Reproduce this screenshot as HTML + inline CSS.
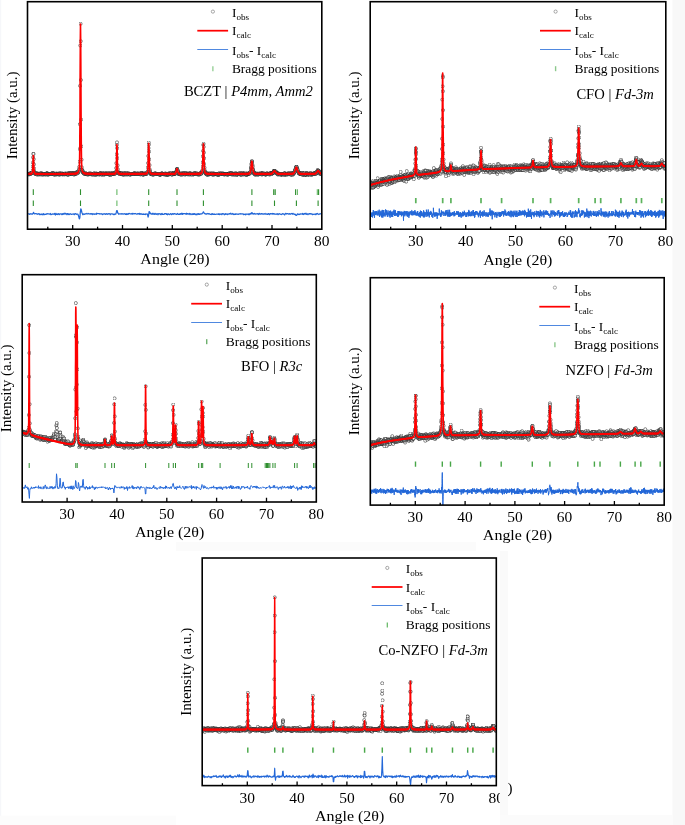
<!DOCTYPE html>
<html><head><meta charset="utf-8"><title>XRD Rietveld refinement</title>
<style>
html,body{margin:0;padding:0;background:#fff}
body{width:685px;height:825px;overflow:hidden}
svg{display:block}
text{font-family:"Liberation Serif","Times New Roman",serif;fill:#000}
.tk text{font-size:14.6px;text-anchor:middle}
.ax{font-size:15px}
.lg text{font-size:13.45px}
.sb{font-size:9.1px}
.lb{font-size:14.6px}
</style></head><body>
<svg width="685" height="825" viewBox="0 0 685 825">
<defs><marker id="mk" markerWidth="4" markerHeight="4" refX="2" refY="2" markerUnits="userSpaceOnUse"><circle cx="2" cy="2" r="1.6" fill="#fff" fill-opacity="0.5" stroke="#1a1a1a" stroke-width="0.5"/></marker></defs>
<rect width="685" height="825" fill="#fff"/>
<rect x="672.5" y="0" width="12.5" height="825" fill="#f8f8f8"/>
<rect x="176" y="542" width="300" height="9" fill="#fbfbfb"/>
<rect x="500" y="551" width="8" height="274" fill="#fafafa"/>
<rect x="500" y="815" width="172.5" height="10" fill="#fbfbfb"/>
<rect x="0" y="0" width="1.2" height="825" fill="#f6f7fa"/>
<rect x="0" y="815.7" width="176" height="9.3" fill="#fcfcfc"/>
<g id="p1">
<clipPath id="clipp1"><rect x="27.5" y="1.7" width="294.3" height="227.5"/></clipPath>
<g clip-path="url(#clipp1)">
<polyline fill="none" stroke="none" marker-start="url(#mk)" marker-mid="url(#mk)" marker-end="url(#mk)" points="27.5,174 27.7,174.1 27.9,173.8 28.1,173.5 28.3,173.7 28.5,173.5 28.7,174 28.9,174.5 29.1,173.7 29.3,173.6 29.5,174.1 29.7,174 29.9,173.9 30.1,173.4 30.3,173.8 30.5,174.1 30.7,173.2 30.9,173.5 31.1,172.8 31.3,173.1 31.5,172.7 31.7,173.3 31.9,172.7 32.1,173 32.3,172.2 32.5,170.5 32.7,166.5 32.9,162.7 33.1,157.4 33.3,153.8 33.5,154 33.7,159.2 33.9,164.4 34.1,168.5 34.3,171.8 34.5,172.1 34.7,173 34.9,173.7 35.1,173.2 35.3,173.5 35.5,173.7 35.7,173.7 35.9,173.2 36.1,173.8 36.3,174.4 36.5,173.1 36.7,174.2 36.9,173.9 37.1,173.6 37.3,174.8 37.5,174.2 37.7,173.4 37.9,174 38.1,174.2 38.3,173.8 38.5,174.2 38.7,173.9 38.9,174.2 39.1,174.6 39.3,173.6 39.5,174 39.7,173.7 39.9,174 40.1,173.4 40.3,173.7 40.5,173.9 40.7,174.4 40.9,174.5 41.1,173.4 41.3,173.6 41.4,174.3 41.6,173.1 41.8,173.8 42,173.9 42.2,174.5 42.4,174.3 42.6,173.8 42.8,173.8 43,173.9 43.2,174.7 43.4,173.8 43.6,173.8 43.8,174.1 44,173.9 44.2,173.9 44.4,173.5 44.6,174 44.8,173.8 45,174.5 45.2,174.3 45.4,174 45.6,174.3 45.8,173.8 46,174.5 46.2,174 46.4,174.2 46.6,173.4 46.8,174.1 47,173.2 47.2,173.1 47.4,173.8 47.6,173.6 47.8,174.1 48,175 48.2,173.6 48.4,173.7 48.6,174.1 48.8,174.2 49,173.9 49.2,173.9 49.4,174.3 49.6,174.2 49.8,173.5 50,173.9 50.2,174 50.4,173.5 50.6,174.1 50.8,173.6 51,174.4 51.2,174.1 51.4,174 51.6,173.7 51.8,173.9 52,173.1 52.2,173.5 52.4,174.1 52.6,173 52.8,174.4 53,173.2 53.2,174.3 53.4,173.6 53.6,174.3 53.8,174 54,173.3 54.2,174.5 54.4,174.6 54.6,174 54.8,173.9 55,173.9 55.2,173.5 55.4,174.5 55.6,173.7 55.8,174 56,173.6 56.2,173.7 56.4,173.4 56.6,174.5 56.8,173.9 57,174.4 57.2,174 57.4,173.7 57.6,173.8 57.8,173.7 58,174 58.2,173.8 58.4,173.8 58.6,173.4 58.8,173.6 59,174.7 59.2,173.7 59.4,173.5 59.6,174.1 59.8,174.6 60,173.3 60.2,173.9 60.4,173.7 60.6,173.2 60.8,174.3 61,174 61.2,174 61.4,173.6 61.6,174.2 61.8,173.7 62,173.9 62.2,173.5 62.4,173.4 62.6,174.6 62.8,173.7 63,174.1 63.2,173.9 63.4,173.8 63.6,173.7 63.8,174.2 64,173.8 64.2,173.9 64.4,174 64.6,174.5 64.8,174.3 65,174.1 65.2,173.7 65.4,173.3 65.6,174.4 65.8,174.4 66,173.9 66.2,174.2 66.4,174.3 66.6,174.3 66.8,174.4 67,173.7 67.2,174.6 67.4,173.4 67.6,174.3 67.8,174.2 68,174.3 68.2,174.8 68.4,174.6 68.6,173.4 68.8,173.2 69,174.3 69.1,173.5 69.3,173.9 69.5,174.3 69.7,173.2 69.9,173 70.1,174 70.3,173.9 70.5,173.8 70.7,173.9 70.9,173.5 71.1,173.2 71.3,173.8 71.5,173.4 71.7,173.1 71.9,174.1 72.1,173.8 72.3,174 72.5,173.4 72.7,173.5 72.9,173.4 73.1,173.4 73.3,173.9 73.5,173.4 73.7,173.9 73.9,173.9 74.1,174.7 74.3,173.1 74.5,174.1 74.7,173.7 74.9,173.7 75.1,173 75.3,173.4 75.5,173.9 75.7,173.5 75.9,173.6 76.1,173.4 76.3,174 76.5,173.4 76.7,172.3 76.9,172.9 77.1,172.3 77.3,171.6 77.5,172.7 77.7,173.3 77.9,172.6 78.1,171.8 78.3,171.6 78.5,172.1 78.7,171.2 78.9,170.4 79.1,169.2 79.3,166.9 79.5,161.8 79.7,149 79.9,124.2 80.1,85.8 80.3,45.5 80.5,23.8 80.7,41.2 80.9,80 81.1,119.6 81.3,146.3 81.5,159.7 81.7,167.2 81.9,169.6 82.1,170 82.3,171.4 82.5,171.7 82.7,170.8 82.9,172.4 83.1,172.5 83.3,172.8 83.5,172.4 83.7,172.9 83.9,173 84.1,173.8 84.3,173.4 84.5,173.4 84.7,174.1 84.9,173.2 85.1,173.3 85.3,172.7 85.5,174.3 85.7,174.1 85.9,174.1 86.1,174 86.3,173.7 86.5,173.8 86.7,173.6 86.9,173.7 87.1,173.8 87.3,174.5 87.5,174 87.7,173.8 87.9,173.5 88.1,173.5 88.3,174.6 88.5,174.1 88.7,173.9 88.9,173.7 89.1,173.4 89.3,173.8 89.5,174.3 89.7,173.7 89.9,173.8 90.1,173.8 90.3,173.9 90.5,173.2 90.7,173.8 90.9,173.5 91.1,174.3 91.3,173.6 91.5,174.2 91.7,174.6 91.9,173.8 92.1,173.6 92.3,174 92.5,173.9 92.7,173.5 92.9,174.1 93.1,174.8 93.3,173.8 93.5,173.8 93.7,173.5 93.9,174.1 94.1,173.4 94.3,173.4 94.5,174.5 94.7,173.5 94.9,174.4 95.1,174.6 95.3,174.1 95.5,174.2 95.7,174.8 95.9,173.9 96.1,173.7 96.3,173.3 96.5,174 96.7,174.6 96.8,174.4 97,173.5 97.2,173.6 97.4,173.7 97.6,174.1 97.8,173.9 98,174.1 98.2,174.1 98.4,173.8 98.6,173.9 98.8,174.1 99,173.9 99.2,174.2 99.4,174.8 99.6,174.2 99.8,174 100,173.2 100.2,174.1 100.4,173.1 100.6,173.3 100.8,174.4 101,174.3 101.2,173.9 101.4,173.2 101.6,173.8 101.8,173.7 102,174.3 102.2,175 102.4,174.1 102.6,173.6 102.8,173.4 103,173.9 103.2,173.9 103.4,173.4 103.6,174 103.8,173.4 104,174.5 104.2,174.4 104.4,174.5 104.6,173.8 104.8,174.2 105,173.9 105.2,173.8 105.4,173.8 105.6,173.4 105.8,173.3 106,174.3 106.2,173.9 106.4,174.1 106.6,174.4 106.8,173.2 107,173.6 107.2,174 107.4,174.1 107.6,173.8 107.8,174.4 108,174.1 108.2,173.4 108.4,173.5 108.6,174.3 108.8,174.2 109,173.1 109.2,174.6 109.4,174.2 109.6,174.6 109.8,173.8 110,173.8 110.2,173.4 110.4,175.1 110.6,173.9 110.8,174.6 111,173.6 111.2,174 111.4,173.2 111.6,173.7 111.8,174.4 112,173.3 112.2,174.4 112.4,174 112.6,173.4 112.8,173.6 113,173.7 113.2,173.8 113.4,173.6 113.6,173.4 113.8,173.7 114,173.3 114.2,173.2 114.4,173.7 114.6,174 114.8,172.9 115,173.5 115.2,173.1 115.4,172.7 115.6,173.2 115.8,172 116,171.8 116.2,168.1 116.4,163.2 116.6,154.2 116.8,144.9 117,142.4 117.2,148.2 117.4,158.1 117.6,165.4 117.8,169.2 118,171.6 118.2,172.6 118.4,173.4 118.6,172.8 118.8,173.4 119,172.7 119.2,173.9 119.4,173.2 119.6,172.9 119.8,173.7 120,174.3 120.2,173.1 120.4,173.3 120.6,173.5 120.8,173.3 121,174 121.2,173.5 121.4,173.6 121.6,174.2 121.8,173.6 122,174.1 122.2,173.5 122.4,173.4 122.6,173.1 122.8,174.8 123,173.8 123.2,174 123.4,173.9 123.6,174 123.8,174 124,174.8 124.2,173.5 124.4,173.3 124.5,173.5 124.7,173.4 124.9,174.3 125.1,174.3 125.3,173.5 125.5,173.3 125.7,173.8 125.9,174.6 126.1,172.7 126.3,174.2 126.5,173.5 126.7,174.4 126.9,173.5 127.1,173.8 127.3,173.3 127.5,173.5 127.7,174.6 127.9,174.3 128.1,173.8 128.3,173.6 128.5,173.1 128.7,173.8 128.9,174 129.1,173.9 129.3,173.9 129.5,173.5 129.7,173.9 129.9,174 130.1,174.6 130.3,174.8 130.5,173.9 130.7,173.6 130.9,173.9 131.1,173.7 131.3,173.6 131.5,173.9 131.7,173.5 131.9,174.2 132.1,173.9 132.3,174.1 132.5,173.9 132.7,173.6 132.9,173.5 133.1,173.9 133.3,173.7 133.5,174.1 133.7,174 133.9,173.4 134.1,174 134.3,173.4 134.5,173.7 134.7,173.8 134.9,173 135.1,174 135.3,174 135.5,173.9 135.7,173.8 135.9,173.8 136.1,173.5 136.3,173.9 136.5,173.7 136.7,174 136.9,173.4 137.1,174.1 137.3,174 137.5,173.9 137.7,173.8 137.9,174.2 138.1,173.2 138.3,174.2 138.5,174.1 138.7,174.1 138.9,174.1 139.1,173.7 139.3,173.8 139.5,174.2 139.7,174.2 139.9,174.1 140.1,173.3 140.3,174.2 140.5,174.5 140.7,174.4 140.9,174.1 141.1,173.2 141.3,174.4 141.5,173.9 141.7,172.8 141.9,174.1 142.1,173.3 142.3,173.3 142.5,173.6 142.7,174.5 142.9,173.8 143.1,174 143.3,174.7 143.5,174.6 143.7,173.8 143.9,173.8 144.1,173.3 144.3,173.6 144.5,174 144.7,174 144.9,173.9 145.1,174.3 145.3,173.4 145.5,173.7 145.7,174.1 145.9,174 146.1,174.1 146.3,173.8 146.5,173.4 146.7,173.6 146.9,172.9 147.1,172.4 147.3,173.1 147.5,172.2 147.7,171.1 147.9,167.4 148.1,163.1 148.3,156 148.5,148.1 148.7,142.5 148.9,144.6 149.1,151.6 149.3,159.2 149.5,165.1 149.7,169.4 149.9,171.9 150.1,171.3 150.3,172.9 150.5,173.5 150.7,173.7 150.9,174.2 151.1,174.1 151.3,173.8 151.5,173.8 151.7,174.1 151.9,173.5 152,173.8 152.2,174.2 152.4,174.7 152.6,173.8 152.8,173.8 153,173.9 153.2,174.5 153.4,173.9 153.6,174.6 153.8,173.5 154,173.8 154.2,173.8 154.4,174.3 154.6,174.4 154.8,173.2 155,173.5 155.2,174.1 155.4,173.6 155.6,173.3 155.8,174.4 156,174.2 156.2,174.2 156.4,173.7 156.6,174.4 156.8,173.8 157,174.4 157.2,173.5 157.4,173.6 157.6,174.1 157.8,173.6 158,174.3 158.2,174.1 158.4,173.5 158.6,174 158.8,173.8 159,174.4 159.2,173.7 159.4,173.8 159.6,174.5 159.8,175 160,174.9 160.2,174 160.4,174.1 160.6,174.7 160.8,173.9 161,173.5 161.2,174 161.4,174.2 161.6,173.6 161.8,173.2 162,173.3 162.2,174.3 162.4,173.6 162.6,173.9 162.8,174.1 163,174.3 163.2,173.8 163.4,174.2 163.6,173.6 163.8,173.8 164,173.5 164.2,174.5 164.4,174 164.6,173.6 164.8,173.8 165,173.9 165.2,174.3 165.4,173.3 165.6,173.5 165.8,173.8 166,175.1 166.2,174.4 166.4,173.9 166.6,174.3 166.8,174.9 167,173.9 167.2,173.8 167.4,174.5 167.6,174.2 167.8,174.3 168,173.7 168.2,174.8 168.4,174.7 168.6,174.2 168.8,174.3 169,173.1 169.2,174.3 169.4,173.9 169.6,174.2 169.8,174.3 170,173.8 170.2,173.2 170.4,174.1 170.6,173.6 170.8,173.8 171,173.7 171.2,173.8 171.4,172.9 171.6,174.5 171.8,174.1 172,174.4 172.2,174.8 172.4,173.9 172.6,173.1 172.8,173.5 173,173.4 173.2,173.7 173.4,173.9 173.6,173 173.8,174 174,173.2 174.2,174 174.4,173.8 174.6,173.7 174.8,173.7 175,173.5 175.2,173.3 175.4,172.7 175.6,173.1 175.8,173.5 176,173 176.2,172 176.4,171 176.6,169.5 176.8,169.8 177,168.8 177.2,168.9 177.4,169.3 177.6,170.2 177.8,170.7 178,171.7 178.2,171.9 178.4,172.7 178.6,174.3 178.8,173.5 179,173.5 179.2,174 179.4,174.1 179.6,173.3 179.7,173.8 179.9,174.3 180.1,174 180.3,173.9 180.5,174.6 180.7,173.6 180.9,174 181.1,173.7 181.3,174.6 181.5,173.1 181.7,173.6 181.9,173.7 182.1,174.2 182.3,174.2 182.5,174.6 182.7,173.2 182.9,174.3 183.1,173.8 183.3,173.7 183.5,174.2 183.7,173.5 183.9,173 184.1,173.8 184.3,173.3 184.5,173.7 184.7,174.1 184.9,174.1 185.1,174.7 185.3,173.9 185.5,173.3 185.7,173.6 185.9,173.6 186.1,173.4 186.3,174.2 186.5,173.7 186.7,173.1 186.9,174.3 187.1,173.9 187.3,174.1 187.5,174 187.7,174.3 187.9,174 188.1,174.5 188.3,174.2 188.5,174.1 188.7,174.2 188.9,173.3 189.1,173.9 189.3,173.9 189.5,174.1 189.7,173.4 189.9,174.7 190.1,174 190.3,173.4 190.5,173.2 190.7,173.8 190.9,173.9 191.1,173.6 191.3,174 191.5,173.7 191.7,174.2 191.9,173.6 192.1,173.9 192.3,174.4 192.5,175.1 192.7,173.5 192.9,173.7 193.1,173.6 193.3,174.3 193.5,173.4 193.7,173.7 193.9,173.9 194.1,173.5 194.3,173.5 194.5,173.7 194.7,173 194.9,173.3 195.1,173.8 195.3,174 195.5,173.8 195.7,173.1 195.9,173.7 196.1,174.3 196.3,174.2 196.5,173.9 196.7,173.5 196.9,174.2 197.1,173.6 197.3,173.4 197.5,173.5 197.7,174.5 197.9,174 198.1,174.4 198.3,173.6 198.5,174.3 198.7,173.6 198.9,173.7 199.1,174.9 199.3,174.1 199.5,173.5 199.7,173.7 199.9,173.8 200.1,174.2 200.3,173.4 200.5,172.8 200.7,173.4 200.9,173.5 201.1,173.4 201.3,173.8 201.5,173.2 201.7,173.1 201.9,171.8 202.1,171.7 202.3,170.5 202.5,166.9 202.7,162.2 202.9,156.3 203.1,150.9 203.3,144.8 203.5,143.8 203.7,146.9 203.9,152.6 204.1,158.3 204.3,164 204.5,167.7 204.7,170.4 204.9,171.7 205.1,172 205.3,172.9 205.5,173.5 205.7,172.8 205.9,173.3 206.1,173.8 206.3,173.1 206.5,173.7 206.7,173.2 206.9,174.2 207.1,174.8 207.3,174.7 207.4,173.7 207.6,174.1 207.8,173.9 208,173.9 208.2,174.5 208.4,173.3 208.6,174.3 208.8,173.8 209,174.5 209.2,174 209.4,173.6 209.6,174 209.8,174.2 210,173.9 210.2,174.1 210.4,173.7 210.6,173 210.8,174.3 211,174.2 211.2,174 211.4,174 211.6,174.4 211.8,173.7 212,173.6 212.2,173.9 212.4,174.5 212.6,173.3 212.8,174.5 213,173.7 213.2,173.5 213.4,174.5 213.6,173.9 213.8,173.4 214,173.8 214.2,174.4 214.4,174.5 214.6,173.8 214.8,174.1 215,174.3 215.2,173.7 215.4,174.1 215.6,174 215.8,173.7 216,173.7 216.2,174 216.4,174 216.6,173.7 216.8,173.8 217,174.5 217.2,174.1 217.4,174.4 217.6,174.5 217.8,174.2 218,175 218.2,173.6 218.4,174.3 218.6,173.8 218.8,174.8 219,174.7 219.2,173.1 219.4,173.5 219.6,174.3 219.8,174.3 220,174.3 220.2,173.9 220.4,174.2 220.6,174.3 220.8,173.9 221,174.4 221.2,173 221.4,174.3 221.6,173.5 221.8,174.4 222,173.9 222.2,173.6 222.4,174.2 222.6,173.6 222.8,173.6 223,173.3 223.2,174 223.4,174.2 223.6,174.4 223.8,173.9 224,174.5 224.2,174 224.4,173.9 224.6,174.2 224.8,174.5 225,173.8 225.2,173.9 225.4,173.9 225.6,174 225.8,173.6 226,174.4 226.2,173.8 226.4,174.2 226.6,173.6 226.8,174.1 227,174.2 227.2,173.8 227.4,174.9 227.6,174.2 227.8,174.8 228,174.4 228.2,173.7 228.4,173.8 228.6,174.2 228.8,174 229,174 229.2,173.9 229.4,173.2 229.6,173.9 229.8,173 230,174.2 230.2,173.7 230.4,173.7 230.6,173.9 230.8,174.1 231,173.3 231.2,173.2 231.4,173.5 231.6,173.1 231.8,173.5 232,174.7 232.2,173.5 232.4,174.3 232.6,173.4 232.8,174.1 233,173.8 233.2,174 233.4,174.2 233.6,174.8 233.8,174.1 234,174 234.2,173.5 234.4,174.2 234.6,173.9 234.8,174.4 235,174 235.1,174.8 235.3,173.1 235.5,173.8 235.7,174.4 235.9,173.8 236.1,173.6 236.3,173.9 236.5,173.4 236.7,174 236.9,175.1 237.1,174.5 237.3,173.5 237.5,173.6 237.7,173.8 237.9,174.4 238.1,173.6 238.3,173.7 238.5,174.4 238.7,174.4 238.9,173.8 239.1,173.5 239.3,173.3 239.5,173.7 239.7,173 239.9,174.3 240.1,173.7 240.3,174.2 240.5,174.8 240.7,174.5 240.9,173.4 241.1,174.4 241.3,174.5 241.5,173.6 241.7,173.5 241.9,173.9 242.1,173.2 242.3,174.6 242.5,172.9 242.7,173.5 242.9,173.8 243.1,173.9 243.3,174 243.5,174.1 243.7,173.9 243.9,174.5 244.1,173 244.3,173.9 244.5,173.6 244.7,174 244.9,174 245.1,173.5 245.3,173.6 245.5,174.3 245.7,174.1 245.9,173.6 246.1,174.8 246.3,174.9 246.5,173.2 246.7,174 246.9,175 247.1,174.2 247.3,173.9 247.5,173.7 247.7,173.6 247.9,173.7 248.1,173.5 248.3,174.1 248.5,173.6 248.7,173.5 248.9,173.1 249.1,173.6 249.3,173.1 249.5,173.4 249.7,173.7 249.9,173.2 250.1,172.8 250.3,172.1 250.5,171.1 250.7,169.7 250.9,168.1 251.1,166.7 251.3,164 251.5,163.4 251.7,161.6 251.9,161 252.1,161.7 252.3,163.1 252.5,165.2 252.7,166.7 252.9,169.3 253.1,169.9 253.3,170.4 253.5,171.9 253.7,171.9 253.9,173.1 254.1,173.8 254.3,173.8 254.5,173 254.7,173.3 254.9,174.5 255.1,173.9 255.3,173.7 255.5,174.2 255.7,174.9 255.9,174.4 256.1,173.9 256.3,174 256.5,174.1 256.7,173.6 256.9,173.4 257.1,173.9 257.3,173.5 257.5,173.9 257.7,173.9 257.9,175 258.1,173.5 258.3,173.9 258.5,173.8 258.7,174.1 258.9,174.4 259.1,173.7 259.3,173.6 259.5,173.2 259.7,173.5 259.9,174.2 260.1,174 260.3,173.5 260.5,173.8 260.7,174 260.9,174.2 261.1,173.7 261.3,173.8 261.5,173.1 261.7,173.4 261.9,174.7 262.1,173 262.3,173.8 262.5,174.1 262.7,173.8 262.8,173.6 263,173.9 263.2,174 263.4,173.9 263.6,173.1 263.8,173.9 264,173.6 264.2,173.7 264.4,174.1 264.6,174.2 264.8,174.4 265,173.7 265.2,174.4 265.4,174.5 265.6,174.5 265.8,174.6 266,173.9 266.2,173.9 266.4,174.3 266.6,173.3 266.8,174 267,173.7 267.2,173.8 267.4,173.2 267.6,173.5 267.8,173.9 268,174.3 268.2,174.4 268.4,173.9 268.6,173.8 268.8,173.5 269,174.1 269.2,173.8 269.4,174.2 269.6,174.7 269.8,173.9 270,173.2 270.2,173.5 270.4,173.2 270.6,173.3 270.8,174.4 271,173.9 271.2,173.1 271.4,174 271.6,174.2 271.8,173.4 272,173.1 272.2,173.1 272.4,173.2 272.6,173.2 272.8,173.2 273,173 273.2,172.7 273.4,172.5 273.6,171.9 273.8,170.7 274,171.2 274.2,171.2 274.4,170.8 274.6,171.4 274.8,171 275,170.9 275.2,172.1 275.4,172 275.6,172.1 275.8,172.7 276,173 276.2,172.9 276.4,171.9 276.6,172.9 276.8,173.1 277,173 277.2,173.7 277.4,174.2 277.6,173.5 277.8,173.3 278,174.7 278.2,173.6 278.4,173.3 278.6,174 278.8,174.1 279,173.6 279.2,174.3 279.4,173.7 279.6,173.5 279.8,174 280,174.3 280.2,173.6 280.4,174.1 280.6,173.9 280.8,175.2 281,173.6 281.2,174.6 281.4,173.9 281.6,173.9 281.8,174.3 282,174.3 282.2,174.5 282.4,174.1 282.6,173.7 282.8,173.7 283,174.2 283.2,174.2 283.4,174.6 283.6,174.1 283.8,174.4 284,174.6 284.2,174 284.4,173.3 284.6,173.4 284.8,173.3 285,174.7 285.2,173.6 285.4,174.5 285.6,174.2 285.8,174.7 286,174.4 286.2,173.9 286.4,173.9 286.6,174 286.8,174 287,173.7 287.2,173.9 287.4,174.7 287.6,173.2 287.8,174.1 288,173.5 288.2,174 288.4,174.3 288.6,173.9 288.8,174.3 289,173.2 289.2,174.4 289.4,173.6 289.6,174.2 289.8,174 290,172.7 290.2,173.6 290.4,174 290.5,174.6 290.7,174 290.9,174 291.1,173.2 291.3,174.5 291.5,174.7 291.7,173.8 291.9,173.7 292.1,173.1 292.3,174.2 292.5,175 292.7,174 292.9,174.2 293.1,173.8 293.3,173.1 293.5,174 293.7,172.7 293.9,172.9 294.1,172.9 294.3,172.8 294.5,172.2 294.7,171.7 294.9,170.6 295.1,169.8 295.3,169.7 295.5,168.7 295.7,167.9 295.9,167.4 296.1,167.4 296.3,166.6 296.5,166.8 296.7,167 296.9,168.2 297.1,168.9 297.3,170.2 297.5,169.3 297.7,170.3 297.9,171.6 298.1,171.6 298.3,172 298.5,173.3 298.7,172.7 298.9,172.6 299.1,172.7 299.3,173.6 299.5,173.7 299.7,173 299.9,173.2 300.1,174 300.3,174 300.5,173.5 300.7,174.1 300.9,174.1 301.1,173 301.3,173.7 301.5,174 301.7,173.6 301.9,172.9 302.1,173.8 302.3,174.2 302.5,174.6 302.7,172.9 302.9,175.1 303.1,173.4 303.3,174.3 303.5,174.5 303.7,174.4 303.9,174 304.1,173.4 304.3,174.2 304.5,173.6 304.7,172.8 304.9,175.2 305.1,174.3 305.3,174.8 305.5,173.5 305.7,174.6 305.9,174.7 306.1,174.6 306.3,173.9 306.5,173.4 306.7,173.9 306.9,173 307.1,173.2 307.3,174 307.5,173.5 307.7,173.9 307.9,173.9 308.1,174.8 308.3,174.5 308.5,173.9 308.7,174.5 308.9,173.6 309.1,173.8 309.3,174.4 309.5,173.4 309.7,173.8 309.9,173.4 310.1,174 310.3,174.7 310.5,173.6 310.7,174 310.9,173.5 311.1,173.4 311.3,173.4 311.5,174.6 311.7,175 311.9,174.1 312.1,173.6 312.3,174.2 312.5,173.8 312.7,174.3 312.9,174 313.1,174 313.3,174.2 313.5,173.6 313.7,173.7 313.9,173.1 314.1,173.7 314.3,173.2 314.5,173.7 314.7,173.3 314.9,173.8 315.1,173.9 315.3,173 315.5,173.1 315.7,173 315.9,173.6 316.1,173.8 316.3,173.2 316.5,172.4 316.7,173 316.9,171.4 317.1,172.5 317.3,171.2 317.5,170 317.7,172.2 317.9,171.6 318.1,170.3 318.2,170.9 318.4,170.8 318.6,171.1 318.8,170.7 319,171.3 319.2,172.1 319.4,172.3 319.6,173 319.8,172.7 320,174 320.2,172.8 320.4,173.4 320.6,172.6 320.8,173 321,174.2 321.2,173.3 321.4,174 321.6,173.8"/>
<polygon fill="#ff0000" points="28,172.8 31.1,172.6 31.8,172.4 32,172.2 32.2,171.8 32.4,171 32.5,170.3 32.6,169.1 32.8,165.8 33.2,156.5 33.3,154.4 33.5,155.5 33.5,156.5 33.9,165.8 34,167.1 34.1,169.1 34.3,171 34.5,171.8 34.7,172.2 35,172.5 36.5,172.7 47.4,172.9 71.8,172.7 75.3,172.5 76.9,172.1 77.8,171.5 78.3,170.9 78.6,170.2 78.8,169.6 79,168.8 79.2,167.3 79.3,165.8 79.4,164.3 79.6,157.3 79.8,142.4 79.8,137.3 80,115.7 80.1,78.1 80.3,44.4 80.3,40.1 80.5,22.9 80.7,40.1 80.8,58 80.9,78.1 81.1,115.7 81.3,142.4 81.3,145 81.5,157.3 81.7,164.3 81.8,166.8 81.8,167.3 82,168.8 82.3,169.9 82.6,170.7 83,171.3 83.6,171.8 84.3,172.2 86.3,172.6 92.3,172.8 112.2,172.8 114.6,172.6 115.4,172.2 115.8,171.8 115.9,171.2 116.1,169.8 116.2,168.6 116.3,166.9 116.4,161.6 116.6,154.2 116.7,150.7 116.8,146.8 116.9,143.4 117.1,146.8 117.2,149.4 117.3,154.2 117.4,161.6 117.6,166.9 117.7,168.1 117.8,169.8 118,171.2 118.2,171.9 118.5,172.2 119.3,172.6 121.7,172.8 142.6,172.8 145.8,172.6 146.8,172.2 147.1,172 147.3,171.7 147.5,171.1 147.6,170.6 147.7,169.7 147.9,166.6 148.1,162.2 148.1,161.1 148.5,145.6 148.6,144.3 148.7,142.1 148.9,145.6 149.1,150 149.1,153.4 149.4,161.1 149.6,166.6 149.8,169.7 150,171.1 150.2,171.7 150.6,172.2 151.4,172.5 154,172.8 172.6,172.8 174.7,172.7 175,172.6 175.5,172.2 175.7,171.8 176,170.9 176.7,168.3 177,167.7 177,167.7 177.4,168.3 178,170.9 178.5,172 178.7,172.3 179.1,172.6 180.4,172.8 195.4,172.8 199.5,172.6 200.9,172.3 201.4,172 201.6,171.8 201.9,171.1 202.1,169.7 202.4,167.1 202.4,166.7 202.7,161.4 202.9,155.2 202.9,153.8 203.2,146.1 203.4,142.9 203.4,142.7 203.7,146.1 203.9,151.1 203.9,153.8 204.2,161.4 204.4,164.9 204.5,166.7 204.7,169.7 204.9,170.6 205,171.1 205.2,171.8 205.5,172 206.4,172.4 208.6,172.7 223.3,172.9 246.5,172.8 249,172.5 249.3,172.4 249.7,172.1 250.1,171.6 250.2,171.2 250.4,170.3 250.7,168.7 250.8,168 251.5,161.6 251.7,160.5 251.9,160.2 252.2,161.5 252.7,165.9 252.9,168 253.2,169.7 253.3,170.3 253.7,171.6 254,172.1 254.4,172.4 255.8,172.7 262.6,172.8 270.6,172.7 271.6,172.5 272.1,172.2 272.7,171.7 273.9,170.2 274.1,170 274.6,169.9 275.1,170.3 276.3,171.7 277.1,172.4 278.1,172.7 283.6,172.8 291.5,172.7 293.1,172.5 293.7,172.2 294.2,171.5 294.5,170.9 295,169.5 295.8,167 296,166.6 296.4,166.3 296.5,166.3 296.9,167 298,170.4 298.6,171.5 299.1,172.2 299.7,172.5 301.3,172.7 311.5,172.8 314.5,172.7 315.5,172.4 316,172 316.5,171.5 317.5,170 317.9,169.7 318.1,169.7 318.4,169.8 318.9,170.3 319.9,171.7 320.5,172.2 321.4,172.6 321.7,172.7 321.7,174.9 321.4,174.9 320.5,174.5 319.9,173.9 318.9,172.6 318.4,172 318.1,171.9 317.9,172 317.5,172.3 316.5,173.7 316,174.3 315.5,174.6 314.5,174.9 311.5,175.1 301.3,175 299.7,174.7 299.1,174.4 298.6,173.8 298,172.6 296.9,169.3 296.5,168.6 296.4,168.5 296,168.9 295.8,169.3 295,171.8 294.5,173.1 294.2,173.8 293.7,174.4 293.1,174.7 291.5,175 283.6,175.1 278.1,174.9 277.1,174.6 276.3,174 275.1,172.5 274.6,172.1 274.1,172.3 273.9,172.5 272.7,174 272.1,174.5 271.6,174.7 270.6,175 262.6,175.1 255.8,174.9 254.4,174.6 254,174.4 253.7,173.9 253.3,172.5 253.2,172 252.9,170.3 252.7,168.2 252.2,163.7 251.9,162.4 251.7,162.8 251.5,163.9 250.8,170.3 250.7,170.9 250.4,172.5 250.2,173.4 250.1,173.8 249.7,174.4 249.3,174.6 249,174.8 246.5,175 223.3,175.1 208.6,175 206.4,174.7 205.5,174.3 205.2,174 205,173.4 204.9,172.9 204.7,172 204.5,169 204.4,167.1 204.2,163.6 203.9,156 203.9,153.4 203.7,148.4 203.4,144.9 203.4,145.2 203.2,148.4 202.9,156 202.9,157.4 202.7,163.6 202.4,169 202.4,169.4 202.1,172 201.9,173.4 201.6,174 201.4,174.3 200.9,174.6 199.5,174.9 195.4,175.1 180.4,175 179.1,174.8 178.7,174.6 178.5,174.2 178,173.1 177.4,170.5 177,169.9 177,169.9 176.7,170.5 176,173.1 175.7,174.1 175.5,174.4 175,174.8 174.7,174.9 172.6,175.1 154,175 151.4,174.8 150.6,174.4 150.2,174 150,173.4 149.8,171.9 149.6,168.9 149.4,163.4 149.1,155.7 149.1,152.3 148.9,147.9 148.7,144.3 148.6,146.6 148.5,147.9 148.1,163.4 148.1,164.5 147.9,168.9 147.7,171.9 147.6,172.8 147.5,173.4 147.3,174 147.1,174.3 146.8,174.5 145.8,174.8 142.6,175.1 121.7,175 119.3,174.8 118.5,174.5 118.2,174.1 118,173.4 117.8,172.1 117.7,170.3 117.6,169.1 117.4,163.9 117.3,156.5 117.2,151.6 117.1,149 116.9,145.6 116.8,149 116.7,153 116.6,156.5 116.4,163.9 116.3,169.1 116.2,170.8 116.1,172.1 115.9,173.4 115.8,174 115.4,174.5 114.6,174.8 112.2,175 92.3,175 86.3,174.8 84.3,174.4 83.6,174 83,173.5 82.6,172.9 82.3,172.1 82,171 81.8,169.6 81.8,169.1 81.7,166.5 81.5,159.6 81.3,147.2 81.3,144.7 81.1,118 80.9,80.3 80.8,60.2 80.7,42.4 80.5,25.1 80.3,42.4 80.3,46.7 80.1,80.3 80,118 79.8,139.5 79.8,144.7 79.6,159.6 79.4,166.5 79.3,168 79.2,169.6 79,171 78.8,171.9 78.6,172.5 78.3,173.1 77.8,173.8 76.9,174.4 75.3,174.8 71.8,175 47.4,175.1 36.5,175 35,174.7 34.7,174.4 34.5,174.1 34.3,173.2 34.1,171.4 34,169.4 33.9,168.1 33.5,158.7 33.5,157.7 33.3,156.6 33.2,158.7 32.8,168.1 32.6,171.4 32.5,172.5 32.4,173.2 32.2,174.1 32,174.4 31.8,174.6 31.1,174.9 28,175.1"/>
<polyline fill="none" stroke="#ff0000" stroke-width="1.6" stroke-linejoin="round" points="28,174 31.1,173.8 31.8,173.5 32,173.3 32.2,172.9 32.4,172.1 32.5,171.4 32.6,170.2 32.8,166.9 33.2,157.6 33.3,155.5 33.5,156.6 33.5,157.6 33.9,166.9 34,168.3 34.1,170.2 34.3,172.1 34.5,172.9 34.7,173.3 35,173.6 36.5,173.9 47.4,174 71.8,173.9 75.3,173.6 76.9,173.2 77.8,172.7 78.3,172 78.6,171.3 78.8,170.8 79,169.9 79.2,168.4 79.3,166.9 79.4,165.4 79.6,158.4 79.8,143.6 79.8,138.4 80,116.9 80.1,79.2 80.3,45.6 80.3,41.2 80.5,24 80.7,41.2 80.8,59.1 80.9,79.2 81.1,116.9 81.3,143.6 81.3,146.1 81.5,158.4 81.7,165.4 81.8,167.9 81.8,168.4 82,169.9 82.3,171 82.6,171.8 83,172.4 83.6,172.9 84.3,173.3 86.3,173.7 92.3,173.9 112.2,173.9 114.6,173.7 115.4,173.4 115.8,172.9 115.9,172.3 116.1,170.9 116.2,169.7 116.3,168 116.4,162.8 116.6,155.3 116.7,151.9 116.8,147.9 116.9,144.5 117.1,147.9 117.2,150.5 117.3,155.3 117.4,162.8 117.6,168 117.7,169.2 117.8,170.9 118,172.3 118.2,173 118.5,173.4 119.3,173.7 121.7,173.9 142.6,173.9 145.8,173.7 146.8,173.3 147.1,173.1 147.3,172.9 147.5,172.2 147.6,171.7 147.7,170.8 147.9,167.7 148.1,163.4 148.1,162.3 148.5,146.7 148.6,145.5 148.7,143.2 148.9,146.7 149.1,151.2 149.1,154.5 149.4,162.3 149.6,167.7 149.8,170.8 150,172.2 150.2,172.9 150.6,173.3 151.4,173.7 154,173.9 172.6,173.9 174.7,173.8 175,173.7 175.5,173.3 175.7,172.9 176,172 176.7,169.4 177,168.8 177,168.8 177.4,169.4 178,172 178.5,173.1 178.7,173.4 179.1,173.7 180.4,173.9 195.4,173.9 199.5,173.7 200.9,173.4 201.4,173.2 201.6,172.9 201.9,172.3 202.1,170.9 202.4,168.2 202.4,167.9 202.7,162.5 202.9,156.3 202.9,154.9 203.2,147.3 203.4,144 203.4,143.8 203.7,147.3 203.9,152.2 203.9,154.9 204.2,162.5 204.4,166 204.5,167.9 204.7,170.9 204.9,171.7 205,172.3 205.2,172.9 205.5,173.2 206.4,173.6 208.6,173.9 223.3,174 246.5,173.9 249,173.6 249.3,173.5 249.7,173.3 250.1,172.7 250.2,172.3 250.4,171.4 250.7,169.8 250.8,169.2 251.5,162.8 251.7,161.6 251.9,161.3 252.2,162.6 252.7,167.1 252.9,169.2 253.2,170.9 253.3,171.4 253.7,172.8 254,173.3 254.4,173.5 255.8,173.8 262.6,174 270.6,173.8 271.6,173.6 272.1,173.4 272.7,172.8 273.9,171.3 274.1,171.1 274.6,171 275.1,171.4 276.3,172.8 277.1,173.5 278.1,173.8 283.6,173.9 291.5,173.8 293.1,173.6 293.7,173.3 294.2,172.7 294.5,172 295,170.7 295.8,168.2 296,167.7 296.4,167.4 296.5,167.4 296.9,168.2 298,171.5 298.6,172.7 299.1,173.3 299.7,173.6 301.3,173.8 311.5,173.9 314.5,173.8 315.5,173.5 316,173.2 316.5,172.6 317.5,171.2 317.9,170.8 318.1,170.8 318.4,170.9 318.9,171.5 319.9,172.8 320.5,173.3 321.4,173.8 321.7,173.8"/>
<polyline fill="none" stroke="#2468d8" stroke-width="1.25" stroke-linejoin="round" points="27.5,213.6 28,213.9 28.5,213.8 29,213.8 29.5,214.3 30,214.2 30.5,213.8 31,213.7 31.5,214.1 32,214 32.5,214.1 33,213.5 33.5,212.4 34,213.3 34.5,213.9 35,213.7 35.5,213.7 36,213.6 36.5,213.9 37,213.9 37.5,214.3 38,213.9 38.5,213.9 39,213.6 39.5,214.6 40,214.2 40.5,214.6 41,214.3 41.4,214.5 41.9,213.9 42.4,214.3 42.9,214.9 43.4,213.6 43.9,214.4 44.4,214.6 44.9,214.1 45.4,214.3 45.9,214.4 46.4,213.8 46.9,214.1 47.4,213.7 47.9,213.8 48.4,213.8 48.9,213.9 49.4,214.1 49.9,214.2 50.4,213.5 50.9,214.7 51.4,214.4 51.9,214.3 52.4,213.9 52.9,214 53.4,214.2 53.9,214.1 54.4,213.4 54.9,214.3 55.4,215 55.9,213.3 56.4,214.4 56.9,214.1 57.4,214 57.9,214.5 58.4,213.6 58.9,214.1 59.4,214.5 59.9,213.9 60.4,213.8 60.9,214 61.4,213.8 61.9,214.6 62.4,213.7 62.9,214.3 63.4,213.5 63.9,214.2 64.4,214 64.9,213.1 65.4,214 65.9,213.6 66.4,213.8 66.9,214.6 67.4,213.6 67.9,213.6 68.4,214.5 68.9,214 69.3,214.6 69.8,214.1 70.3,213.7 70.8,214 71.3,214.4 71.8,214.3 72.3,214 72.8,214 73.3,214 73.8,213.8 74.3,214.7 74.8,214 75.3,213.6 75.8,213.8 76.3,214.3 76.8,214.2 77.3,214 77.8,214 78.3,215.2 78.8,216.8 79.3,218.9 79.8,218 80.3,212.3 80.8,208.9 81.3,209.9 81.8,212.2 82.3,213.4 82.8,214.7 83.3,214.2 83.8,213.9 84.3,214.3 84.8,214.1 85.3,213.7 85.8,214 86.3,213.9 86.8,213.3 87.3,213.9 87.8,213.9 88.3,213.8 88.8,213.4 89.3,213.9 89.8,214 90.3,214 90.8,213.6 91.3,214.2 91.8,213.6 92.3,213.9 92.8,214.5 93.3,213.8 93.8,213.8 94.3,214.4 94.8,213.9 95.3,213.9 95.8,214.1 96.3,214.4 96.7,213.2 97.2,213.7 97.7,213.6 98.2,213.6 98.7,213.7 99.2,213.7 99.7,214.1 100.2,213.7 100.7,214 101.2,214.1 101.7,213.7 102.2,214 102.7,214.6 103.2,214.1 103.7,213.8 104.2,214 104.7,213.7 105.2,214.1 105.7,214.3 106.2,213.7 106.7,213.9 107.2,214.4 107.7,213.8 108.2,214.1 108.7,213.6 109.2,213.7 109.7,213.8 110.2,214.8 110.7,213.9 111.2,213.8 111.7,213.8 112.2,213.9 112.7,214.2 113.2,214.1 113.7,214.7 114.2,214.1 114.7,214.5 115.2,214.1 115.7,214.2 116.2,212.7 116.7,210.7 117.2,210.6 117.7,213 118.2,213.2 118.7,214.3 119.2,213.9 119.7,213.8 120.2,213.9 120.7,213.9 121.2,214.1 121.7,213.6 122.2,213.7 122.7,214.1 123.2,214.1 123.7,213.9 124.2,213.8 124.6,213.7 125.1,214 125.6,214.4 126.1,213.6 126.6,214.5 127.1,214.3 127.6,213.8 128.1,214.3 128.6,213.5 129.1,213.4 129.6,213.5 130.1,213.9 130.6,213.9 131.1,213.8 131.6,214 132.1,213.3 132.6,214.2 133.1,213.5 133.6,213.8 134.1,213.9 134.6,213.6 135.1,213.5 135.6,213.6 136.1,214 136.6,214.2 137.1,214.2 137.6,213.7 138.1,213.7 138.6,213.7 139.1,214.2 139.6,213.3 140.1,214.4 140.6,213.8 141.1,213.7 141.6,214.1 142.1,214.4 142.6,214.1 143.1,214.4 143.6,214 144.1,214.4 144.6,214.4 145.1,214 145.6,214.5 146.1,214.1 146.6,214 147.1,213.8 147.6,214.9 148.1,217.1 148.6,215 149.1,211.7 149.6,211.9 150.1,213.6 150.6,213.2 151.1,214 151.6,214.2 152.1,213.7 152.5,214 153,213.2 153.5,214.2 154,213.8 154.5,214.3 155,213.4 155.5,214.2 156,213.9 156.5,214.3 157,213.7 157.5,213.8 158,214.8 158.5,213.7 159,213.8 159.5,213.9 160,213.6 160.5,214.4 161,214.6 161.5,213.8 162,213.4 162.5,214.4 163,214.4 163.5,214.3 164,214.4 164.5,213.7 165,213.9 165.5,213.5 166,213.5 166.5,214.3 167,213.8 167.5,214.8 168,214 168.5,213.8 169,214.3 169.5,214.6 170,214.2 170.5,213.6 171,214.1 171.5,214.5 172,213.8 172.5,213.7 173,214.4 173.5,214 174,213.6 174.5,213.9 175,213.7 175.5,214.1 176,214 176.5,214.4 177,214.2 177.5,213.5 178,214.1 178.5,214.3 179,214.2 179.5,214.4 179.9,213.8 180.4,213.7 180.9,214.3 181.4,213.6 181.9,213.2 182.4,214.4 182.9,213.7 183.4,213.9 183.9,213.5 184.4,213.5 184.9,213.6 185.4,213.9 185.9,214.1 186.4,213.2 186.9,214.3 187.4,213.6 187.9,213.6 188.4,214.2 188.9,214 189.4,213.5 189.9,214.6 190.4,213.7 190.9,214.1 191.4,214.1 191.9,214.5 192.4,213.8 192.9,214.4 193.4,213.7 193.9,214.4 194.4,213.7 194.9,213.9 195.4,214.7 195.9,214.1 196.4,214 196.9,214.8 197.4,214.1 197.9,213.7 198.4,214.3 198.9,213.6 199.4,214.4 199.9,214.4 200.4,213.8 200.9,213.8 201.4,214 201.9,213.9 202.4,213.2 202.9,213.1 203.4,211.8 203.9,212.6 204.4,213.2 204.9,213.7 205.4,214.1 205.9,213.6 206.4,214.2 206.9,213.9 207.4,213.8 207.8,213.5 208.3,213.6 208.8,214.1 209.3,213.7 209.8,214 210.3,214.4 210.8,214.4 211.3,214.5 211.8,213.9 212.3,213.6 212.8,214.4 213.3,214.1 213.8,214.4 214.3,214 214.8,214.4 215.3,214.3 215.8,214.3 216.3,214.2 216.8,214.1 217.3,214.1 217.8,214.1 218.3,214.3 218.8,213.8 219.3,214.6 219.8,214 220.3,214.3 220.8,214 221.3,213.9 221.8,214.7 222.3,213.9 222.8,213.6 223.3,213.8 223.8,213.9 224.3,214.8 224.8,214.1 225.3,214.3 225.8,213.6 226.3,214.1 226.8,214.2 227.3,214.6 227.8,213.8 228.3,214.2 228.8,214.1 229.3,213.6 229.8,214 230.3,213.9 230.8,213.2 231.3,214.2 231.8,214.2 232.3,213.8 232.8,213.5 233.3,214.5 233.8,214.1 234.3,214.4 234.8,214.5 235.2,213.8 235.7,214.3 236.2,213.9 236.7,214 237.2,214 237.7,214 238.2,214.4 238.7,214 239.2,213.9 239.7,213.9 240.2,214.1 240.7,213.7 241.2,213.8 241.7,214 242.2,213.8 242.7,214 243.2,213.8 243.7,214.7 244.2,214.5 244.7,214.2 245.2,214 245.7,214.8 246.2,214.1 246.7,214 247.2,214.1 247.7,214.1 248.2,214.5 248.7,214 249.2,214.7 249.7,213.7 250.2,214.2 250.7,213.3 251.2,213.9 251.7,212.7 252.2,212.9 252.7,213.7 253.2,214.2 253.7,213.6 254.2,213.9 254.7,213.5 255.2,214 255.7,214 256.2,213.9 256.7,213.8 257.2,213.9 257.7,213.7 258.2,214.2 258.7,214.5 259.2,213.3 259.7,214 260.2,213.9 260.7,214.2 261.2,213.7 261.7,213.9 262.2,213.6 262.7,214.2 263.1,214 263.6,213.9 264.1,214.1 264.6,213.9 265.1,213.5 265.6,214.2 266.1,214.1 266.6,213.9 267.1,214.3 267.6,214.4 268.1,213.6 268.6,213.7 269.1,214.5 269.6,214.5 270.1,213.7 270.6,213.6 271.1,213.8 271.6,213.8 272.1,213.4 272.6,214 273.1,213.6 273.6,213.6 274.1,214.3 274.6,213.8 275.1,214 275.6,214.2 276.1,214.3 276.6,213.9 277.1,214 277.6,213.7 278.1,214.6 278.6,214.2 279.1,213.6 279.6,214 280.1,214.2 280.6,214.2 281.1,214.6 281.6,214.5 282.1,213.8 282.6,214 283.1,213.6 283.6,214.1 284.1,214.1 284.6,214.9 285.1,214 285.6,213.3 286.1,213.8 286.6,214 287.1,213.6 287.6,213.7 288.1,213.9 288.6,214.1 289.1,213.9 289.6,213.7 290.1,214.3 290.5,213.8 291,213.8 291.5,213.5 292,213.7 292.5,214.2 293,213.4 293.5,214 294,214.3 294.5,214.1 295,214.5 295.5,214.3 296,215.4 296.5,215.4 297,214.9 297.5,213.9 298,213.9 298.5,214.5 299,214.6 299.5,214.1 300,214.4 300.5,213.8 301,213.9 301.5,214 302,214.1 302.5,213.5 303,214.3 303.5,214.5 304,213.6 304.5,213.5 305,214.1 305.5,213.8 306,213.2 306.5,214.3 307,214.1 307.5,213.8 308,214.7 308.5,214 309,213.7 309.5,214 310,213.6 310.5,213.7 311,214.1 311.5,213.8 312,213.8 312.5,214.6 313,214.3 313.5,214.3 314,214.2 314.5,214.2 315,214.5 315.5,214 316,214.6 316.5,213.7 317,213.9 317.5,213.5 318,213.9 318.4,214.2 318.9,214.5 319.4,213.8 319.9,214 320.4,213.9 320.9,213.7 321.4,213.6"/>
</g>
<path d="M33.3 189.2V195M80.5 189.2V195M148.7 189.2V195M177 189.2V195M203.4 189.2V195M251.9 189.2V195M273.7 189.2V195M275.2 189.2V195M295.6 189.2V195M318.6 189.2V195" stroke="#2f8f2f" stroke-width="1.1" fill="none"/>
<path d="M116.9 189.2V195M297.4 189.2V195M317.3 189.2V195" stroke="#66b866" stroke-width="1.1" fill="none"/>
<path d="M33.3 200.4V205.9M80.5 200.4V205.9M148.7 200.4V205.9M177 200.4V205.9M203.4 200.4V205.9M251.9 200.4V205.9M274.5 200.4V205.9M296.4 200.4V205.9M318.1 200.4V205.9" stroke="#2f8f2f" stroke-width="1.1" fill="none"/>
<path d="M116.9 200.4V205.9" stroke="#66b866" stroke-width="1.1" fill="none"/>
<path d="M47.8 229.2V226.8M72.7 229.2V225M97.6 229.2V226.8M122.5 229.2V225M147.4 229.2V226.8M172.3 229.2V225M197.2 229.2V226.8M222.2 229.2V225M247.1 229.2V226.8M272 229.2V225M296.9 229.2V226.8" stroke="#000" stroke-width="1.3" fill="none"/>
<rect x="27.5" y="1.7" width="294.3" height="227.5" fill="none" stroke="#000" stroke-width="1.6"/>
<g class="tk"><text transform="translate(72.7 245.7) scale(1.06 1)">30</text><text transform="translate(122.5 245.7) scale(1.06 1)">40</text><text transform="translate(172.3 245.7) scale(1.06 1)">50</text><text transform="translate(222.2 245.7) scale(1.06 1)">60</text><text transform="translate(272 245.7) scale(1.06 1)">70</text><text transform="translate(321.8 245.7) scale(1.06 1)">80</text></g>
<text class="ax" transform="translate(175 264.2) scale(1.065 1)" text-anchor="middle">Angle (2θ)</text>
<text class="ax" transform="translate(16.5 115.4) rotate(-90)" text-anchor="middle">Intensity (a.u.)</text>
<circle cx="212.9" cy="11.6" r="1.6" fill="#fff" stroke="#555" stroke-width="0.5"/>
<path d="M197.3 30.7H228.1" stroke="#ff0000" stroke-width="1.75"/>
<path d="M197.3 49.5H228.1" stroke="#4f88e0" stroke-width="1"/>
<path d="M212.9 66.2V71.2" stroke="#7cc47c" stroke-width="1.1"/>
<g class="lg">
<text x="231.9" y="16.9">I<tspan class="sb" dy="3.1">obs</tspan></text>
<text x="231.9" y="35.2">I<tspan class="sb" dy="3.1">calc</tspan></text>
<text x="231.9" y="54.5">I<tspan class="sb" dy="3.1">obs</tspan><tspan dy="-3.1">- I</tspan><tspan class="sb" dy="3.1">calc</tspan></text>
<text x="231.9" y="73.1">Bragg positions</text>
</g>
<text class="lb" x="183.9" y="95.6">BCZT | <tspan font-style="italic">P4mm, Amm2</tspan></text>
</g>
<g id="p2">
<clipPath id="clipp2"><rect x="370.2" y="1.7" width="295.59999999999997" height="227.5"/></clipPath>
<g clip-path="url(#clipp2)">
<polyline fill="none" stroke="none" marker-start="url(#mk)" marker-mid="url(#mk)" marker-end="url(#mk)" points="370.2,185.1 370.3,182.1 370.4,185.1 370.6,184.9 370.7,183.8 370.8,183.2 370.9,182.5 371.1,187.8 371.2,182.5 371.3,187.3 371.4,185.6 371.6,184 371.7,182.7 371.8,186.3 371.9,187.4 372.1,182.9 372.2,183.9 372.3,186.1 372.4,184.9 372.6,187.6 372.7,183.3 372.8,185.1 372.9,182.2 373.1,187.6 373.2,182.9 373.3,180.5 373.4,183.9 373.6,183.8 373.7,187.2 373.8,183.4 373.9,183.9 374.1,184.9 374.2,186.5 374.3,183.7 374.4,185.5 374.6,184.6 374.7,183.2 374.8,183.8 374.9,183.7 375.1,182.1 375.2,185.6 375.3,181.3 375.4,185.5 375.6,185.1 375.7,183.3 375.8,182.2 375.9,183 376.1,184.1 376.2,184.6 376.3,183.8 376.4,184.9 376.6,182.3 376.7,183.6 376.8,180.6 376.9,184.4 377.1,183.4 377.2,182.4 377.3,184.9 377.4,184.1 377.6,178.3 377.7,183 377.8,180.5 377.9,184.6 378.1,186.9 378.2,181.9 378.3,182.9 378.4,182.3 378.6,183.3 378.7,183.7 378.8,184.8 378.9,181 379.1,185.2 379.2,181 379.3,183 379.4,184.4 379.6,183.6 379.7,180.9 379.8,181.2 379.9,181.6 380.1,182.2 380.2,184.2 380.3,180.1 380.4,183 380.6,183.2 380.7,183.1 380.8,182.9 380.9,184.6 381.1,182.9 381.2,183.5 381.3,182.9 381.4,184.9 381.6,178.8 381.7,184 381.8,181.5 381.9,181.4 382.1,180.2 382.2,178.7 382.3,181.1 382.4,180.6 382.6,182.5 382.7,179.2 382.8,184 382.9,182.1 383.1,181.2 383.2,180.4 383.3,180.2 383.4,179.6 383.6,180.6 383.7,181.4 383.8,181.1 383.9,179 384.1,180.9 384.2,179.8 384.3,181.6 384.4,184.3 384.6,182.3 384.7,180.7 384.8,178.5 384.9,178.8 385.1,178.3 385.2,182.3 385.3,179.8 385.4,181.1 385.6,180 385.7,181.1 385.8,183.3 385.9,179.8 386.1,180.3 386.2,179.5 386.3,182.3 386.4,179.1 386.6,178.9 386.7,178.5 386.8,178.4 386.9,181.5 387.1,184.9 387.2,179 387.3,182.2 387.4,181 387.6,178.7 387.7,180.1 387.8,180.1 387.9,179.3 388.1,183.6 388.2,177.3 388.3,181 388.4,180.9 388.6,179.4 388.7,180.5 388.8,181.7 388.9,180.5 389.1,180.9 389.2,181.3 389.3,176.8 389.4,182.6 389.6,183.9 389.7,181.7 389.8,181.7 389.9,177.7 390.1,179.8 390.2,178.6 390.3,179 390.4,181.5 390.6,178.6 390.7,179.6 390.8,176.7 390.9,179.5 391.1,179.9 391.2,178.6 391.3,178.5 391.4,182.8 391.6,177.7 391.7,177.9 391.8,178.3 391.9,181.6 392.1,183 392.2,180.1 392.3,178.3 392.4,178.8 392.6,181.2 392.7,177.9 392.8,181.8 392.9,181.7 393.1,179.5 393.2,180.4 393.3,180.5 393.4,181.8 393.6,177.5 393.7,181.2 393.8,178.6 393.9,177.9 394.1,179.3 394.2,178.8 394.3,177.5 394.4,176.4 394.6,177.5 394.7,181.4 394.8,182.2 394.9,180.1 395.1,180.9 395.2,178.1 395.3,178.8 395.4,179.3 395.6,177.1 395.7,177.2 395.8,179 395.9,178.3 396.1,177 396.2,179.4 396.3,178.3 396.4,180.4 396.6,178.6 396.7,178.1 396.8,178.8 396.9,178.3 397.1,177.5 397.2,177.9 397.3,179.7 397.4,179.6 397.6,180.6 397.7,175.6 397.8,177.8 397.9,177.7 398.1,178.7 398.2,177.6 398.3,177.5 398.4,179.6 398.6,178.6 398.7,176.3 398.8,180.4 398.9,179.8 399.1,177.2 399.2,179.5 399.3,176.9 399.4,180 399.6,177.7 399.7,176.7 399.8,177.4 399.9,176.7 400.1,178.3 400.2,178.3 400.3,178 400.4,177 400.6,171.9 400.7,178 400.8,174.7 400.9,178.2 401.1,179.7 401.2,178.2 401.3,177.1 401.4,177.4 401.5,177.5 401.7,176.8 401.8,176.7 401.9,176.1 402,179.6 402.2,177.6 402.3,179.2 402.4,177.1 402.5,177.7 402.7,177.2 402.8,178.2 402.9,178.8 403,177.8 403.2,176.3 403.3,176.1 403.4,180.1 403.5,176.9 403.7,176.8 403.8,179.7 403.9,179.1 404,178.1 404.2,176.6 404.3,181.1 404.4,177.8 404.5,178.1 404.7,176.9 404.8,174.8 404.9,174.9 405,177.8 405.2,177.7 405.3,176.6 405.4,175.1 405.5,174.6 405.7,176.4 405.8,174.6 405.9,178.4 406,178.8 406.2,181.6 406.3,178.3 406.4,175.9 406.5,175.4 406.7,171.1 406.8,175.8 406.9,176.5 407,178.3 407.2,177.7 407.3,177.7 407.4,177 407.5,177.7 407.7,179 407.8,174.9 407.9,175.8 408,174.3 408.2,179.2 408.3,178.7 408.4,177.7 408.5,174.5 408.7,176.7 408.8,176 408.9,176.5 409,176.1 409.2,177.2 409.3,175.7 409.4,177.7 409.5,176.7 409.7,175.8 409.8,176.1 409.9,175.5 410,177.5 410.2,175.7 410.3,176.6 410.4,175.5 410.5,173.7 410.7,177.6 410.8,174.3 410.9,177.2 411,176.7 411.2,173.3 411.3,174.4 411.4,175.1 411.5,174.6 411.7,173.9 411.8,177.1 411.9,175.4 412,176.4 412.2,175 412.3,176.2 412.4,174.5 412.5,175.6 412.7,176.6 412.8,175.7 412.9,174.8 413,173.7 413.2,175.7 413.3,176 413.4,174.9 413.5,174 413.7,176.1 413.8,179.2 413.9,174.5 414,175.4 414.2,175.4 414.3,170.4 414.4,174.6 414.5,172.9 414.7,176 414.8,172.7 414.9,170.9 415,170.2 415.2,168.4 415.3,163.5 415.4,159.6 415.5,152 415.7,149 415.8,148.3 415.9,151.9 416,154.3 416.2,159 416.3,165.5 416.4,169 416.5,172.8 416.7,173.5 416.8,172.5 416.9,173.7 417,174 417.2,174.4 417.3,174.4 417.4,173 417.5,170.9 417.7,173.3 417.8,171.2 417.9,174.7 418,174.6 418.2,171.9 418.3,175.8 418.4,176.1 418.5,174.8 418.7,177.4 418.8,177.8 418.9,172.7 419,176.4 419.2,175.4 419.3,175.4 419.4,176.2 419.5,173.5 419.7,173.7 419.8,173.3 419.9,173.4 420,174.5 420.2,172.3 420.3,172.9 420.4,175.6 420.5,174.5 420.7,175.2 420.8,171.5 420.9,173.3 421,173.7 421.2,174.6 421.3,173.6 421.4,176.1 421.5,174.4 421.7,174.5 421.8,174.5 421.9,175.7 422,173.7 422.2,176.3 422.3,175.2 422.4,174.7 422.5,174.5 422.7,175.3 422.8,176.1 422.9,175.9 423,175 423.2,175.8 423.3,174.5 423.4,176.4 423.5,174.2 423.7,170.9 423.8,176.5 423.9,174.4 424,172.3 424.2,173.9 424.3,172.7 424.4,177.7 424.5,175 424.7,171.6 424.8,175 424.9,173.5 425,177.3 425.2,172.4 425.3,170.4 425.4,174.2 425.5,173.5 425.7,173.3 425.8,170.5 425.9,174.7 426,176.7 426.2,170.8 426.3,175.9 426.4,173 426.5,177.8 426.7,174.6 426.8,173.6 426.9,175.7 427,174.7 427.2,172.9 427.3,175 427.4,173 427.5,170.9 427.7,177.1 427.8,173.2 427.9,172.8 428,174.3 428.2,171.2 428.3,171.5 428.4,172.9 428.5,172.8 428.7,173.8 428.8,175.5 428.9,172.9 429,174.4 429.2,174.6 429.3,171.8 429.4,173.9 429.5,172 429.7,175.3 429.8,174.3 429.9,173.5 430,171.3 430.2,173.7 430.3,172.2 430.4,174.6 430.5,173.2 430.7,172.1 430.8,174.9 430.9,174.6 431,172.4 431.2,175.3 431.3,172.8 431.4,172.8 431.5,173.5 431.7,172.1 431.8,172.5 431.9,173 432,175.8 432.2,175.7 432.3,172.8 432.4,175.9 432.5,173.1 432.6,173.8 432.8,174.6 432.9,173.6 433,177.1 433.1,173.5 433.3,171.1 433.4,175.2 433.5,172.4 433.6,172.5 433.8,168.1 433.9,174.7 434,174.3 434.1,174.3 434.3,174.6 434.4,175.7 434.5,172.8 434.6,174.4 434.8,171.7 434.9,172.3 435,174.6 435.1,173.5 435.3,170.6 435.4,173.4 435.5,172.5 435.6,171.4 435.8,173.4 435.9,172 436,170.1 436.1,170.8 436.3,175.6 436.4,170.1 436.5,173 436.6,173.6 436.8,173.6 436.9,170.5 437,172 437.1,172.7 437.3,173.8 437.4,171.4 437.5,170.5 437.6,174 437.8,174.2 437.9,172.9 438,171.3 438.1,172.9 438.3,172.4 438.4,173.5 438.5,170.1 438.6,172.3 438.8,171.8 438.9,170.1 439,172.3 439.1,171.9 439.3,171.1 439.4,172.4 439.5,169.3 439.6,171.5 439.8,172.2 439.9,171.8 440,173 440.1,169.1 440.3,168.5 440.4,171.2 440.5,171.3 440.6,173.8 440.8,171.1 440.9,168.3 441,170.7 441.1,167.4 441.3,165.8 441.4,171.7 441.5,166.7 441.6,165.5 441.8,162.3 441.9,159.4 442,149 442.1,138.7 442.3,119 442.4,99.6 442.5,86.3 442.6,76.1 442.8,77.4 442.9,91.3 443,110.2 443.1,126.6 443.3,144.6 443.4,153.2 443.5,159.5 443.6,163.3 443.8,166.7 443.9,167.3 444,168.7 444.1,166.3 444.3,169.6 444.4,172.8 444.5,168.7 444.6,169.6 444.8,171.5 444.9,171.8 445,171.4 445.1,167.9 445.3,171.5 445.4,168.8 445.5,169.5 445.6,171.8 445.8,170.5 445.9,172.4 446,176.3 446.1,172.4 446.3,172.4 446.4,169.7 446.5,170.2 446.6,169.5 446.8,170.4 446.9,169.5 447,170.2 447.1,171 447.3,169.7 447.4,169 447.5,169.1 447.6,172.1 447.8,171.4 447.9,173 448,173.1 448.1,170.8 448.3,172.4 448.4,168.9 448.5,175.1 448.6,173.3 448.8,170.9 448.9,169.3 449,171.8 449.1,168.1 449.3,169.9 449.4,172.3 449.5,171.2 449.6,170.1 449.8,172.4 449.9,168.9 450,170.8 450.1,169.1 450.3,167.9 450.4,169.2 450.5,165.9 450.6,169.6 450.8,164.6 450.9,168.3 451,163.4 451.1,166.9 451.3,164.9 451.4,165.7 451.5,169 451.6,170.6 451.8,167.9 451.9,172.3 452,169.3 452.1,171 452.3,171.5 452.4,171.9 452.5,168 452.6,173.7 452.8,171.9 452.9,170.3 453,169.4 453.1,168.3 453.3,168.8 453.4,172 453.5,170.5 453.6,169.2 453.8,170.2 453.9,173.7 454,170.5 454.1,170.1 454.3,173.3 454.4,171.8 454.5,171.1 454.6,170.1 454.8,168.5 454.9,169.1 455,170.2 455.1,170.7 455.3,171.6 455.4,171.9 455.5,171.4 455.6,171.4 455.8,169.3 455.9,167.4 456,170.1 456.1,169.4 456.3,169.9 456.4,170.5 456.5,168.9 456.6,169.1 456.8,170.8 456.9,171.1 457,169.8 457.1,171.7 457.3,170.5 457.4,169.2 457.5,171 457.6,174 457.8,169.8 457.9,172.8 458,173.1 458.1,173.3 458.3,169.5 458.4,174.2 458.5,171 458.6,170.4 458.8,170.4 458.9,171.8 459,170.9 459.1,170.5 459.3,172.9 459.4,169.6 459.5,169 459.6,172.1 459.8,171.9 459.9,172.5 460,169 460.1,172.5 460.3,171.5 460.4,173.6 460.5,168.6 460.6,171 460.8,170.2 460.9,168 461,169.5 461.1,172.5 461.3,169.9 461.4,169.4 461.5,172.1 461.6,172.2 461.8,172.2 461.9,169.3 462,170.5 462.1,172.3 462.3,169.5 462.4,169.3 462.5,171.9 462.6,173.1 462.8,168.6 462.9,166.2 463,168.1 463.1,168.8 463.3,170.3 463.4,171.5 463.5,170.2 463.6,169.3 463.8,170.7 463.9,168.9 464,170.4 464.1,169.4 464.2,174.9 464.4,171.8 464.5,169 464.6,168.8 464.7,169.7 464.9,167.7 465,169.2 465.1,169.2 465.2,171.8 465.4,169.7 465.5,169 465.6,168.1 465.7,168.4 465.9,170.2 466,170 466.1,172.2 466.2,169.3 466.4,172 466.5,170.7 466.6,170.3 466.7,167 466.9,168.1 467,171.5 467.1,172.5 467.2,170.6 467.4,171.5 467.5,169.5 467.6,169.6 467.7,169.1 467.9,171.8 468,170.7 468.1,169.8 468.2,169.6 468.4,171.1 468.5,170.7 468.6,168.8 468.7,173 468.9,170.6 469,170.1 469.1,172.5 469.2,171.8 469.4,169.9 469.5,171 469.6,168.3 469.7,169 469.9,166.3 470,172.1 470.1,166.9 470.2,171.2 470.4,168.7 470.5,168.4 470.6,169.7 470.7,170.4 470.9,171 471,172.9 471.1,170.6 471.2,171.4 471.4,169 471.5,171.1 471.6,170.2 471.7,169.2 471.9,169.8 472,169.8 472.1,170.2 472.2,170.6 472.4,169.1 472.5,168.7 472.6,171.1 472.7,167.1 472.9,168.8 473,172.4 473.1,165.4 473.2,168.7 473.4,171 473.5,167.1 473.6,174.1 473.7,165.5 473.9,172.2 474,172.4 474.1,171.3 474.2,169.4 474.4,170.3 474.5,168.3 474.6,171.1 474.7,167.9 474.9,169.3 475,171.4 475.1,167.9 475.2,169.1 475.4,169.9 475.5,167.5 475.6,171.6 475.7,170.2 475.9,167.1 476,169.5 476.1,168.3 476.2,168.5 476.4,169.7 476.5,168.4 476.6,171.2 476.7,168.4 476.9,171.2 477,169.4 477.1,170.9 477.2,168.6 477.4,168.6 477.5,167.5 477.6,170.4 477.7,170.9 477.9,172.9 478,171.5 478.1,169.7 478.2,168.9 478.4,169.9 478.5,169.2 478.6,171.6 478.7,170.7 478.9,167.7 479,167.9 479.1,171.2 479.2,169.3 479.4,168.3 479.5,170.5 479.6,167.7 479.7,167.6 479.9,166.9 480,163.8 480.1,167.6 480.2,162.7 480.4,161.8 480.5,159 480.6,158.5 480.7,154.1 480.9,151.7 481,147.7 481.1,151.1 481.2,151.2 481.4,157.2 481.5,160.3 481.6,162.3 481.7,167.7 481.9,166.7 482,167.8 482.1,167.7 482.2,167.6 482.4,169.8 482.5,170.2 482.6,166.4 482.7,170.4 482.9,169.6 483,170.4 483.1,169.6 483.2,166.8 483.4,167 483.5,172 483.6,169.4 483.7,166.7 483.9,169.6 484,168.4 484.1,166 484.2,165.3 484.4,166.4 484.5,169.5 484.6,169 484.7,168.7 484.9,169.6 485,170.1 485.1,165.6 485.2,168.6 485.4,167.7 485.5,167.1 485.6,168.2 485.7,168.9 485.9,168.7 486,166.7 486.1,168.3 486.2,172.4 486.4,167.3 486.5,166.3 486.6,169.5 486.7,170.1 486.9,169.8 487,167.2 487.1,170.7 487.2,167.8 487.4,167.2 487.5,168.1 487.6,168.9 487.7,170.2 487.9,170.1 488,169 488.1,170.6 488.2,169.2 488.4,170.5 488.5,166.7 488.6,166.4 488.7,170.3 488.9,166.7 489,168.5 489.1,168.8 489.2,168.2 489.4,168.2 489.5,171.3 489.6,164.8 489.7,170.4 489.9,172.8 490,169 490.1,168.9 490.2,170.2 490.4,172 490.5,167 490.6,169.1 490.7,168.6 490.9,169.9 491,169.2 491.1,170 491.2,168.2 491.4,169 491.5,167.8 491.6,167.8 491.7,168.7 491.9,168.7 492,167 492.1,171.5 492.2,168.7 492.4,166.6 492.5,170.7 492.6,167.6 492.7,169.7 492.9,168.8 493,169.3 493.1,169.1 493.2,167.9 493.4,168.9 493.5,172.2 493.6,165.1 493.7,168.9 493.9,169.5 494,167.1 494.1,166.5 494.2,172.4 494.4,168.2 494.5,172.2 494.6,169.7 494.7,168.9 494.9,169.6 495,169.8 495.1,170.7 495.2,169.5 495.3,169 495.5,169 495.6,171 495.7,170.1 495.8,167.1 496,167.7 496.1,169.3 496.2,167.7 496.3,168.1 496.5,167.1 496.6,168.3 496.7,169.4 496.8,170.3 497,168.7 497.1,172.1 497.2,168.5 497.3,173.9 497.5,170.3 497.6,169.5 497.7,167.8 497.8,164 498,168.4 498.1,168.9 498.2,171.8 498.3,166.4 498.5,171.8 498.6,168.2 498.7,169.8 498.8,164.4 499,168.8 499.1,168 499.2,169.7 499.3,168.7 499.5,166.7 499.6,170.1 499.7,169.7 499.8,169.6 500,170.2 500.1,170.4 500.2,168.5 500.3,166.3 500.5,166.3 500.6,170.8 500.7,169.7 500.8,168.7 501,167.8 501.1,168.6 501.2,168.6 501.3,168 501.5,167.4 501.6,172.1 501.7,168.9 501.8,167.5 502,166.3 502.1,167.3 502.2,169.7 502.3,169.7 502.5,168.1 502.6,168.5 502.7,168 502.8,166.6 503,170.6 503.1,169.1 503.2,172.5 503.3,167.2 503.5,168.2 503.6,169.9 503.7,168 503.8,166.1 504,166.8 504.1,168.6 504.2,169 504.3,168.2 504.5,170 504.6,170 504.7,168.9 504.8,168.4 505,168 505.1,169.3 505.2,169.9 505.3,168.5 505.5,169.1 505.6,167.8 505.7,166 505.8,166.7 506,169.6 506.1,169.1 506.2,171 506.3,168.4 506.5,169.7 506.6,170.5 506.7,170 506.8,167.3 507,168 507.1,168.5 507.2,166.7 507.3,169.1 507.5,170 507.6,167.5 507.7,171.5 507.8,167.8 508,167.9 508.1,167.9 508.2,167.1 508.3,168.9 508.5,168.3 508.6,171 508.7,169.2 508.8,169.1 509,167.9 509.1,165.9 509.2,168.1 509.3,166.8 509.5,169.8 509.6,168.2 509.7,171 509.8,169.4 510,169.6 510.1,168.6 510.2,168.5 510.3,169.3 510.5,169.7 510.6,167 510.7,169 510.8,172.5 511,168 511.1,167.7 511.2,167 511.3,165.8 511.5,170.1 511.6,168.2 511.7,168.6 511.8,171.2 512,172.3 512.1,166.7 512.2,169.9 512.3,169.1 512.5,168.8 512.6,168.9 512.7,168.1 512.8,170.7 513,169.1 513.1,168.7 513.2,170.2 513.3,169.6 513.5,168.8 513.6,168.6 513.7,171 513.8,168.9 514,167.9 514.1,166.7 514.2,167.5 514.3,166.3 514.5,168.2 514.6,168.5 514.7,164.7 514.8,168.1 515,169.1 515.1,168.3 515.2,166.5 515.3,170.1 515.5,166.9 515.6,166 515.7,166.2 515.8,168 516,169.6 516.1,169.9 516.2,168.3 516.3,166 516.5,166.9 516.6,166.5 516.7,167.7 516.8,165 517,168.2 517.1,169 517.2,167.7 517.3,168.7 517.5,166.4 517.6,165.6 517.7,166.9 517.8,169.9 518,169.6 518.1,167.2 518.2,169.9 518.3,167.4 518.5,170.4 518.6,168.7 518.7,167.2 518.8,169.2 519,166.6 519.1,166.4 519.2,165.5 519.3,168.3 519.5,167.8 519.6,167.8 519.7,167.2 519.8,170.3 520,167.2 520.1,166.7 520.2,169.9 520.3,170.2 520.5,168.4 520.6,165 520.7,166.9 520.8,168.9 521,167.9 521.1,170.4 521.2,165.6 521.3,169 521.5,166.8 521.6,170 521.7,167.7 521.8,169.5 522,166.7 522.1,165.5 522.2,166 522.3,166.8 522.5,166.1 522.6,169.8 522.7,170 522.8,168.2 523,166.1 523.1,167.6 523.2,166.6 523.3,170.2 523.5,168.3 523.6,168.6 523.7,167.1 523.8,164.4 524,166.5 524.1,165.9 524.2,168.4 524.3,167.9 524.5,166.4 524.6,167.1 524.7,170.3 524.8,166.1 525,166.2 525.1,167.3 525.2,166.6 525.3,167 525.5,168.6 525.6,170.6 525.7,164.8 525.8,167.7 526,167.8 526.1,167.5 526.2,167.4 526.3,167.1 526.4,169.3 526.6,166.9 526.7,167.5 526.8,167.7 526.9,167.8 527.1,167.4 527.2,169.3 527.3,167.6 527.4,167.9 527.6,167.5 527.7,166 527.8,166.2 527.9,165.9 528.1,167.9 528.2,166.4 528.3,165.8 528.4,168 528.6,168.4 528.7,164.7 528.8,170.4 528.9,167.6 529.1,167.4 529.2,169.3 529.3,167.6 529.4,166.5 529.6,171.1 529.7,165.7 529.8,167.3 529.9,168.9 530.1,165.7 530.2,167.3 530.3,168.1 530.4,171.4 530.6,165.9 530.7,167.3 530.8,168.4 530.9,167.4 531.1,165.3 531.2,167.9 531.3,167.3 531.4,167.8 531.6,168.8 531.7,168.5 531.8,167.3 531.9,166.8 532.1,164.1 532.2,165.1 532.3,165 532.4,163.1 532.6,163 532.7,160.5 532.8,163.6 532.9,164.1 533.1,159.9 533.2,161.7 533.3,161.5 533.4,164.9 533.6,164.5 533.7,164.7 533.8,164.9 533.9,166 534.1,164.6 534.2,167.7 534.3,165.6 534.4,167.8 534.6,167.2 534.7,168.9 534.8,167.1 534.9,168.9 535.1,165.7 535.2,168.2 535.3,166.9 535.4,167.6 535.6,167.4 535.7,168.8 535.8,164 535.9,167.8 536.1,164.9 536.2,169.3 536.3,164.1 536.4,165.7 536.6,164.6 536.7,170 536.8,165.2 536.9,167.5 537.1,166.5 537.2,164.4 537.3,166.8 537.4,168.4 537.6,167 537.7,168.9 537.8,166.8 537.9,167.4 538.1,166.7 538.2,167.9 538.3,170.5 538.4,167.9 538.6,167.7 538.7,166.3 538.8,166.1 538.9,169.8 539.1,165.5 539.2,165.8 539.3,167.2 539.4,166.6 539.6,170.6 539.7,163.4 539.8,167.9 539.9,168.5 540.1,165.5 540.2,166.2 540.3,168 540.4,170 540.6,165.8 540.7,164.7 540.8,168.9 540.9,169.8 541.1,166.7 541.2,163.6 541.3,169.7 541.4,166.9 541.6,169.1 541.7,167.2 541.8,166.6 541.9,166.5 542.1,169.7 542.2,169.6 542.3,163.7 542.4,165.7 542.6,170.2 542.7,166.6 542.8,165 542.9,167.2 543.1,167 543.2,167.1 543.3,166.4 543.4,166.7 543.6,166.4 543.7,167.7 543.8,165.8 543.9,166.7 544.1,166.9 544.2,169.3 544.3,167.8 544.4,167 544.6,168 544.7,167.8 544.8,168.9 544.9,168 545.1,170.1 545.2,169.3 545.3,167 545.4,166.4 545.6,168.5 545.7,167.9 545.8,166.9 545.9,164.6 546.1,164 546.2,167.6 546.3,168.3 546.4,168.3 546.6,164.8 546.7,168.6 546.8,166 546.9,167.5 547.1,167.5 547.2,165.5 547.3,165.8 547.4,163.3 547.6,165.2 547.7,163.7 547.8,167.3 547.9,166.6 548.1,168 548.2,167 548.3,165.3 548.4,166.8 548.6,165.4 548.7,167 548.8,166.3 548.9,163.9 549.1,165.2 549.2,164.9 549.3,163.6 549.4,164.7 549.6,164.8 549.7,159.6 549.8,157.3 549.9,151.3 550.1,151.3 550.2,147.1 550.3,140.5 550.4,141.6 550.6,140.6 550.7,138.8 550.8,141.6 550.9,144 551.1,150.6 551.2,150.5 551.3,155.7 551.4,162.1 551.6,161.1 551.7,163.3 551.8,163.4 551.9,162.4 552.1,164.9 552.2,166 552.3,163.9 552.4,166.3 552.6,168 552.7,167.8 552.8,163.6 552.9,164.7 553.1,163.7 553.2,168.2 553.3,167.5 553.4,167.7 553.6,165.1 553.7,164.7 553.8,166.8 553.9,166.8 554.1,165.3 554.2,167 554.3,167.8 554.4,167.1 554.6,165.1 554.7,163.3 554.8,166.4 554.9,167.1 555.1,166.4 555.2,166.1 555.3,165.7 555.4,168 555.6,166.8 555.7,167.1 555.8,165.3 555.9,165.9 556.1,167.2 556.2,165.2 556.3,164.8 556.4,166.4 556.6,168.9 556.7,167.2 556.8,169.3 556.9,166.7 557.1,166.4 557.2,164.6 557.3,166 557.4,169.3 557.5,167.5 557.7,168.1 557.8,168.1 557.9,166.9 558,166.6 558.2,167.1 558.3,168.1 558.4,167.7 558.5,167.8 558.7,167.2 558.8,165.7 558.9,166.5 559,165.4 559.2,168.6 559.3,163.5 559.4,166.6 559.5,170.9 559.7,166.4 559.8,165.1 559.9,166.9 560,169.1 560.2,166.7 560.3,167.9 560.4,167.1 560.5,166.3 560.7,172.1 560.8,167.1 560.9,166 561,166.1 561.2,167.6 561.3,167.6 561.4,168.2 561.5,167.2 561.7,164.6 561.8,167.8 561.9,166.4 562,166.4 562.2,164.5 562.3,166 562.4,165.7 562.5,166.9 562.7,164.5 562.8,167 562.9,167.1 563,165.1 563.2,165.9 563.3,165.5 563.4,168.4 563.5,162.7 563.7,166.3 563.8,164.2 563.9,166.2 564,168.3 564.2,165.8 564.3,167.1 564.4,165.5 564.5,170.1 564.7,168.4 564.8,168.7 564.9,164.7 565,165.1 565.2,168.7 565.3,166.6 565.4,166.4 565.5,167.4 565.7,164.8 565.8,168.1 565.9,166.9 566,167.6 566.2,165.7 566.3,167.7 566.4,165.7 566.5,168.4 566.7,168.7 566.8,168.3 566.9,167.7 567,167.9 567.2,162.4 567.3,168.2 567.4,166.4 567.5,167 567.7,166.4 567.8,164.5 567.9,165.9 568,167.9 568.2,169.1 568.3,165.8 568.4,165.3 568.5,169.2 568.7,165.3 568.8,170.2 568.9,166.9 569,165.3 569.2,168.4 569.3,169.6 569.4,164.4 569.5,169.3 569.7,166.3 569.8,169.2 569.9,166.1 570,164.1 570.2,167.6 570.3,168.3 570.4,170.2 570.5,169.6 570.7,167.9 570.8,166.3 570.9,165.9 571,166.2 571.2,165.3 571.3,166.2 571.4,162.5 571.5,167 571.7,166.6 571.8,170.9 571.9,167.9 572,165.9 572.2,167.6 572.3,164.6 572.4,165.6 572.5,163.5 572.7,169 572.8,167.6 572.9,164.6 573,166.5 573.2,168.1 573.3,167.4 573.4,167.2 573.5,165.1 573.7,165.5 573.8,166.6 573.9,168 574,165.1 574.2,164.6 574.3,168.3 574.4,164.8 574.5,168.1 574.7,166.7 574.8,167.7 574.9,169.1 575,167.4 575.2,167.5 575.3,164.6 575.4,164.9 575.5,167.1 575.7,168.5 575.8,168.2 575.9,169.6 576,166.2 576.2,165.9 576.3,167.2 576.4,165.4 576.5,165.1 576.7,163.3 576.8,166.4 576.9,162.7 577,164.9 577.2,161.2 577.3,164.6 577.4,160.1 577.5,161.8 577.7,155.8 577.8,155.1 577.9,154.6 578,147.3 578.2,144.2 578.3,138.4 578.4,130.7 578.5,131.1 578.7,129 578.8,126.5 578.9,131.5 579,133.2 579.2,137.6 579.3,144.2 579.4,147.6 579.5,156.4 579.7,153.3 579.8,159.7 579.9,162 580,158.5 580.2,159.9 580.3,164.5 580.4,163.3 580.5,165.1 580.7,166.6 580.8,164.4 580.9,163.4 581,160.8 581.2,165.8 581.3,164 581.4,166.2 581.5,166.1 581.7,163.5 581.8,168.7 581.9,167.7 582,167.4 582.2,164.1 582.3,165.4 582.4,165.2 582.5,165.5 582.7,164.3 582.8,166.9 582.9,166.6 583,166.9 583.2,165.5 583.3,168.5 583.4,166.6 583.5,161.8 583.7,165.3 583.8,166.3 583.9,168 584,165.9 584.2,166 584.3,165.3 584.4,167.5 584.5,165.7 584.7,165.5 584.8,165.2 584.9,167.4 585,165.6 585.2,163.7 585.3,167.5 585.4,165.3 585.5,167.1 585.7,167.1 585.8,168.5 585.9,168.2 586,165.6 586.2,166.3 586.3,164.4 586.4,169.3 586.5,167.3 586.7,168.8 586.8,166 586.9,163.2 587,169.1 587.2,166.7 587.3,166.8 587.4,166.6 587.5,167.6 587.7,167.4 587.8,163.9 587.9,168.4 588,165.7 588.2,165.8 588.3,169.4 588.4,168.1 588.5,166 588.7,163.5 588.8,166.8 588.9,167.5 589,166.4 589.1,164.5 589.3,165.3 589.4,164.5 589.5,166.9 589.6,167.9 589.8,168.3 589.9,165.4 590,167 590.1,167.5 590.3,165.7 590.4,166.3 590.5,170.1 590.6,166.9 590.8,168 590.9,165.9 591,166.6 591.1,163.7 591.3,166.5 591.4,168.5 591.5,170 591.6,168.5 591.8,167.7 591.9,166.7 592,165.6 592.1,166.3 592.3,167.6 592.4,165.3 592.5,168.1 592.6,164.9 592.8,163.6 592.9,164.9 593,163.8 593.1,164.3 593.3,168.4 593.4,166.2 593.5,166.9 593.6,168.5 593.8,168.6 593.9,165.7 594,168.8 594.1,167.2 594.3,166.6 594.4,167.3 594.5,164.2 594.6,165.3 594.8,166.4 594.9,167.6 595,165.9 595.1,166.3 595.3,168.2 595.4,168.9 595.5,167.8 595.6,168.6 595.8,165.9 595.9,166 596,167.1 596.1,166.1 596.3,165.7 596.4,169.3 596.5,166.2 596.6,165 596.8,167.4 596.9,169.6 597,166.7 597.1,168.6 597.3,165.8 597.4,165.7 597.5,165.4 597.6,166.3 597.8,169.6 597.9,164.6 598,169.2 598.1,164.9 598.3,166.2 598.4,167.9 598.5,167.6 598.6,167 598.8,163.8 598.9,167.1 599,164.8 599.1,170.8 599.3,166.2 599.4,166.8 599.5,164.6 599.6,165.7 599.8,164.4 599.9,168.1 600,166.1 600.1,167.5 600.3,165.4 600.4,165.7 600.5,168.6 600.6,164.9 600.8,163.5 600.9,167.2 601,164.6 601.1,165.8 601.3,168 601.4,165.2 601.5,168 601.6,165.4 601.8,169 601.9,168.7 602,165.7 602.1,166.2 602.3,165.1 602.4,166.8 602.5,168.4 602.6,164.1 602.8,168 602.9,164.3 603,165.1 603.1,163.6 603.3,170 603.4,166.6 603.5,166.9 603.6,165.4 603.8,168.3 603.9,163 604,166.5 604.1,170.1 604.3,165.9 604.4,166.5 604.5,167.6 604.6,165.2 604.8,166.5 604.9,168.1 605,166.8 605.1,167.1 605.3,165.9 605.4,167 605.5,166.6 605.6,168.9 605.8,167.7 605.9,166.1 606,162.4 606.1,167.7 606.3,167.7 606.4,165 606.5,163.2 606.6,164.6 606.8,168 606.9,164.7 607,165.7 607.1,166.8 607.3,168.5 607.4,166.4 607.5,166.3 607.6,165.6 607.8,169.2 607.9,168.2 608,166.3 608.1,164.2 608.3,165.2 608.4,167.4 608.5,165.3 608.6,167.9 608.8,167.1 608.9,166.9 609,167.5 609.1,167.3 609.3,165 609.4,165.9 609.5,170.3 609.6,164.5 609.8,165.7 609.9,168.2 610,166.2 610.1,165.1 610.3,164.3 610.4,167.3 610.5,168.1 610.6,168.7 610.8,166.5 610.9,168.2 611,164.7 611.1,166.7 611.3,165.3 611.4,166.7 611.5,167.7 611.6,168.2 611.8,164.8 611.9,168.5 612,165.6 612.1,164.7 612.3,166.1 612.4,164 612.5,166.4 612.6,166.9 612.8,166.1 612.9,167.3 613,165.9 613.1,166.4 613.3,164 613.4,166.5 613.5,165 613.6,165.7 613.8,166.2 613.9,166.7 614,163.7 614.1,163.8 614.3,165.9 614.4,167.2 614.5,167 614.6,167.9 614.8,168.5 614.9,167.2 615,166.3 615.1,164.7 615.3,164.8 615.4,165.6 615.5,166.8 615.6,166.7 615.8,166.4 615.9,166.1 616,167.4 616.1,166.7 616.3,166.8 616.4,166.8 616.5,165.4 616.6,164.6 616.8,167.1 616.9,167 617,165.9 617.1,165.6 617.3,170 617.4,165 617.5,165.9 617.6,166.7 617.8,164.3 617.9,166.4 618,169.2 618.1,167.7 618.3,167.2 618.4,167.1 618.5,166.3 618.6,167.7 618.8,165.8 618.9,165.3 619,166 619.1,167.3 619.3,166.2 619.4,166.6 619.5,162 619.6,167.1 619.8,168.8 619.9,166.9 620,163.9 620.1,162.8 620.2,164.4 620.4,162 620.5,164.6 620.6,162.3 620.7,164.6 620.9,165.2 621,159.7 621.1,163.6 621.2,162.2 621.4,161.3 621.5,162.8 621.6,163.8 621.7,166.1 621.9,162.1 622,166.6 622.1,168.5 622.2,166.3 622.4,166.4 622.5,165.6 622.6,163.8 622.7,166.7 622.9,166.5 623,167.2 623.1,170.3 623.2,167.3 623.4,166.8 623.5,168.7 623.6,163.9 623.7,164.3 623.9,165.6 624,165.1 624.1,167.4 624.2,165.7 624.4,169.1 624.5,168.7 624.6,167.5 624.7,165.6 624.9,167.3 625,167.6 625.1,164.5 625.2,166.8 625.4,167.4 625.5,166.6 625.6,168.9 625.7,168.3 625.9,164.9 626,166.5 626.1,164.9 626.2,167.2 626.4,164.8 626.5,167.8 626.6,166.9 626.7,167.9 626.9,166 627,163.9 627.1,169.2 627.2,166 627.4,168.6 627.5,167 627.6,167.4 627.7,169.3 627.9,166.8 628,168.6 628.1,163.8 628.2,167.7 628.4,165.9 628.5,166.1 628.6,166.3 628.7,166.8 628.9,169 629,163.2 629.1,166.3 629.2,165.1 629.4,168.2 629.5,165.6 629.6,167 629.7,165.6 629.9,167.4 630,167.9 630.1,165.6 630.2,166.3 630.4,163.9 630.5,166.8 630.6,167.7 630.7,165.3 630.9,168.1 631,162.8 631.1,163.2 631.2,163.9 631.4,165.4 631.5,166.2 631.6,166.1 631.7,166.1 631.9,167.4 632,165.4 632.1,164.1 632.2,164.1 632.4,169.7 632.5,162.3 632.6,165.9 632.7,168.5 632.9,166.9 633,164.7 633.1,166.1 633.2,167.5 633.4,168.1 633.5,164.6 633.6,167.3 633.7,166.4 633.9,167.8 634,168.2 634.1,165.3 634.2,163.4 634.4,166.4 634.5,168.5 634.6,166.6 634.7,165.7 634.9,169 635,163.1 635.1,165.9 635.2,163 635.4,163.5 635.5,163 635.6,164.7 635.7,159.9 635.9,159.9 636,157.5 636.1,160.5 636.2,158.8 636.4,160.3 636.5,158.1 636.6,159.8 636.7,162.8 636.9,161.4 637,163.4 637.1,163.9 637.2,163 637.4,161.5 637.5,166.1 637.6,165.1 637.7,166.7 637.9,162 638,162.7 638.1,162 638.2,164.2 638.4,167.4 638.5,166.7 638.6,165.7 638.7,166 638.9,167.1 639,165.3 639.1,166.5 639.2,166 639.4,162.2 639.5,165.1 639.6,167.9 639.7,165 639.9,165.3 640,164.5 640.1,164.6 640.2,167.1 640.4,164.6 640.5,163.2 640.6,159.5 640.7,163.5 640.9,161 641,161 641.1,165.1 641.2,164.8 641.4,160.4 641.5,164.9 641.6,164.3 641.7,162.3 641.9,165 642,161.3 642.1,162.2 642.2,162 642.4,162.8 642.5,166.3 642.6,162.8 642.7,163.3 642.9,163.8 643,165.8 643.1,165 643.2,167.1 643.4,164.6 643.5,163.7 643.6,165.1 643.7,166 643.9,164.5 644,166.5 644.1,169 644.2,165.1 644.4,166.1 644.5,168.3 644.6,165 644.7,164.7 644.9,164.3 645,166.8 645.1,167 645.2,165.9 645.4,166.2 645.5,168.2 645.6,167.6 645.7,163.8 645.9,166.1 646,166.3 646.1,167.3 646.2,165.8 646.4,165.1 646.5,165.4 646.6,163.2 646.7,166.1 646.9,165.2 647,166.9 647.1,164.5 647.2,165.4 647.4,164.5 647.5,164.4 647.6,167.3 647.7,165.4 647.9,166.9 648,164.3 648.1,166.3 648.2,163.4 648.4,165.4 648.5,165.3 648.6,167.1 648.7,166.4 648.9,165.9 649,167.5 649.1,166.5 649.2,167 649.4,167.4 649.5,166 649.6,165.7 649.7,166.7 649.9,165.5 650,166.8 650.1,168 650.2,167.5 650.4,165.5 650.5,164 650.6,166 650.7,165.9 650.9,168 651,165.5 651.1,165.8 651.2,167.3 651.3,165.3 651.5,165.9 651.6,169 651.7,168.6 651.8,167.2 652,166.6 652.1,164.5 652.2,167.1 652.3,166.2 652.5,166.5 652.6,165.3 652.7,166.1 652.8,165.8 653,166.6 653.1,168.5 653.2,166.7 653.3,163.4 653.5,164.5 653.6,163.5 653.7,164.8 653.8,167 654,166.8 654.1,165.1 654.2,166.6 654.3,164.9 654.5,163.8 654.6,163.8 654.7,164.7 654.8,168.5 655,163.9 655.1,168.2 655.2,168.3 655.3,165.8 655.5,166 655.6,165.1 655.7,166.1 655.8,167.2 656,166.1 656.1,167.7 656.2,168 656.3,166.7 656.5,166.6 656.6,166 656.7,166.7 656.8,164.2 657,166.7 657.1,166.4 657.2,164.6 657.3,169.6 657.5,164.5 657.6,164.6 657.7,166.5 657.8,162.9 658,164.7 658.1,163.5 658.2,164.4 658.3,165.8 658.5,166.5 658.6,167.8 658.7,167.3 658.8,167.9 659,166.9 659.1,165.2 659.2,167.8 659.3,165.1 659.5,164.9 659.6,168.3 659.7,167.1 659.8,166.1 660,166.9 660.1,167 660.2,163.2 660.3,165.2 660.5,163.2 660.6,165.2 660.7,163.7 660.8,166.9 661,165.3 661.1,162.8 661.2,163.9 661.3,161.8 661.5,163.7 661.6,164.4 661.7,163.8 661.8,160.2 662,163 662.1,164.5 662.2,164.3 662.3,166 662.5,162.1 662.6,165.3 662.7,163.6 662.8,165.2 663,165.7 663.1,166.4 663.2,164.4 663.3,165.8 663.5,163.7 663.6,163.3 663.7,166.6 663.8,165.7 664,163.2 664.1,164.5 664.2,165.9 664.3,168.5 664.5,167.7 664.6,167.3 664.7,163 664.8,165.8 665,166.8 665.1,166.6 665.2,166.7 665.3,165.6 665.5,168.9 665.6,168.4 665.7,165.9"/>
<polygon fill="#ff0000" points="370.2,184 380.7,181.2 392.2,178.6 405.7,176 412.2,174.8 413.6,174.3 414.2,173.8 414.4,173.4 414.7,172.8 414.8,172.2 415,170.8 415.1,168.1 415.2,167.1 415.3,163.5 415.5,156.7 415.6,149.5 415.7,148.3 415.8,146 416,149.5 416.2,157.7 416.3,163.3 416.5,167.9 416.6,170.6 416.8,171.9 417,172.6 417.2,173 417.5,173.4 418.2,173.7 419.7,173.7 432.2,172.3 437.1,171.5 438.6,171.1 439.6,170.6 440.3,169.9 440.6,169.4 441,168.5 441.1,167.8 441.3,166.9 441.5,165.5 441.6,163.4 441.7,163.1 441.8,158.3 442,149 442.1,135.6 442.2,132.7 442.3,109.2 442.5,84.1 442.6,72.6 442.7,72 442.8,84.1 443,109.1 443.1,127 443.2,132.6 443.4,148.8 443.5,158.1 443.6,161.7 443.7,162.9 443.9,165.3 444,166.6 444.2,167.5 444.4,168.1 444.7,169 445.2,169.6 445.9,170.1 447.3,170.3 448.9,170.3 449.6,170 449.9,169.6 450.1,168.9 450.3,167.9 450.7,164.8 450.9,164 451.1,164.9 451.5,167.9 451.6,168.5 451.7,168.9 451.9,169.5 452.1,169.8 452.7,170 455.1,170.1 476.6,168.6 478.6,168.2 479.2,167.9 479.6,167.4 479.8,167 480,166 480.1,165.1 480.2,164.2 480.4,161.1 480.6,156.3 480.8,151.8 481,149.5 481.1,150.3 481.2,151.8 481.4,156.6 481.6,161.3 481.8,164.2 482,165.9 482.1,166.5 482.2,166.8 482.4,167.3 482.8,167.7 483.8,168 486.6,168.1 529.6,166.5 531.1,166.3 531.6,166 531.8,165.7 532.1,164.9 532.3,163.8 532.8,160.4 533,159.5 533.1,159.6 533.2,160.4 533.6,162.8 533.7,163.8 534,164.9 534.2,165.6 534.6,166 535.6,166.3 540.1,166.3 546.1,166 547.7,165.7 548.4,165.2 548.7,165 548.9,164.6 549.2,163.9 549.4,162.6 549.6,161 549.6,160 549.9,155.4 550.1,150.5 550.4,141.9 550.6,138.6 550.6,138.5 550.8,141.9 551.1,148.9 551.3,155.4 551.6,160 551.8,162.5 552.1,164 552.3,164.5 552.6,165 553.2,165.5 554.7,165.8 559.1,166 571.5,165.7 574.6,165.4 575.6,165 576.4,164.4 576.6,164.1 576.9,163.5 577,163.1 577.2,162.6 577.4,160.7 577.5,159.4 577.7,157.1 577.9,150.7 578,147.6 578.2,141.5 578.5,131.7 578.5,129.5 578.7,127 579,131.7 579,133.6 579.2,141.5 579.5,150.7 579.5,151.7 579.8,157 580,160.7 580.3,162.5 580.5,163.5 580.8,164 581.3,164.6 582.1,165.1 583.7,165.4 588,165.6 616.1,165.4 618.5,165.1 619,164.9 619.5,164.4 620.1,163.3 620.5,162.4 620.9,162 621,162.1 621.3,162.4 622.1,164.1 622.5,164.6 623,165 624.1,165.2 630.2,165.3 633.5,165.1 634.4,164.7 634.7,164.3 635,163.8 635.1,163.4 635.3,162.7 635.6,161.1 636,159.2 636.3,158.5 636.3,158.5 636.5,158.9 636.7,160 637.1,162.1 637.2,162.6 637.6,163.7 637.9,164.4 638.3,164.7 639.2,164.8 639.8,164.6 640.3,164.1 641.1,162.8 641.5,162.5 641.7,162.6 642,163 642.7,164.2 643.1,164.6 643.5,164.9 644.7,165.1 654,165.2 659,165.1 659.8,164.9 660.2,164.6 660.6,164.2 661.5,162.7 661.8,162.5 662,162.6 662.5,163.4 663,164.2 663.5,164.7 664.2,165 665.7,165.1 665.7,167.1 664.2,166.9 663.5,166.7 663,166.1 662.5,165.3 662,164.6 661.8,164.5 661.5,164.7 660.6,166.1 660.2,166.6 659.8,166.8 659,167 654,167.2 644.7,167.1 643.5,166.9 643.1,166.6 642.7,166.1 642,165 641.7,164.6 641.5,164.5 641.1,164.8 640.3,166.1 639.8,166.6 639.2,166.8 638.3,166.7 637.9,166.4 637.6,165.7 637.2,164.6 637.1,164.1 636.7,161.9 636.5,160.9 636.3,160.5 636.3,160.5 636,161.1 635.6,163 635.3,164.6 635.1,165.3 635,165.7 634.7,166.3 634.4,166.7 633.5,167 630.2,167.2 624.1,167.2 623,167 622.5,166.6 622.1,166 621.3,164.4 621,164 620.9,164 620.5,164.4 620.1,165.2 619.5,166.3 619,166.9 618.5,167.1 616.1,167.3 588,167.5 583.7,167.3 582.1,167 581.3,166.6 580.8,166 580.5,165.4 580.3,164.5 580,162.6 579.8,159 579.5,153.7 579.5,152.6 579.2,143.5 579,135.6 579,133.7 578.7,129 578.5,131.5 578.5,133.7 578.2,143.5 578,149.6 577.9,152.7 577.7,159 577.5,161.3 577.4,162.7 577.2,164.5 577,165.1 576.9,165.5 576.6,166 576.4,166.4 575.6,167 574.6,167.3 571.5,167.7 559.1,167.9 554.7,167.8 553.2,167.4 552.6,166.9 552.3,166.5 552.1,165.9 551.8,164.5 551.6,162 551.3,157.4 551.1,150.8 550.8,143.8 550.6,140.5 550.6,140.6 550.4,143.8 550.1,152.5 549.9,157.4 549.6,161.9 549.6,162.9 549.4,164.5 549.2,165.9 548.9,166.5 548.7,166.9 548.4,167.2 547.7,167.6 546.1,168 540.1,168.3 535.6,168.3 534.6,168 534.2,167.5 534,166.9 533.7,165.7 533.6,164.7 533.2,162.3 533.1,161.5 533,161.5 532.8,162.3 532.3,165.8 532.1,166.8 531.8,167.6 531.6,167.9 531.1,168.2 529.6,168.5 486.6,170.1 483.8,170 482.8,169.6 482.4,169.2 482.2,168.8 482.1,168.5 482,167.9 481.8,166.1 481.6,163.3 481.4,158.5 481.2,153.8 481.1,152.3 481,151.5 480.8,153.8 480.6,158.2 480.4,163.1 480.2,166.2 480.1,167.1 480,168 479.8,168.9 479.6,169.4 479.2,169.8 478.6,170.1 476.6,170.5 455.1,172 452.7,172 452.1,171.7 451.9,171.4 451.7,170.8 451.6,170.5 451.5,169.8 451.1,166.8 450.9,166 450.7,166.8 450.3,169.9 450.1,170.9 449.9,171.5 449.6,171.9 448.9,172.2 447.3,172.3 445.9,172 445.2,171.6 444.7,170.9 444.4,170.1 444.2,169.5 444,168.6 443.9,167.2 443.7,164.8 443.6,163.6 443.5,160.1 443.4,150.8 443.2,134.5 443.1,128.9 443,111.1 442.8,86 442.7,74 442.6,74.5 442.5,86 442.3,111.1 442.2,134.6 442.1,137.5 442,150.9 441.8,160.2 441.7,165 441.6,165.3 441.5,167.5 441.3,168.9 441.1,169.8 441,170.4 440.6,171.3 440.3,171.9 439.6,172.5 438.6,173 437.1,173.5 432.2,174.2 419.7,175.7 418.2,175.6 417.5,175.3 417.2,174.9 417,174.5 416.8,173.9 416.6,172.5 416.5,169.9 416.3,165.3 416.2,159.6 416,151.4 415.8,148 415.7,150.3 415.6,151.4 415.5,158.7 415.3,165.4 415.2,169.1 415.1,170.1 415,172.8 414.8,174.2 414.7,174.7 414.4,175.3 414.2,175.7 413.6,176.2 412.2,176.7 405.7,178 392.2,180.5 380.7,183.1 370.2,186"/>
<polyline fill="none" stroke="#ff0000" stroke-width="1.6" stroke-linejoin="round" points="370.2,185 380.7,182.2 392.2,179.5 405.7,177 412.2,175.8 413.6,175.2 414.2,174.7 414.4,174.3 414.7,173.7 414.8,173.2 415,171.8 415.1,169.1 415.2,168.1 415.3,164.4 415.5,157.7 415.6,150.5 415.7,149.3 415.8,147 416,150.4 416.2,158.7 416.3,164.3 416.5,168.9 416.6,171.6 416.8,172.9 417,173.6 417.2,173.9 417.5,174.3 418.2,174.6 419.7,174.7 432.2,173.2 437.1,172.5 438.6,172.1 439.6,171.6 440.3,170.9 440.6,170.3 441,169.5 441.1,168.8 441.3,167.9 441.5,166.5 441.6,164.3 441.7,164.1 441.8,159.3 442,149.9 442.1,136.5 442.2,133.6 442.3,110.2 442.5,85.1 442.6,73.6 442.7,73 442.8,85 443,110.1 443.1,128 443.2,133.5 443.4,149.8 443.5,159.1 443.6,162.7 443.7,163.9 443.9,166.3 444,167.6 444.2,168.5 444.4,169.1 444.7,169.9 445.2,170.6 445.9,171 447.3,171.3 448.9,171.2 449.6,171 449.9,170.6 450.1,169.9 450.3,168.9 450.7,165.8 450.9,165 451.1,165.9 451.5,168.8 451.6,169.5 451.7,169.9 451.9,170.5 452.1,170.8 452.7,171 455.1,171 476.6,169.6 478.6,169.2 479.2,168.9 479.6,168.4 479.8,167.9 480,167 480.1,166.1 480.2,165.2 480.4,162.1 480.6,157.2 480.8,152.8 481,150.5 481.1,151.3 481.2,152.8 481.4,157.6 481.6,162.3 481.8,165.1 482,166.9 482.1,167.5 482.2,167.8 482.4,168.3 482.8,168.7 483.8,169 486.6,169.1 529.6,167.5 531.1,167.3 531.6,167 531.8,166.6 532.1,165.9 532.3,164.8 532.8,161.4 533,160.5 533.1,160.6 533.2,161.3 533.6,163.8 533.7,164.8 534,165.9 534.2,166.6 534.6,167 535.6,167.3 540.1,167.3 546.1,167 547.7,166.6 548.4,166.2 548.7,166 548.9,165.6 549.2,164.9 549.4,163.6 549.6,161.9 549.6,161 549.9,156.4 550.1,151.5 550.4,142.9 550.6,139.6 550.6,139.5 550.8,142.9 551.1,149.8 551.3,156.4 551.6,161 551.8,163.5 552.1,164.9 552.3,165.5 552.6,165.9 553.2,166.4 554.7,166.8 559.1,166.9 571.5,166.7 574.6,166.3 575.6,166 576.4,165.4 576.6,165 576.9,164.5 577,164.1 577.2,163.6 577.4,161.7 577.5,160.4 577.7,158 577.9,151.7 578,148.6 578.2,142.5 578.5,132.7 578.5,130.5 578.7,128 579,132.7 579,134.6 579.2,142.5 579.5,151.7 579.5,152.7 579.8,158 580,161.7 580.3,163.5 580.5,164.5 580.8,165 581.3,165.6 582.1,166 583.7,166.4 588,166.6 616.1,166.3 618.5,166.1 619,165.9 619.5,165.4 620.1,164.3 620.5,163.4 620.9,163 621,163 621.3,163.4 622.1,165.1 622.5,165.6 623,166 624.1,166.2 630.2,166.3 633.5,166 634.4,165.7 634.7,165.3 635,164.8 635.1,164.4 635.3,163.6 635.6,162 636,160.2 636.3,159.5 636.3,159.5 636.5,159.9 636.7,161 637.1,163.1 637.2,163.6 637.6,164.7 637.9,165.4 638.3,165.7 639.2,165.8 639.8,165.6 640.3,165.1 641.1,163.8 641.5,163.5 641.7,163.6 642,164 642.7,165.2 643.1,165.6 643.5,165.9 644.7,166.1 654,166.2 659,166.1 659.8,165.9 660.2,165.6 660.6,165.2 661.5,163.7 661.8,163.5 662,163.6 662.5,164.4 663,165.2 663.5,165.7 664.2,166 665.7,166.1"/>
<polyline fill="none" stroke="#2468d8" stroke-width="1" stroke-linejoin="round" points="370.2,212 370.3,217.2 370.5,212.8 370.6,215.7 370.8,216.9 370.9,212.1 371.1,214.2 371.2,213.1 371.4,214.6 371.5,214.2 371.7,217 371.8,214.7 372,213.7 372.1,215.6 372.3,213.2 372.4,213.1 372.6,217.5 372.7,212.3 372.9,212.9 373,213.8 373.2,211.9 373.3,210.1 373.5,215.5 373.6,212.4 373.8,212.8 373.9,213.1 374.1,212 374.2,211.9 374.4,214 374.5,217.8 374.7,215 374.8,215 375,211.1 375.1,213.7 375.3,211.7 375.4,215 375.6,213.3 375.7,213.8 375.9,213.5 376,212.7 376.2,211.1 376.3,214.7 376.5,211.3 376.6,211.7 376.8,213.2 376.9,212.5 377.1,214.1 377.2,215.4 377.4,214.1 377.5,214 377.7,213.7 377.8,215.2 378,210.6 378.1,214.3 378.3,212.1 378.4,211.6 378.6,213.7 378.7,213 378.9,214.7 379,215.6 379.2,209.7 379.3,213.6 379.5,217 379.6,215.2 379.8,216.2 379.9,213.9 380.1,211.3 380.2,211.8 380.4,214.9 380.5,215.3 380.7,212.5 380.8,213.2 381,214.1 381.1,210.7 381.3,213.1 381.4,216.5 381.6,217.4 381.7,213.5 381.9,216.8 382,212.8 382.2,212.3 382.3,209.9 382.5,215.3 382.6,213.1 382.8,217.7 382.9,214.3 383.1,214 383.2,210.6 383.4,216.3 383.5,213.1 383.7,213.4 383.8,210 384,215.3 384.1,215.4 384.3,212.7 384.4,213.9 384.6,214.4 384.7,215.3 384.9,213.9 385,216.6 385.2,213.3 385.3,212.7 385.5,212.9 385.6,209.4 385.8,212.3 385.9,215.4 386.1,214.2 386.2,212.3 386.4,214.3 386.5,210.3 386.7,213.2 386.8,214.6 387,214.9 387.1,212.4 387.3,215.3 387.4,216.9 387.6,213 387.7,215 387.9,211.1 388,210.4 388.2,214.7 388.3,213.8 388.5,214 388.6,212.7 388.8,213.2 388.9,215.1 389.1,216.6 389.2,213.3 389.4,210.9 389.5,215.9 389.7,214.7 389.8,214.9 390,214 390.1,217.7 390.3,213.8 390.4,214.6 390.6,210.6 390.7,212.7 390.9,212.5 391,213.7 391.2,214.3 391.3,212.4 391.5,216.7 391.6,211.9 391.8,212.9 391.9,214.1 392.1,211.6 392.2,214.7 392.4,214.8 392.5,213.2 392.7,217 392.8,213.9 393,214.2 393.1,212.1 393.3,210.9 393.4,212.6 393.6,213.2 393.7,212.9 393.9,215 394,209.7 394.2,211.8 394.3,210.6 394.5,216 394.6,212.8 394.8,212.8 394.9,211.8 395.1,215.2 395.2,213 395.4,214.1 395.5,210.3 395.7,215.7 395.8,214.4 396,214.7 396.1,215.8 396.3,213.4 396.4,213.4 396.6,214.9 396.7,214.4 396.9,213.3 397,213.8 397.2,212.9 397.3,214.9 397.5,215.3 397.6,213.7 397.8,216.9 397.9,211.1 398.1,213.3 398.2,216.6 398.4,213 398.5,211 398.7,216.1 398.8,214.6 399,211.7 399.1,215 399.3,212 399.4,211.4 399.6,213.5 399.7,212.9 399.9,211.8 400,213.1 400.2,212 400.3,213.8 400.5,213.7 400.6,215 400.8,212.9 400.9,211.4 401.1,211.5 401.2,213.3 401.4,216.3 401.5,215.2 401.7,212.6 401.8,215.3 402,211.7 402.1,215.4 402.3,213.1 402.4,215 402.6,214.8 402.7,213.2 402.9,214.3 403,211.9 403.2,213.6 403.3,215.6 403.5,220.7 403.6,214.9 403.8,213.9 403.9,212 404.1,215.5 404.2,210.9 404.4,212.4 404.5,214.3 404.7,211.7 404.8,216.3 405,215.6 405.1,212.8 405.3,212.8 405.4,211.5 405.6,211.3 405.7,214.5 405.9,214.8 406,214.3 406.2,214.2 406.3,212.8 406.5,214.3 406.6,211.2 406.8,213.7 406.9,216.2 407.1,216 407.2,212.9 407.4,213.2 407.5,216.1 407.7,216.8 407.8,211.2 408,213 408.1,214.1 408.3,215.8 408.4,212.3 408.6,214.8 408.7,213.2 408.9,217.8 409,214.5 409.2,213.5 409.3,213.2 409.5,215.5 409.6,214.9 409.8,211.9 409.9,214.1 410.1,211.4 410.2,212.4 410.4,211.5 410.5,211.5 410.7,212.6 410.8,212.1 411,214.6 411.1,215.1 411.3,213.3 411.4,211.8 411.6,215.1 411.7,210.3 411.9,210.4 412,215 412.2,214.8 412.3,215.4 412.5,213.4 412.6,211.6 412.8,212.9 412.9,214.7 413.1,212.4 413.2,212.5 413.4,211.3 413.5,211.7 413.7,215.2 413.8,214.5 414,211.7 414.1,211.9 414.3,212.8 414.4,214.7 414.6,211.7 414.7,213.4 414.9,210.1 415,211.6 415.2,214.4 415.3,215.3 415.5,211.7 415.6,212.4 415.8,215.1 415.9,213.1 416.1,212.8 416.2,214.6 416.4,214.1 416.5,215.6 416.7,215.1 416.8,212.7 417,213.5 417.1,213.6 417.3,211.4 417.4,212.1 417.6,215.4 417.7,211 417.9,215.4 418,214.2 418.2,213.5 418.3,214.6 418.5,214.5 418.6,215.8 418.8,213 418.9,213.3 419.1,213.3 419.2,216.9 419.4,215.3 419.5,212.2 419.7,213.2 419.8,212.5 420,213.8 420.1,214.1 420.3,217.6 420.4,210.6 420.6,215.5 420.7,214.5 420.9,212.5 421,213.5 421.2,212.9 421.3,213.8 421.5,215.4 421.6,211.1 421.8,216 421.9,213.1 422.1,216.3 422.2,214.4 422.4,215.8 422.5,214.7 422.7,215.6 422.8,213.8 423,212.3 423.1,214.9 423.3,215 423.4,217.3 423.6,210.3 423.7,213.4 423.9,215.5 424,211.6 424.2,213.4 424.3,217.4 424.5,216.2 424.6,212.2 424.8,216.2 424.9,215.8 425.1,215.1 425.2,214.4 425.4,214.2 425.5,212.3 425.7,212.9 425.8,215 426,214 426.1,216.9 426.3,213.2 426.4,209.7 426.6,213.2 426.7,214.2 426.9,214.4 427,213.9 427.2,212.3 427.3,216.3 427.5,212.6 427.6,215 427.8,213.3 427.9,211.7 428.1,216.2 428.2,209.5 428.4,212.3 428.5,214.5 428.7,213.1 428.8,215 429,213.6 429.1,213 429.3,217.4 429.4,213.4 429.6,213.5 429.7,211.9 429.9,212.5 430,214.9 430.2,214.7 430.3,213.8 430.5,212.6 430.6,214.9 430.8,210.9 430.9,213.2 431.1,213.3 431.2,212.3 431.4,214 431.5,212.6 431.7,212.4 431.8,216.8 432,215 432.1,215.8 432.3,213.9 432.4,215.4 432.6,215.1 432.7,215.8 432.8,217.8 433,213.4 433.1,214.2 433.3,213.7 433.4,207.8 433.6,211.4 433.7,213.8 433.9,214.9 434,212.8 434.2,215.7 434.3,216 434.5,213.1 434.6,216.2 434.8,216.8 434.9,214.6 435.1,212.1 435.2,216.3 435.4,213.5 435.5,213.2 435.7,214 435.8,212.9 436,215.6 436.1,215.1 436.3,215.9 436.4,214.8 436.6,212.4 436.7,213.5 436.9,215.3 437,213.1 437.2,218.8 437.3,213.4 437.5,212.8 437.6,215.8 437.8,215.1 437.9,213.8 438.1,213.4 438.2,214.5 438.4,215.2 438.5,215.1 438.7,213.3 438.8,214.5 439,215.2 439.1,215.1 439.3,208.6 439.4,212.3 439.6,212.5 439.7,213.4 439.9,214.1 440,215.4 440.2,214.9 440.3,213.6 440.5,213.8 440.6,216.8 440.8,212.8 440.9,214.3 441.1,216.5 441.2,214.4 441.4,210.3 441.5,214.4 441.7,213.1 441.8,213.5 442,215.2 442.1,213.8 442.3,212 442.4,213.3 442.6,212.1 442.7,211.5 442.9,212.2 443,212.8 443.2,212.4 443.3,212.6 443.5,213.7 443.6,212.1 443.8,211.6 443.9,216 444.1,213.4 444.2,213.8 444.4,213.6 444.5,213.8 444.7,213.8 444.8,213.9 445,212.4 445.1,215.4 445.3,212.6 445.4,215.6 445.6,210.5 445.7,212 445.9,215.5 446,213.5 446.2,212.7 446.3,214.4 446.5,212 446.6,213.9 446.8,210 446.9,213 447.1,212.7 447.2,214.7 447.4,215.3 447.5,212.3 447.7,216.5 447.8,212.8 448,210.3 448.1,209.8 448.3,216.4 448.4,213.7 448.6,212.7 448.7,212.5 448.9,211.9 449,216.1 449.2,213.7 449.3,216.8 449.5,213.5 449.6,209.8 449.8,215.2 449.9,213.2 450.1,213.4 450.2,216.5 450.4,213.4 450.5,215.8 450.7,213.8 450.8,212.5 451,214.7 451.1,212.8 451.3,215.9 451.4,215.4 451.6,213.9 451.7,214.8 451.9,214.8 452,213.3 452.2,215.3 452.3,213.4 452.5,214.8 452.6,212.2 452.8,214 452.9,214.5 453.1,212.5 453.2,213.1 453.4,212.9 453.5,215 453.7,212.6 453.8,214.6 454,216.4 454.1,214.4 454.3,211.1 454.4,214 454.6,215.6 454.7,213.3 454.9,215.7 455,214.9 455.2,214.5 455.3,213.4 455.5,212.9 455.6,213.4 455.8,213.9 455.9,214.7 456.1,214.5 456.2,213.3 456.4,213.9 456.5,214.5 456.7,211.1 456.8,212.5 457,212.5 457.1,213.5 457.3,213.4 457.4,213.4 457.6,212.3 457.7,215 457.9,214.3 458,211 458.2,213.8 458.3,211.9 458.5,216.7 458.6,213.1 458.8,213.2 458.9,214 459.1,213.5 459.2,213.7 459.4,216.5 459.5,214.2 459.7,215.2 459.8,215.7 460,212.2 460.1,216.7 460.3,215 460.4,215.5 460.6,212.4 460.7,215.2 460.9,214.5 461,212.9 461.2,217.7 461.3,214.8 461.5,213.4 461.6,214.2 461.8,215.4 461.9,215.8 462.1,214.8 462.2,215.9 462.4,216.3 462.5,211.7 462.7,213 462.8,212.2 463,214 463.1,216.3 463.3,214.9 463.4,212.1 463.6,213.3 463.7,215.6 463.9,212.9 464,213.7 464.2,214.4 464.3,210.7 464.5,215.2 464.6,214.4 464.8,214.8 464.9,212.2 465.1,212.5 465.2,212.8 465.4,214.3 465.5,214 465.7,214.1 465.8,216.9 466,216.1 466.1,212.6 466.3,212.7 466.4,216.8 466.6,213.3 466.7,216.2 466.9,216.6 467,212.9 467.2,213.4 467.3,214 467.5,212.4 467.6,212.2 467.8,213.2 467.9,215.3 468.1,213.1 468.2,213.5 468.4,213 468.5,211.5 468.7,216.4 468.8,209.9 469,212.7 469.1,214.8 469.3,211.5 469.4,214.9 469.6,216 469.7,212.4 469.9,214.2 470,211.9 470.2,214.7 470.3,214 470.5,214.2 470.6,216.2 470.8,214.6 470.9,216.1 471.1,214.9 471.2,211.8 471.4,214.3 471.5,214.7 471.7,211.4 471.8,216.1 472,213.9 472.1,214.5 472.3,212.3 472.4,214 472.6,214.3 472.7,213.3 472.9,214 473,210.2 473.2,216.1 473.3,211.9 473.5,210.1 473.6,212.2 473.8,212.4 473.9,214.8 474.1,212.3 474.2,214.3 474.4,212.2 474.5,217.6 474.7,214.8 474.8,217.2 475,212.1 475.1,215 475.3,212.2 475.4,214.8 475.6,215 475.7,211.1 475.9,211.9 476,211.8 476.2,211.3 476.3,212.6 476.5,212.2 476.6,211.4 476.8,214 476.9,214.8 477.1,211.6 477.2,212.9 477.4,213.8 477.5,213.4 477.7,212.6 477.8,215.2 478,215.3 478.1,215 478.3,213.5 478.4,217.2 478.6,216.8 478.7,213.1 478.9,213.6 479,215.8 479.2,212.5 479.3,214.5 479.5,213.9 479.6,212.6 479.8,213.4 479.9,211.1 480.1,212.9 480.2,210.4 480.4,217.7 480.5,216.4 480.7,215.9 480.8,214.3 481,215.5 481.1,216 481.3,215.5 481.4,215.4 481.6,212.3 481.7,214.5 481.9,212.9 482,211.8 482.2,211.9 482.3,214.5 482.5,215.6 482.6,211.5 482.8,216.8 482.9,216.3 483.1,213.2 483.2,213 483.4,213.7 483.5,215.5 483.7,213.2 483.8,211.9 484,214.4 484.1,210.3 484.3,214 484.4,215.8 484.6,214.3 484.7,215.1 484.9,214.6 485,215 485.2,214 485.3,212.4 485.5,213.4 485.6,213.7 485.8,215.9 485.9,216.6 486.1,214.5 486.2,212.5 486.4,212.6 486.5,213.5 486.7,216.2 486.8,214.4 487,213.7 487.1,212.5 487.3,215.3 487.4,214.3 487.6,213.7 487.7,214 487.9,216.7 488,213.5 488.2,216.7 488.3,215.9 488.5,213.9 488.6,215.3 488.8,213.6 488.9,212.4 489.1,213.3 489.2,212.3 489.4,214.7 489.5,213.8 489.7,214.8 489.8,215.2 490,208.5 490.1,214.3 490.3,210.7 490.4,214.1 490.6,212.3 490.7,214 490.9,216.1 491,210.9 491.2,214.1 491.3,213.7 491.5,210.6 491.6,214.9 491.8,213.9 491.9,212.9 492.1,212.6 492.2,219.3 492.4,213.1 492.5,210.7 492.7,212.2 492.8,213.2 493,213.1 493.1,213.7 493.3,212 493.4,214.7 493.6,213 493.7,211.5 493.9,212.4 494,213.1 494.2,215.2 494.3,214.6 494.5,213.2 494.6,213.8 494.8,214.2 494.9,217.3 495.1,212.8 495.2,214.6 495.3,215 495.5,212.2 495.6,214.1 495.8,214.1 495.9,213 496.1,214.8 496.2,215.5 496.4,215.7 496.5,213.5 496.7,214.1 496.8,217.8 497,211.9 497.1,214.2 497.3,215.3 497.4,214.1 497.6,214.9 497.7,214.1 497.9,215.1 498,216 498.2,213.4 498.3,214.1 498.5,213.7 498.6,213.1 498.8,213.8 498.9,211.9 499.1,215.1 499.2,216.7 499.4,216.7 499.5,216 499.7,212.2 499.8,216.4 500,212.6 500.1,213.7 500.3,216.9 500.4,212 500.6,215.2 500.7,214.3 500.9,213.5 501,212.3 501.2,214.5 501.3,213 501.5,215.6 501.6,215.9 501.8,211.5 501.9,212.9 502.1,213.3 502.2,211.8 502.4,211.9 502.5,214 502.7,213.4 502.8,211 503,212.9 503.1,214.7 503.3,211.7 503.4,212.2 503.6,216.5 503.7,216 503.9,211 504,211.5 504.2,214.4 504.3,211.8 504.5,213.4 504.6,213 504.8,214.8 504.9,209.5 505.1,210.1 505.2,211.7 505.4,215.5 505.5,213.5 505.7,210.9 505.8,214.6 506,215 506.1,213.4 506.3,213.2 506.4,214.5 506.6,215.9 506.7,214.1 506.9,214.7 507,213.7 507.2,213.2 507.3,212.2 507.5,214.2 507.6,213.3 507.8,213.4 507.9,215.4 508.1,214.6 508.2,215.3 508.4,211.1 508.5,214.7 508.7,212.8 508.8,212.4 509,212.4 509.1,215.9 509.3,215.2 509.4,212.6 509.6,211.9 509.7,213.8 509.9,213 510,216.6 510.2,211.3 510.3,210.7 510.5,213.4 510.6,213.8 510.8,214 510.9,215.1 511.1,217.3 511.2,213.2 511.4,212.9 511.5,210.8 511.7,214.2 511.8,215.3 512,213.4 512.1,215.8 512.3,213.9 512.4,216.4 512.6,214.4 512.7,212 512.9,212.7 513,211.2 513.2,210.8 513.3,214.3 513.5,215.3 513.6,217.1 513.8,213.7 513.9,213.4 514.1,211.9 514.2,215.5 514.4,214.5 514.5,212.8 514.7,215 514.8,214.8 515,210.6 515.1,215.1 515.3,214 515.4,213.1 515.6,213.1 515.7,216.8 515.9,216.4 516,216.9 516.2,211.8 516.3,212.7 516.5,215.3 516.6,211.7 516.8,212.6 516.9,210.7 517.1,217 517.2,215.6 517.4,214.6 517.5,214.2 517.7,213.1 517.8,213.1 518,214.8 518.1,212.6 518.3,215.9 518.4,213 518.6,212.3 518.7,216 518.9,213.6 519,214.7 519.2,213.1 519.3,210 519.5,214.7 519.6,211.5 519.8,215.6 519.9,211.2 520.1,210.6 520.2,214.3 520.4,214.5 520.5,214 520.7,211.7 520.8,215.3 521,211.3 521.1,213 521.3,212.5 521.4,213.2 521.6,215.2 521.7,212.7 521.9,214.8 522,215 522.2,210.9 522.3,211.8 522.5,213.1 522.6,212.8 522.8,214.3 522.9,210.5 523.1,215 523.2,215.1 523.4,213.5 523.5,211.4 523.7,213.8 523.8,212.9 524,214.8 524.1,213.7 524.3,215 524.4,213.1 524.6,216.3 524.7,209.9 524.9,212.1 525,214.6 525.2,211.2 525.3,215.1 525.5,211.7 525.6,214 525.8,212.2 525.9,213 526.1,214.1 526.2,213.6 526.4,213.2 526.5,217.5 526.7,213.8 526.8,212.2 527,215.4 527.1,215.2 527.3,215.9 527.4,216.8 527.6,212.2 527.7,215.6 527.9,215.7 528,213.8 528.2,214.2 528.3,208.7 528.5,212.8 528.6,216.8 528.8,210.8 528.9,212.9 529.1,214.3 529.2,214.8 529.4,216.6 529.5,210.8 529.7,213.9 529.8,215.3 530,211.6 530.1,213.7 530.3,217 530.4,216 530.6,214.7 530.7,209.4 530.9,213.6 531,214.5 531.2,213.3 531.3,213.7 531.5,219 531.6,213.4 531.8,212.2 531.9,214.2 532.1,213.3 532.2,213.3 532.4,213.7 532.5,215.1 532.7,214.2 532.8,211.8 533,213.6 533.1,214.6 533.3,213 533.4,215.8 533.6,215.1 533.7,212.1 533.9,214.3 534,217.2 534.2,216.5 534.3,213.7 534.5,215.3 534.6,212.7 534.8,211.3 534.9,214.7 535.1,214.2 535.2,214.7 535.4,213.8 535.5,214.4 535.7,212.9 535.8,214.6 536,215.2 536.1,213.7 536.3,215.2 536.4,210.8 536.6,212.5 536.7,216.3 536.9,216.8 537,214.2 537.2,213.6 537.3,211.6 537.5,214.4 537.6,215.1 537.8,211.3 537.9,214.8 538.1,214.6 538.2,214.5 538.4,211.9 538.5,214.7 538.7,211.3 538.8,216.3 539,214 539.1,211.8 539.3,216.1 539.4,215.8 539.6,212.7 539.7,217.5 539.9,212.1 540,214.3 540.2,215.8 540.3,209.9 540.5,215.5 540.6,213.7 540.8,213.8 540.9,212 541.1,214.4 541.2,211.9 541.4,212.2 541.5,213 541.7,211.7 541.8,216.5 542,211.5 542.1,212.5 542.3,213.3 542.4,213.8 542.6,215.1 542.7,215.2 542.9,213.3 543,213.1 543.2,213.9 543.3,215.2 543.5,215 543.6,212.9 543.8,210.3 543.9,217.4 544.1,215.4 544.2,214.2 544.4,214.4 544.5,212.9 544.7,212.1 544.8,213.2 545,213.4 545.1,212.7 545.3,211.3 545.4,213.3 545.6,214.8 545.7,213 545.9,213.8 546,210.3 546.2,213.4 546.3,213.6 546.5,211.7 546.6,210.9 546.8,214.5 546.9,212.4 547.1,214.6 547.2,213.1 547.4,214.9 547.5,213.2 547.7,211.2 547.8,213.7 548,213.2 548.1,214.9 548.3,213 548.4,213.1 548.6,215.3 548.7,215.8 548.9,215.1 549,215.6 549.2,214.6 549.3,215.1 549.5,215.3 549.6,214.5 549.8,213.9 549.9,214 550.1,217.9 550.2,213.8 550.4,213.4 550.5,213.2 550.7,213.7 550.8,214.2 551,211.9 551.1,210.4 551.3,214.3 551.4,211.1 551.6,214.2 551.7,214 551.9,215.8 552,216.6 552.2,214.4 552.3,212.9 552.5,211.8 552.6,212.5 552.8,213.9 552.9,210.3 553.1,213.9 553.2,213.8 553.4,214.9 553.5,213.2 553.7,214 553.8,212.5 554,213 554.1,210.8 554.3,214 554.4,216.4 554.6,214.1 554.7,214.4 554.9,212.1 555,216.2 555.2,212.5 555.3,215.2 555.5,214 555.6,212.2 555.8,215.5 555.9,213.8 556.1,214.1 556.2,214.6 556.4,213.8 556.5,213.2 556.7,214.6 556.8,213.1 557,213.9 557.1,212.7 557.3,211.3 557.4,212.7 557.6,213 557.7,213.8 557.8,215.8 558,210.9 558.1,214 558.3,210 558.4,212 558.6,212.9 558.7,210 558.9,210.6 559,214.1 559.2,213.9 559.3,213.6 559.5,212.4 559.6,217.5 559.8,213.5 559.9,212.3 560.1,216.7 560.2,214.8 560.4,213.2 560.5,215.8 560.7,214.1 560.8,214.9 561,214.2 561.1,212.1 561.3,215.5 561.4,214.1 561.6,212.1 561.7,212.5 561.9,215.4 562,213.2 562.2,213.9 562.3,214.9 562.5,214 562.6,211.2 562.8,214.9 562.9,215.4 563.1,215.3 563.2,216.5 563.4,214.4 563.5,215.1 563.7,216.5 563.8,213.3 564,216.8 564.1,216.7 564.3,215.1 564.4,216.9 564.6,215.2 564.7,212.3 564.9,215.7 565,214.4 565.2,214.5 565.3,214.1 565.5,216.1 565.6,214.7 565.8,212.6 565.9,214.6 566.1,215 566.2,212.6 566.4,213.1 566.5,213.1 566.7,212.8 566.8,214.4 567,215.5 567.1,217 567.3,215.8 567.4,215.5 567.6,215.7 567.7,216.1 567.9,213.2 568,215 568.2,214.3 568.3,213.6 568.5,213 568.6,212.9 568.8,213.3 568.9,211.7 569.1,214.7 569.2,213.8 569.4,214 569.5,214.4 569.7,215 569.8,212.8 570,213.6 570.1,211.1 570.3,210 570.4,210.5 570.6,216.4 570.7,210.7 570.9,214.6 571,216.3 571.2,213 571.3,216.6 571.5,216.9 571.6,215.4 571.8,217.8 571.9,214.9 572.1,212.6 572.2,214.7 572.4,213.1 572.5,211.6 572.7,211.6 572.8,217.7 573,212.9 573.1,213.8 573.3,212.7 573.4,214 573.6,213.4 573.7,213.1 573.9,211.8 574,211.4 574.2,212.6 574.3,214.3 574.5,217.4 574.6,215.6 574.8,216.9 574.9,214.6 575.1,213.7 575.2,211.6 575.4,213.8 575.5,210.2 575.7,213.3 575.8,216.6 576,214.4 576.1,215.7 576.3,213.2 576.4,211.5 576.6,213 576.7,213.2 576.9,215.9 577,217.2 577.2,212.6 577.3,213.2 577.5,213.6 577.6,213.2 577.8,211.7 577.9,213.8 578.1,214 578.2,213.5 578.4,210.2 578.5,211.5 578.7,208.4 578.8,213 579,210.2 579.1,212.1 579.3,212.4 579.4,212.5 579.6,211.9 579.7,210.8 579.9,216.8 580,214.3 580.2,214.3 580.3,217.4 580.5,213.7 580.6,214.8 580.8,213.9 580.9,215.9 581.1,214.7 581.2,214.4 581.4,213.4 581.5,214.3 581.7,215.8 581.8,210.3 582,213.6 582.1,213.1 582.3,213.3 582.4,210.5 582.6,215.1 582.7,212.4 582.9,213.5 583,213 583.2,211 583.3,213.1 583.5,210.7 583.6,212.3 583.8,213.3 583.9,213.8 584.1,213.9 584.2,213.6 584.4,217.5 584.5,214.6 584.7,211.8 584.8,212.8 585,212.7 585.1,213.6 585.3,212.8 585.4,212.4 585.6,216.7 585.7,213.9 585.9,213.3 586,213.4 586.2,213.5 586.3,216.2 586.5,214.7 586.6,215.8 586.8,208.6 586.9,214.4 587.1,215.7 587.2,217.2 587.4,213.9 587.5,210.9 587.7,214.9 587.8,212.8 588,210.8 588.1,212.8 588.3,215.7 588.4,215.9 588.6,215.1 588.7,212.1 588.9,218.1 589,211.9 589.2,213.7 589.3,211.4 589.5,216.1 589.6,214.6 589.8,215.4 589.9,214 590.1,213.7 590.2,214.2 590.4,210.7 590.5,215.6 590.7,215.4 590.8,213.2 591,213.8 591.1,214.4 591.3,216.5 591.4,214.6 591.6,213.9 591.7,213 591.9,211.3 592,212.9 592.2,214 592.3,213.4 592.5,214 592.6,215.1 592.8,214.6 592.9,214.3 593.1,215 593.2,214.2 593.4,213.8 593.5,214.7 593.7,210.9 593.8,216 594,211.7 594.1,215.3 594.3,213.9 594.4,215.8 594.6,213.9 594.7,212.3 594.9,215.7 595,214.2 595.2,214.1 595.3,214 595.5,215.6 595.6,215.3 595.8,214.3 595.9,211.2 596.1,213.2 596.2,214.1 596.4,216.9 596.5,214.5 596.7,213.7 596.8,215.9 597,213.7 597.1,213.8 597.3,214.2 597.4,211.3 597.6,215.5 597.7,214.6 597.9,213.4 598,212 598.2,214.3 598.3,216.3 598.5,212.8 598.6,212.1 598.8,214.6 598.9,211.2 599.1,210.1 599.2,213.1 599.4,212.7 599.5,213.4 599.7,213 599.8,214.5 600,213.5 600.1,212.9 600.3,213.1 600.4,215 600.6,215.5 600.7,215.4 600.9,215.1 601,208.3 601.2,212.2 601.3,213.4 601.5,214.2 601.6,211.1 601.8,216.3 601.9,214.4 602.1,212.8 602.2,214.2 602.4,213.3 602.5,212.6 602.7,214.8 602.8,213.1 603,211.5 603.1,212.8 603.3,213.7 603.4,212.1 603.6,216 603.7,212.1 603.9,216.9 604,215.4 604.2,212.3 604.3,214.1 604.5,215.9 604.6,213.6 604.8,211.9 604.9,214.1 605.1,217.3 605.2,211.4 605.4,214.9 605.5,213.9 605.7,213.7 605.8,213.2 606,213.4 606.1,215.7 606.3,214.9 606.4,212.2 606.6,216.6 606.7,211.7 606.9,215 607,214.2 607.2,216 607.3,214.5 607.5,215.7 607.6,213.9 607.8,215.6 607.9,214.5 608.1,217.6 608.2,212.7 608.4,216 608.5,214.7 608.7,214.2 608.8,213 609,214.7 609.1,211.4 609.3,211.6 609.4,215.1 609.6,211.3 609.7,216.4 609.9,213.5 610,214.3 610.2,214.1 610.3,214.6 610.5,213.5 610.6,213.3 610.8,213.7 610.9,215.7 611.1,215.9 611.2,216.1 611.4,214.5 611.5,213.6 611.7,211.1 611.8,215 612,215.4 612.1,213.2 612.3,215.3 612.4,216.1 612.6,214.1 612.7,215.7 612.9,214.5 613,211 613.2,213.1 613.3,213.2 613.5,214.8 613.6,212.5 613.8,213.2 613.9,212.3 614.1,213.9 614.2,214 614.4,215.6 614.5,215.3 614.7,214.2 614.8,214.3 615,214.1 615.1,214.1 615.3,216.6 615.4,209.7 615.6,213.6 615.7,214.5 615.9,215.9 616,212.1 616.2,214.5 616.3,215.4 616.5,213.2 616.6,210.7 616.8,213.3 616.9,211.9 617.1,215 617.2,212.5 617.4,217 617.5,214.2 617.7,212.6 617.8,213.1 618,212.1 618.1,214.6 618.3,216.5 618.4,213.6 618.6,215.5 618.7,212.3 618.9,214.5 619,217.8 619.2,211.5 619.3,216 619.5,215.9 619.6,210.7 619.8,211.5 619.9,212.3 620,215.6 620.2,213.2 620.3,213.6 620.5,215.1 620.6,214.1 620.8,214.3 620.9,213.4 621.1,215.8 621.2,212.6 621.4,216.8 621.5,213.4 621.7,212.6 621.8,215 622,214.7 622.1,210.6 622.3,214.3 622.4,211.6 622.6,212.5 622.7,215.3 622.9,212.5 623,214.5 623.2,213.3 623.3,217.2 623.5,213.8 623.6,211.9 623.8,212 623.9,212.4 624.1,214.1 624.2,213.9 624.4,215.6 624.5,214.2 624.7,214.1 624.8,214.5 625,213.7 625.1,214.4 625.3,215.2 625.4,215.2 625.6,213 625.7,210.9 625.9,212.5 626,214.4 626.2,209.7 626.3,213.1 626.5,214.7 626.6,212.9 626.8,212 626.9,216.9 627.1,216.3 627.2,213.5 627.4,216.2 627.5,216.1 627.7,212 627.8,218.5 628,212.3 628.1,213.5 628.3,212 628.4,214 628.6,211.7 628.7,213.9 628.9,215.7 629,214.3 629.2,213.4 629.3,216.5 629.5,212.4 629.6,215.5 629.8,213.4 629.9,214.3 630.1,213.9 630.2,214.1 630.4,213.8 630.5,212.6 630.7,212.9 630.8,214.6 631,213.7 631.1,211.9 631.3,212.7 631.4,212.7 631.6,213.8 631.7,214.2 631.9,214 632,212.8 632.2,213.9 632.3,211.5 632.5,209 632.6,213.8 632.8,211.1 632.9,212.3 633.1,211.8 633.2,214.9 633.4,211.8 633.5,214.3 633.7,213 633.8,211.8 634,211.2 634.1,214.6 634.3,214.5 634.4,215.2 634.6,217 634.7,214.3 634.9,214.3 635,213.6 635.2,214 635.3,213.2 635.5,212.3 635.6,217.2 635.8,210.7 635.9,214.3 636.1,214.6 636.2,214.1 636.4,212.2 636.5,213.5 636.7,213 636.8,212 637,213.7 637.1,213.1 637.3,212.9 637.4,215 637.6,212 637.7,214.6 637.9,212.8 638,214.5 638.2,213.9 638.3,214.2 638.5,212.1 638.6,212.5 638.8,212.3 638.9,214.1 639.1,215.1 639.2,215.6 639.4,212.9 639.5,213.9 639.7,211 639.8,210 640,212.3 640.1,212.7 640.3,211.2 640.4,210.8 640.6,214.7 640.7,212.4 640.9,210.9 641,217.7 641.2,214.1 641.3,213.2 641.5,214.9 641.6,212.5 641.8,216.5 641.9,211.2 642.1,211.6 642.2,213.5 642.4,212.5 642.5,216.2 642.7,211 642.8,212.5 643,214.2 643.1,214.7 643.3,215.5 643.4,214.3 643.6,217.5 643.7,212.9 643.9,214 644,215.2 644.2,213.2 644.3,213.2 644.5,213 644.6,212.7 644.8,211.8 644.9,212.8 645.1,211.1 645.2,214.4 645.4,211 645.5,217.2 645.7,216.6 645.8,215.6 646,213.4 646.1,212.7 646.3,215.8 646.4,214 646.6,214.7 646.7,212.5 646.9,215.5 647,212.4 647.2,213.9 647.3,210.8 647.5,212.6 647.6,214.6 647.8,213 647.9,213 648.1,215.1 648.2,213.6 648.4,215.8 648.5,209.6 648.7,214.7 648.8,214.6 649,211.1 649.1,211.5 649.3,215.2 649.4,211.9 649.6,212.6 649.7,214.7 649.9,213.1 650,214.5 650.2,212.2 650.3,214.2 650.5,215.5 650.6,214.3 650.8,210 650.9,214.8 651.1,213.8 651.2,212.2 651.4,216.1 651.5,210.8 651.7,216.9 651.8,212.6 652,216.4 652.1,213.6 652.3,211.5 652.4,213.9 652.6,214.3 652.7,214.6 652.9,215.5 653,212.2 653.2,214.5 653.3,215 653.5,213.2 653.6,212.1 653.8,212.1 653.9,215 654.1,215.1 654.2,212.3 654.4,211.4 654.5,215.8 654.7,211.1 654.8,214 655,212.3 655.1,210.7 655.3,213.9 655.4,213.4 655.6,216.1 655.7,217.6 655.9,213.4 656,215.4 656.2,215.5 656.3,212.8 656.5,212.2 656.6,216.4 656.8,213.1 656.9,213.7 657.1,213.2 657.2,213.5 657.4,212.7 657.5,215 657.7,215.8 657.8,213.1 658,211.4 658.1,213.8 658.3,211.2 658.4,212.6 658.6,215.8 658.7,217.6 658.9,214.3 659,211.9 659.2,215 659.3,209.9 659.5,212.5 659.6,216.3 659.8,215 659.9,211.4 660.1,210.9 660.2,215.2 660.4,213.6 660.5,212.7 660.7,214.4 660.8,212.7 661,210.5 661.1,215.1 661.3,212.6 661.4,212 661.6,211.4 661.7,214.1 661.9,212.3 662,214.8 662.2,213.3 662.3,215.5 662.5,213.1 662.6,212.6 662.8,210.4 662.9,211.8 663.1,214.9 663.2,218.9 663.4,211.6 663.5,212 663.7,214.3 663.8,214.5 664,212.6 664.1,213.8 664.3,211 664.4,213.2 664.6,215.2 664.7,216.5 664.9,213.4 665,213.3 665.2,214.5 665.3,215.6 665.5,214.5 665.6,212.4 665.8,214.3"/>
</g>
<path d="M415.8 198V203.3M442.7 198V203.3M450.9 198V203.3M481 198V203.3M501.6 198V203.3M533 198V203.3M550.6 198V203.3M578.7 198V203.3M595.1 198V203.3M600.7 198V203.3M620.9 198V203.3M636.3 198V203.3M641.5 198V203.3M661.8 198V203.3" stroke="#5db35d" stroke-width="1.7" fill="none"/>
<path d="M390.7 229.2V226.8M415.7 229.2V225M440.7 229.2V226.8M465.7 229.2V225M490.6 229.2V226.8M515.6 229.2V225M540.6 229.2V226.8M565.6 229.2V225M590.6 229.2V226.8M615.5 229.2V225M640.5 229.2V226.8" stroke="#000" stroke-width="1.3" fill="none"/>
<rect x="370.2" y="1.7" width="295.6" height="227.5" fill="none" stroke="#000" stroke-width="1.6"/>
<g class="tk"><text transform="translate(415.7 246.2) scale(1.06 1)">30</text><text transform="translate(465.7 246.2) scale(1.06 1)">40</text><text transform="translate(515.6 246.2) scale(1.06 1)">50</text><text transform="translate(565.6 246.2) scale(1.06 1)">60</text><text transform="translate(615.5 246.2) scale(1.06 1)">70</text><text transform="translate(665.5 246.2) scale(1.06 1)">80</text></g>
<text class="ax" transform="translate(517.8 264.8) scale(1.065 1)" text-anchor="middle">Angle (2θ)</text>
<text class="ax" transform="translate(359.2 115.4) rotate(-90)" text-anchor="middle">Intensity (a.u.)</text>
<circle cx="555.6" cy="11.6" r="1.6" fill="#fff" stroke="#555" stroke-width="0.5"/>
<path d="M540 30.7H570.8" stroke="#ff0000" stroke-width="1.75"/>
<path d="M540 49.5H570.8" stroke="#4f88e0" stroke-width="1"/>
<path d="M555.6 66.2V71.2" stroke="#8cc88c" stroke-width="1.4"/>
<g class="lg">
<text x="574.6" y="16.9">I<tspan class="sb" dy="3.1">obs</tspan></text>
<text x="574.6" y="35.2">I<tspan class="sb" dy="3.1">calc</tspan></text>
<text x="574.6" y="54.5">I<tspan class="sb" dy="3.1">obs</tspan><tspan dy="-3.1">- I</tspan><tspan class="sb" dy="3.1">calc</tspan></text>
<text x="574.6" y="73.1">Bragg positions</text>
</g>
<text class="lb" x="576.4" y="98.6">CFO | <tspan font-style="italic">Fd-3m</tspan></text>
</g>
<g id="p3">
<clipPath id="clipp3"><rect x="22.2" y="274.7" width="294.1" height="227.3"/></clipPath>
<g clip-path="url(#clipp3)">
<polyline fill="none" stroke="none" marker-start="url(#mk)" marker-mid="url(#mk)" marker-end="url(#mk)" points="22.2,433.8 22.4,432.1 22.6,431.4 22.8,433.5 23,433.4 23.2,434.1 23.4,433.2 23.6,432.4 23.8,432.7 24,432.1 24.2,432.2 24.4,432.7 24.6,432.8 24.8,434.6 25,432.1 25.2,433.4 25.4,432.8 25.6,435.1 25.8,433.8 26,433.1 26.2,434.4 26.4,433.6 26.6,433 26.8,435.2 27,434.2 27.2,435.3 27.4,434.5 27.6,433.9 27.8,432.9 28,431.1 28.2,432.2 28.4,430.1 28.6,427.5 28.8,415 29,376.7 29.2,325.2 29.4,353 29.6,404.2 29.8,423.4 30,429.9 30.2,432.9 30.4,431.7 30.6,432.9 30.8,432.5 31,435.4 31.2,434.7 31.4,434.1 31.6,432.9 31.8,434.7 32,436.1 32.2,434.8 32.4,434.8 32.6,436 32.8,434.1 33,435.5 33.2,436.2 33.4,434.8 33.6,434.8 33.8,436 34,435.7 34.2,435.6 34.4,436.2 34.6,436.3 34.8,435.1 35,435.4 35.2,436.7 35.4,437.5 35.6,437.8 35.8,435.5 36,437.6 36.2,437.3 36.4,436.5 36.6,437.1 36.8,437.6 37,438.7 37.2,435.6 37.4,437.5 37.6,436.7 37.8,436.7 37.9,438.2 38.1,437.9 38.3,436 38.5,436.8 38.7,437.4 38.9,435.7 39.1,438.2 39.3,437.3 39.5,437.6 39.7,437.8 39.9,439.5 40.1,437.6 40.3,437.2 40.5,439.6 40.7,437.2 40.9,437.2 41.1,436.3 41.3,439 41.5,438.2 41.7,438.5 41.9,438.2 42.1,437.9 42.3,437.3 42.5,437.3 42.7,438.7 42.9,438.4 43.1,440.1 43.3,437.5 43.5,437.9 43.7,437.3 43.9,440 44.1,437.2 44.3,439.4 44.5,440.2 44.7,438.6 44.9,439.5 45.1,436.5 45.3,438.4 45.5,437.1 45.7,439.1 45.9,439 46.1,438.2 46.3,440.1 46.5,439.5 46.7,438.6 46.9,438.7 47.1,437.7 47.3,439.1 47.5,441.7 47.7,438.6 47.9,439.9 48.1,438.9 48.3,440.4 48.5,440.1 48.7,439.4 48.9,437.7 49.1,439.1 49.3,441 49.5,439.5 49.7,440.5 49.9,439.3 50.1,437.8 50.3,440.4 50.5,440.3 50.7,439.3 50.9,439.6 51.1,440.3 51.3,439.3 51.5,440.4 51.7,439.7 51.9,437.3 52.1,439.6 52.3,438.9 52.5,438.3 52.7,439.1 52.9,437.4 53.1,437.7 53.3,437.5 53.5,435.8 53.7,433.9 53.9,435.2 54.1,437.7 54.3,437.3 54.5,437.4 54.7,438.7 54.9,439.7 55.1,439.4 55.3,439.6 55.5,437.2 55.7,436.4 55.9,434.1 56.1,431.3 56.3,425.5 56.5,424.7 56.7,423 56.9,428 57.1,431.7 57.3,435.2 57.5,437.1 57.7,437.5 57.9,440.3 58.1,439.7 58.3,440.9 58.5,439.4 58.7,439.8 58.9,440.7 59.1,441.6 59.3,438.7 59.5,439.8 59.7,438.7 59.9,432.5 60.1,433 60.3,432.4 60.5,434.9 60.7,436.4 60.9,438.6 61.1,440.9 61.3,441.7 61.5,441.3 61.7,441.2 61.9,441.2 62.1,440.9 62.3,440.9 62.5,439.6 62.7,439.3 62.9,436.7 63.1,438.6 63.3,439.9 63.5,438.9 63.7,438.1 63.9,442 64.1,440.9 64.3,438.6 64.5,442.1 64.7,443.3 64.9,443.2 65.1,444.3 65.3,443.7 65.5,443.3 65.7,441.1 65.9,442.1 66.1,443.6 66.3,444.2 66.5,442.4 66.7,442.9 66.9,444.1 67.1,441.6 67.3,441.6 67.5,443.5 67.7,444 67.9,443.3 68.1,441.3 68.3,443.9 68.5,442.5 68.7,444.6 68.9,443.9 69,444.3 69.2,444.7 69.4,443.5 69.6,445 69.8,445.5 70,444.5 70.2,445.6 70.4,443.5 70.6,445.2 70.8,444.5 71,443.1 71.2,444.1 71.4,443.6 71.6,443.5 71.8,444.2 72,445.2 72.2,443.7 72.4,444.1 72.6,442.3 72.8,443.9 73,445 73.2,444.4 73.4,443.9 73.6,442.5 73.8,441.7 74,442.2 74.2,440.2 74.4,439.4 74.6,440.3 74.8,436 75,434.2 75.2,418.3 75.4,389.5 75.6,335.4 75.8,303.1 76,336.9 76.2,387.2 76.4,411.5 76.6,409.8 76.8,384.5 77,342.4 77.2,327.2 77.4,369.4 77.6,408.5 77.8,428.4 78,438.3 78.2,436.5 78.4,439.7 78.6,439.5 78.8,441.9 79,442.5 79.2,447.3 79.4,443.8 79.6,445.6 79.8,445.3 80,443.5 80.2,444.6 80.4,446 80.6,444.5 80.8,444.6 81,444.9 81.2,442.7 81.4,443.5 81.6,444.6 81.8,444.7 82,442.8 82.2,442.9 82.4,442.3 82.6,441.3 82.8,441.3 83,440.1 83.2,440.4 83.4,439.5 83.6,441 83.8,443.4 84,442 84.2,444.5 84.4,443.8 84.6,443.8 84.8,445.5 85,444.1 85.2,444 85.4,444.2 85.6,445 85.8,448 86,442.7 86.2,445 86.4,444.8 86.6,446.1 86.8,444.7 87,442.4 87.2,446.5 87.4,443.9 87.6,445 87.8,443.6 88,443.9 88.2,444.6 88.4,446.1 88.6,446.1 88.8,444.5 89,445.7 89.2,444.7 89.4,445.3 89.6,445.3 89.8,445.8 90,444.5 90.2,445 90.4,445.4 90.6,445.3 90.8,444.3 91,447.1 91.2,444.7 91.4,446 91.6,445.4 91.8,446.5 92,442.8 92.2,447.4 92.4,445 92.6,443.8 92.8,445.3 93,447.7 93.2,445.7 93.4,443.8 93.6,444.7 93.8,446.7 94,443.7 94.2,445 94.4,444.9 94.6,447.6 94.8,444.9 95,446.6 95.2,444.5 95.4,444.3 95.6,446.3 95.8,445.9 96,443.3 96.2,445.9 96.4,445.9 96.6,444.5 96.8,445.4 97,445.5 97.2,444.7 97.4,444.6 97.6,444.5 97.8,444.9 98,443.7 98.2,445.2 98.4,443.6 98.6,445.3 98.8,445.1 99,444.1 99.2,446.1 99.4,447.3 99.6,446.6 99.8,443.7 100,446.6 100.1,445.4 100.3,445.1 100.5,444.5 100.7,445.2 100.9,446.7 101.1,445.8 101.3,444.7 101.5,444.4 101.7,444.7 101.9,445.8 102.1,447.2 102.3,444 102.5,445.1 102.7,444.7 102.9,444.2 103.1,445.5 103.3,445.6 103.5,443.4 103.7,443.7 103.9,446 104.1,444.7 104.3,444.1 104.5,441.7 104.7,440.2 104.9,440 105.1,439.4 105.3,440.3 105.5,443 105.7,445 105.9,443.4 106.1,445.9 106.3,445.6 106.5,444 106.7,445 106.9,445 107.1,445.7 107.3,445.8 107.5,443.6 107.7,443.6 107.9,446.2 108.1,445.2 108.3,445.5 108.5,445.4 108.7,446.7 108.9,443.7 109.1,446.2 109.3,444.1 109.5,445.7 109.7,446.3 109.9,443.3 110.1,445.2 110.3,444.3 110.5,444.2 110.7,444.2 110.9,442.3 111.1,441 111.3,440.5 111.5,438.1 111.7,435.3 111.9,435.6 112.1,442.2 112.3,443 112.5,443.4 112.7,442.4 112.9,443 113.1,443.8 113.3,442 113.5,444 113.7,440.6 113.9,436.2 114.1,422.9 114.3,404.4 114.5,398.4 114.7,416.4 114.9,431.5 115.1,438.8 115.3,442.2 115.5,443.3 115.7,445.3 115.9,443.8 116.1,443.2 116.3,444.5 116.5,446.2 116.7,444.1 116.9,444.9 117.1,444.5 117.3,445.3 117.5,445.2 117.7,444.1 117.9,444.8 118.1,446.1 118.3,446.2 118.5,446.1 118.7,446 118.9,444.7 119.1,444.7 119.3,446.1 119.5,443.9 119.7,445.1 119.9,443.1 120.1,444.7 120.3,444.4 120.5,443.9 120.7,445.8 120.9,444.4 121.1,444.8 121.3,444.9 121.5,444.4 121.7,446.7 121.9,444.7 122.1,445.4 122.3,443.8 122.5,444.7 122.7,444.9 122.9,444.9 123.1,444.6 123.3,445.4 123.5,446.9 123.7,445.1 123.9,445.1 124.1,444.8 124.3,448 124.5,447 124.7,445.8 124.9,446 125.1,444.5 125.3,445.1 125.5,445.4 125.7,445.4 125.9,444.3 126.1,444.4 126.3,445.8 126.5,445.6 126.7,443 126.9,445.3 127.1,446.6 127.3,444.5 127.5,445.5 127.7,443.7 127.9,446.1 128.1,444 128.3,443.9 128.5,444.9 128.7,447.8 128.9,444.6 129.1,443.9 129.3,445.7 129.5,445.5 129.7,447 129.9,443.9 130.1,443.5 130.3,444.9 130.5,445.6 130.7,445.6 130.9,446.4 131.1,443.6 131.2,444.3 131.4,445.1 131.6,446.1 131.8,445.7 132,444.8 132.2,444.1 132.4,446.2 132.6,446.3 132.8,448.2 133,445 133.2,447 133.4,443.9 133.6,444.6 133.8,444.5 134,444.7 134.2,444.3 134.4,444.6 134.6,445.2 134.8,444.7 135,445.9 135.2,445.1 135.4,445.2 135.6,446.8 135.8,445.6 136,445.4 136.2,445.2 136.4,445.3 136.6,445.8 136.8,444.4 137,446.5 137.2,446.9 137.4,446.5 137.6,444.7 137.8,443.5 138,444.7 138.2,445.4 138.4,446.1 138.6,445 138.8,444.9 139,446.8 139.2,444.5 139.4,446.4 139.6,446.2 139.8,443.8 140,445.5 140.2,444.6 140.4,444.2 140.6,443.2 140.8,443.5 141,445.6 141.2,444.7 141.4,445.4 141.6,444 141.8,444.8 142,444.8 142.2,443.4 142.4,443.3 142.6,445.5 142.8,445.2 143,444 143.2,444.8 143.4,445.6 143.6,446.8 143.8,443.7 144,445.2 144.2,446.6 144.4,444.1 144.6,445.1 144.8,439.7 145,441.7 145.2,431.3 145.4,404.9 145.6,386.3 145.8,409.9 146,433.5 146.2,441.7 146.4,442.6 146.6,442.7 146.8,443.5 147,444.3 147.2,445 147.4,444.2 147.6,444.8 147.8,445.8 148,445.3 148.2,447.5 148.4,447.3 148.6,443.8 148.8,444.5 149,443.7 149.2,443.9 149.4,445.7 149.6,444.1 149.8,444 150,444.9 150.2,446 150.4,444.8 150.6,444.8 150.8,446.2 151,445.7 151.2,445.7 151.4,446.2 151.6,444.1 151.8,445.4 152,444.5 152.2,446.3 152.4,446.1 152.6,444.1 152.8,446.7 153,444 153.2,446.5 153.4,445.4 153.6,444.3 153.8,444 154,444.9 154.2,445.2 154.4,444.5 154.6,445.8 154.8,443.7 155,445.2 155.2,445.2 155.4,443.2 155.6,445.6 155.8,443.9 156,442.5 156.2,444.6 156.4,445 156.6,446.2 156.8,444.7 157,446.8 157.2,446.8 157.4,446.4 157.6,446.7 157.8,445.6 158,444.6 158.2,445.9 158.4,446.3 158.6,445.5 158.8,445 159,443.5 159.2,446 159.4,445.6 159.6,443.8 159.8,445.3 160,446 160.2,445.1 160.4,446.1 160.6,446 160.8,443.6 161,444.9 161.2,445.7 161.4,446.2 161.6,446.8 161.8,443.1 162,445.1 162.2,446 162.4,446.5 162.5,447 162.7,444.2 162.9,444.8 163.1,444.1 163.3,446.1 163.5,443.8 163.7,446.5 163.9,446.2 164.1,445.7 164.3,442.8 164.5,444.5 164.7,446 164.9,443.7 165.1,444.9 165.3,445.1 165.5,446.2 165.7,445.5 165.9,445.5 166.1,444.7 166.3,445.2 166.5,445 166.7,446 166.9,445 167.1,446.3 167.3,443.3 167.5,446.4 167.7,445 167.9,446.4 168.1,445.2 168.3,446 168.5,446.7 168.7,444.5 168.9,445.2 169.1,444.9 169.3,445.3 169.5,443.3 169.7,444.8 169.9,444.7 170.1,444.1 170.3,444.7 170.5,443.2 170.7,446.3 170.9,445.2 171.1,446.6 171.3,443.5 171.5,443 171.7,444.4 171.9,441.9 172.1,443.4 172.3,441.4 172.5,439.5 172.7,434.6 172.9,423.1 173.1,410.2 173.3,404.5 173.5,414.9 173.7,430.9 173.9,436.2 174.1,440.9 174.3,440.6 174.5,441.2 174.7,442.8 174.9,438.4 175.1,433.7 175.3,427.6 175.5,424.6 175.7,430.3 175.9,433.8 176.1,438.5 176.3,443 176.5,441.8 176.7,443.6 176.9,445.5 177.1,444.5 177.3,444.1 177.5,443.9 177.7,443.8 177.9,444.2 178.1,445 178.3,446.3 178.5,446 178.7,444.4 178.9,444.2 179.1,445.8 179.3,443.1 179.5,444.6 179.7,444.7 179.9,443.9 180.1,444 180.3,445.5 180.5,443.3 180.7,444.1 180.9,444.4 181.1,445.2 181.3,443.6 181.5,446.3 181.7,444.8 181.9,444.9 182.1,444.8 182.3,444.4 182.5,444.1 182.7,446.4 182.9,445.4 183.1,445 183.3,446.2 183.5,444.4 183.7,445.8 183.9,445.2 184.1,444.2 184.3,446 184.5,443.5 184.7,445.9 184.9,444.2 185.1,445.6 185.3,446.7 185.5,445.8 185.7,444.5 185.9,445.1 186.1,444.8 186.3,443.9 186.5,444 186.7,445.2 186.9,445.7 187.1,443.2 187.3,445.1 187.5,445.7 187.7,445.3 187.9,444.1 188.1,446.3 188.3,443.8 188.5,445.9 188.7,446.9 188.9,442.9 189.1,445.4 189.3,445.5 189.5,445.4 189.7,444.3 189.9,444.8 190.1,443.6 190.3,445.3 190.5,445.7 190.7,444.4 190.9,444.1 191.1,444.6 191.3,445.1 191.5,445.2 191.7,445 191.9,445.2 192.1,443.7 192.3,442.2 192.5,445.8 192.7,446.6 192.9,443.6 193.1,444.4 193.3,445.4 193.5,446.1 193.6,445.8 193.8,446.4 194,445 194.2,445.5 194.4,445.5 194.6,444.6 194.8,446.3 195,445.7 195.2,446 195.4,444.5 195.6,446.1 195.8,443.8 196,445.3 196.2,442 196.4,443.7 196.6,445.5 196.8,444.2 197,444.8 197.2,442.7 197.4,445.9 197.6,444.6 197.8,443.3 198,442.2 198.2,438 198.4,431 198.6,422 198.8,423.7 199,434 199.2,441.5 199.4,443.1 199.6,442.7 199.8,444.1 200,443.5 200.2,443.9 200.4,441.2 200.6,441.2 200.8,441.2 201,435.5 201.2,424.6 201.4,409.4 201.6,401.5 201.8,416.6 202,429.8 202.2,435.9 202.4,435.9 202.6,427.2 202.8,412.9 203,407.9 203.2,416.5 203.4,431.9 203.6,438.8 203.8,442 204,443.7 204.2,444.3 204.4,442.6 204.6,445.5 204.8,443.3 205,444.7 205.2,447.3 205.4,444.8 205.6,446.5 205.8,444.4 206,445.5 206.2,444.9 206.4,445.3 206.6,444 206.8,444 207,445.3 207.2,443.3 207.4,444.1 207.6,445.7 207.8,444.4 208,444.1 208.2,443.9 208.4,445.2 208.6,444.7 208.8,445.2 209,444.9 209.2,447.1 209.4,444.6 209.6,443 209.8,445.2 210,445.1 210.2,445.3 210.4,443.4 210.6,446.3 210.8,445.1 211,445.1 211.2,443.4 211.4,445.6 211.6,445.1 211.8,446.6 212,444.7 212.2,443.8 212.4,445.3 212.6,444.2 212.8,445.6 213,444 213.2,445 213.4,444.9 213.6,445.1 213.8,444.6 214,444.3 214.2,445.1 214.4,444.5 214.6,445.3 214.8,444.9 215,442.8 215.2,445.1 215.4,446.6 215.6,445.5 215.8,445.8 216,445.6 216.2,444.7 216.4,443.7 216.6,446 216.8,446.3 217,445.8 217.2,445.6 217.4,445.6 217.6,445.1 217.8,445.5 218,445.2 218.2,445.5 218.4,444.2 218.6,444.5 218.8,445.8 219,444.8 219.2,442.6 219.4,445.3 219.6,442.7 219.8,447.2 220,445.9 220.2,445.9 220.4,444.5 220.6,444 220.8,444.9 221,445.2 221.2,444.4 221.4,445.3 221.6,445.9 221.8,445.8 222,444.1 222.2,442.9 222.4,445.2 222.6,444.5 222.8,445.6 223,446.9 223.2,446.9 223.4,445.5 223.6,446.4 223.8,446.9 224,445.2 224.2,445.5 224.4,446.1 224.6,445.1 224.7,444.7 224.9,444.4 225.1,445.2 225.3,444.5 225.5,446 225.7,444.8 225.9,446.7 226.1,446.5 226.3,443.9 226.5,446.3 226.7,444.8 226.9,446.6 227.1,445.7 227.3,445.1 227.5,445.9 227.7,444.6 227.9,445.5 228.1,445.6 228.3,445 228.5,445.6 228.7,444.1 228.9,445.8 229.1,443.9 229.3,445.9 229.5,445.7 229.7,445.9 229.9,444.6 230.1,448.4 230.3,445 230.5,445.4 230.7,444.4 230.9,446.7 231.1,444.7 231.3,446.2 231.5,444.2 231.7,445.5 231.9,444.8 232.1,446.2 232.3,444.9 232.5,444.3 232.7,445.7 232.9,444 233.1,444.2 233.3,446 233.5,443.3 233.7,446 233.9,444.8 234.1,444.3 234.3,445.5 234.5,445.9 234.7,444.6 234.9,445 235.1,446.1 235.3,446 235.5,445.2 235.7,444.4 235.9,444.2 236.1,444.6 236.3,445.9 236.5,445.8 236.7,445.5 236.9,446.7 237.1,444.9 237.3,444.8 237.5,444.8 237.7,447.2 237.9,443.1 238.1,445.5 238.3,445.7 238.5,445.3 238.7,447.7 238.9,446.4 239.1,446 239.3,444.3 239.5,445.7 239.7,444.8 239.9,445.3 240.1,445.4 240.3,444.7 240.5,445.9 240.7,446.9 240.9,446.3 241.1,445.5 241.3,443.2 241.5,446.4 241.7,446.3 241.9,445 242.1,444.7 242.3,445.9 242.5,444.4 242.7,446 242.9,444.1 243.1,444.3 243.3,445.2 243.5,443.7 243.7,445.2 243.9,445.7 244.1,443.8 244.3,446.1 244.5,444.6 244.7,445.7 244.9,445.4 245.1,444.7 245.3,444.6 245.5,443.3 245.7,444.4 245.9,444.3 246.1,446.7 246.3,446 246.5,443.5 246.7,445.7 246.9,444.9 247.1,444.1 247.3,444.6 247.5,444.1 247.7,441.3 247.9,439.6 248.1,437.9 248.3,435.7 248.5,438 248.7,439.8 248.9,441.2 249.1,442.3 249.3,444.2 249.5,445.2 249.7,444.7 249.9,443.6 250.1,445.2 250.3,444.5 250.5,444.7 250.7,444.8 250.9,441.7 251.1,440.6 251.3,437.1 251.5,433 251.7,433 251.9,432 252.1,432.4 252.3,438.4 252.5,440.4 252.7,443.9 252.9,443.8 253.1,444.1 253.3,444.6 253.5,445.1 253.7,444.8 253.9,444.6 254.1,444.8 254.3,445.5 254.5,443.9 254.7,445 254.9,445 255.1,444.6 255.3,445.9 255.5,443.8 255.7,444.8 255.8,444.3 256,445.7 256.2,444.7 256.4,445.2 256.6,445.6 256.8,443.6 257,445.7 257.2,444.4 257.4,445 257.6,445.1 257.8,446.1 258,446 258.2,447 258.4,445.4 258.6,444.7 258.8,444.7 259,445.9 259.2,446.9 259.4,445.6 259.6,444.6 259.8,445.5 260,445.5 260.2,445.3 260.4,444.5 260.6,442.6 260.8,444.7 261,446.3 261.2,445.5 261.4,443 261.6,445.2 261.8,443.3 262,447.3 262.2,445.4 262.4,444 262.6,446.1 262.8,444.4 263,445.8 263.2,445.3 263.4,444 263.6,445.9 263.8,443.9 264,446.6 264.2,445.3 264.4,444.2 264.6,443.4 264.8,446.9 265,446.7 265.2,443.9 265.4,446.9 265.6,445.4 265.8,445 266,445.1 266.2,444.9 266.4,446.6 266.6,445.3 266.8,443.2 267,447.3 267.2,446 267.4,444 267.6,444.7 267.8,444.1 268,445 268.2,445.3 268.4,445.1 268.6,444.1 268.8,443.6 269,444.8 269.2,442.9 269.4,443.7 269.6,438.5 269.8,438.2 270,436.9 270.2,437.5 270.4,441.8 270.6,442.3 270.8,442.3 271,443.3 271.2,444.5 271.4,441.5 271.6,443.2 271.8,441.5 272,440.3 272.2,442.7 272.4,444.3 272.6,444 272.8,444.1 273,446.1 273.2,445.7 273.4,443 273.6,443.1 273.8,442.1 274,440.4 274.2,437.7 274.4,439.3 274.6,438.8 274.8,440.3 275,443.3 275.2,442.5 275.4,443.9 275.6,444.7 275.8,444.2 276,444.7 276.2,445.7 276.4,445 276.6,446.4 276.8,444.3 277,445.3 277.2,443.6 277.4,445 277.6,444.4 277.8,446.6 278,445.9 278.2,445.7 278.4,447.1 278.6,446.7 278.8,445.9 279,444.5 279.2,443.7 279.4,445.2 279.6,444.9 279.8,444.6 280,444.9 280.2,443.5 280.4,446.8 280.6,444.1 280.8,444.5 281,445.8 281.2,443.6 281.4,446.2 281.6,446.2 281.8,444.9 282,444.1 282.2,444.8 282.4,443.3 282.6,446.7 282.8,445.3 283,444.5 283.2,444.3 283.4,445.8 283.6,446.8 283.8,443.9 284,444.7 284.2,443.4 284.4,446 284.6,445.4 284.8,447.6 285,445.1 285.2,444.8 285.4,444.5 285.6,446.1 285.8,443.6 286,446 286.2,445.5 286.4,444.7 286.6,444.3 286.8,446.3 287,447.2 287.1,444.8 287.3,445.8 287.5,447.1 287.7,444.6 287.9,445 288.1,444 288.3,445.1 288.5,445.1 288.7,444.8 288.9,444.5 289.1,443.6 289.3,443.8 289.5,444.2 289.7,445.9 289.9,444.7 290.1,444.3 290.3,445.9 290.5,445.8 290.7,444.4 290.9,444.5 291.1,445.8 291.3,445.5 291.5,444.2 291.7,445.3 291.9,445 292.1,446.2 292.3,444.1 292.5,445.9 292.7,445.3 292.9,443.7 293.1,445.8 293.3,445.4 293.5,442.6 293.7,445.3 293.9,440.8 294.1,439.2 294.3,437.7 294.5,437.2 294.7,437.1 294.9,437.9 295.1,441.5 295.3,442.2 295.5,444.4 295.7,446.4 295.9,443.7 296.1,440.5 296.3,441.8 296.5,439.6 296.7,438.8 296.9,436.8 297.1,434.5 297.3,435.6 297.5,438.7 297.7,440.8 297.9,439.9 298.1,444.7 298.3,444.3 298.5,444.5 298.7,445 298.9,443.7 299.1,444.8 299.3,446.1 299.5,446.1 299.7,445.5 299.9,444.8 300.1,444.2 300.3,446.5 300.5,445.7 300.7,444.7 300.9,442.9 301.1,444.2 301.3,443.1 301.5,446.5 301.7,445.4 301.9,444.4 302.1,444.9 302.3,448 302.5,446.5 302.7,443.8 302.9,445.1 303.1,443.9 303.3,443.4 303.5,445.4 303.7,447.8 303.9,446.9 304.1,445.3 304.3,444.8 304.5,445.5 304.7,446.4 304.9,443.7 305.1,443.2 305.3,447.3 305.5,445.6 305.7,447 305.9,445.5 306.1,446.9 306.3,444.6 306.5,445.8 306.7,446.9 306.9,446.4 307.1,444.8 307.3,446.2 307.5,444.5 307.7,443.7 307.9,445.8 308.1,446.8 308.3,446.2 308.5,443.9 308.7,446.2 308.9,446 309.1,444.8 309.3,442.6 309.5,446.4 309.7,446.2 309.9,445.8 310.1,443.4 310.3,443.6 310.5,446.3 310.7,446.1 310.9,445.8 311.1,445 311.3,445.6 311.5,444.6 311.7,444.9 311.9,444.2 312.1,445.5 312.3,444.7 312.5,446.1 312.7,445.8 312.9,444.1 313.1,446.8 313.3,443.4 313.5,444.8 313.7,445.1 313.9,444.9 314.1,440.8 314.3,444.1 314.5,444.4 314.7,445 314.9,441.3 315.1,443.4 315.3,444.4 315.5,444.2 315.7,446.4 315.9,444.3 316.1,446.4 316.3,445.7"/>
<polygon fill="#ff0000" points="22.7,431.9 25.7,432.5 26.7,432.5 27.3,432.3 27.7,431.8 28,431.1 28.2,430.4 28.3,429.5 28.4,428.5 28.5,427 28.6,424.3 28.7,421.8 28.7,419 28.8,408.6 28.9,390.3 29,364 29.1,335.9 29.2,325.4 29.2,322.4 29.3,336 29.4,364.1 29.5,390.5 29.6,408.8 29.7,415.3 29.7,419.3 29.8,424.6 29.9,427.4 30,428.9 30.1,430 30.2,430.7 30.3,431.3 30.5,432.1 30.8,432.8 31.2,433.4 31.7,433.8 33.2,434.5 38.1,436 54.1,440 65.1,442.4 69.5,443.1 71.5,443.2 72.5,443 73.2,442.6 73.7,442 74,441.4 74.3,440.7 74.4,440.1 74.6,439 74.7,438 74.8,437.1 74.8,436.4 74.9,435.1 75,434 75,432.2 75,431.7 75.1,429.6 75.2,425 75.2,421 75.3,412.1 75.4,404.7 75.4,389.7 75.5,378.3 75.5,366.8 75.6,357.4 75.6,343.6 75.7,322.8 75.7,312.9 75.8,305.9 75.9,308.3 76,321.7 76,333.7 76,340.3 76.1,354.9 76.1,367.7 76.2,385.5 76.3,394.6 76.3,405.4 76.4,409.9 76.5,413.8 76.5,414.2 76.5,414.2 76.6,411.8 76.6,408.2 76.7,399.3 76.8,391.7 76.9,376.6 76.9,365.7 77,347.6 77,340.2 77,337.3 77.1,325.9 77.2,323.9 77.2,330 77.3,338.7 77.4,356.6 77.4,368.6 77.5,386.7 77.5,389.8 77.6,396.6 77.6,409.6 77.7,416 77.8,423.7 77.8,427.2 77.9,431.2 77.9,433 78,435 78.1,436 78.2,437.2 78.2,437.8 78.3,438.9 78.5,440.1 78.7,441 79,441.8 79.4,442.4 80,443.1 81,443.5 83,443.9 89,444.1 102.3,444.1 103.5,443.9 103.9,443.7 104.1,443.4 104.3,442.9 104.4,441.9 104.8,439.1 104.9,438.5 105,438.4 105.2,439.1 105.4,441.3 105.5,441.9 105.7,442.9 105.9,443.5 106.2,443.8 107.3,444 109.6,443.9 110.3,443.7 110.6,443.3 110.8,442.9 110.9,442.4 111,442 111.2,440.5 111.3,438.4 111.5,436 111.7,434.9 111.9,436 112.2,439.6 112.3,440.8 112.4,441.7 112.5,442.2 112.7,442.6 112.9,442.8 113.1,442.7 113.4,442.3 113.5,442 113.6,441.5 113.7,441 113.7,440.5 113.8,438.5 113.9,437 114,434.5 114,430.9 114.1,427.6 114.2,417.7 114.3,407 114.4,402.9 114.4,402.7 114.4,401.9 114.6,407.1 114.6,407.8 114.7,417.7 114.8,423.9 114.8,427.7 114.9,433.5 114.9,435.1 115,438.6 115.1,439.9 115.2,440.6 115.3,441.7 115.4,442.2 115.6,442.9 116,443.4 116.7,443.8 118.4,444.1 129.9,444.2 141.8,444.1 143.3,443.9 144,443.5 144.4,443 144.6,442.5 144.7,442.1 144.8,441.5 144.9,440.7 145,439.2 145.1,436.4 145.2,430.7 145.3,420.9 145.3,420.3 145.4,406.8 145.5,391.7 145.6,384.4 145.7,391.7 145.8,407.6 145.9,420.9 146,430.7 146.1,436.4 146.2,439.2 146.3,440.8 146.4,441.5 146.5,442.1 146.7,442.7 147,443.3 147.6,443.8 148.8,444 154.8,444.2 168.2,444.1 170.5,443.9 171.3,443.5 171.7,443.1 172,442.7 172.2,442.1 172.3,441.6 172.4,440.8 172.5,440.3 172.6,438.9 172.6,437.4 172.7,435.2 172.7,434.7 172.8,431.5 172.8,428.8 173,421.7 173.1,410.3 173.1,409.7 173.2,405.5 173.3,404.9 173.3,404.9 173.4,409.6 173.4,411.5 173.6,423 173.7,428.6 173.7,430.5 173.7,432.1 173.8,434.9 173.9,437.5 174,438.5 174.1,440 174.1,440.2 174.2,441 174.4,441.3 174.5,441.2 174.7,440.8 174.7,440.5 174.8,439.7 174.9,438.9 174.9,437.7 175,435.8 175.1,434.5 175.2,430.2 175.4,426 175.5,423.9 175.5,423.9 175.6,425.6 175.7,426.4 175.7,427.7 175.8,431.5 175.9,434.3 176,436.2 176.1,437.8 176.1,439.5 176.2,440.4 176.3,441.4 176.5,442.3 176.6,442.8 176.9,443.3 177.6,443.7 179.2,444 187.2,444.2 195.1,444 196.7,443.8 197.4,443.3 197.6,442.9 197.8,442.6 197.9,442 198,440.9 198.1,439.2 198.2,438.7 198.3,434.8 198.4,429.2 198.5,423.3 198.6,420.8 198.7,420.4 198.8,423.2 199,431 199.1,434.6 199.1,436.7 199.2,438.4 199.2,439.2 199.3,440.6 199.4,441 199.5,441.6 199.6,442.2 199.9,442.5 200.1,442.4 200.4,441.9 200.6,441.5 200.7,440.9 200.8,440.4 200.8,439.7 200.9,438.7 200.9,437.4 201,435.3 201,433.8 201.1,432.9 201.1,430.1 201.1,429.2 201.2,426.6 201.2,425.2 201.3,419.8 201.3,414.6 201.4,405.3 201.5,403.9 201.6,399.9 201.6,400 201.6,400.9 201.7,405 201.7,406.5 201.8,417.4 202,425.6 202,426.9 202.1,432.3 202.1,433.4 202.2,435.5 202.2,435.7 202.3,435.9 202.4,435.8 202.5,433.8 202.5,433.2 202.6,428.7 202.6,427.6 202.7,420.5 202.9,411.1 202.9,409.8 203,405.5 203,405.4 203.1,408.7 203.1,410.2 203.3,419.8 203.4,427.6 203.4,428.8 203.5,434.3 203.5,435.1 203.6,437.7 203.7,438.7 203.8,440.4 203.9,441.6 204.1,442.3 204.4,443 205,443.5 205.6,443.8 207.6,444 218.6,444.2 244.3,444.1 246.3,443.9 246.9,443.7 247.1,443.5 247.3,443 247.5,442.2 247.7,440.9 247.8,439.9 248.1,436.8 248.2,436 248.3,435.7 248.4,436 248.5,436.8 248.8,439.9 248.9,440.8 249,441.6 249.1,442.1 249.2,442.6 249.4,443.1 249.7,443.4 250.2,443.4 250.5,443.2 250.7,442.8 250.8,442.5 250.9,442.1 251,441.4 251.1,440.6 251.2,439.5 251.3,438.2 251.6,433.8 251.7,432.8 251.8,432.4 251.9,432.8 252,433.9 252.3,438.3 252.4,439.6 252.5,440.7 252.6,441.5 252.8,442.6 253,443.2 253.2,443.5 253.8,443.8 255.5,444.1 264.9,444.1 267.8,444 268.6,443.6 268.8,443.4 269,443 269.2,442.2 269.4,440.9 269.6,438.9 269.7,436.8 269.9,435.8 269.9,435.7 270,436 270.1,436.7 270.5,440.1 270.5,440.7 270.7,441.9 270.9,442.5 271.1,442.4 271.4,441.8 271.8,439.7 271.9,439.4 272,439.5 272.1,440 272.5,442.1 272.7,442.8 272.9,443.1 273.1,443.2 273.4,442.9 273.6,442.4 273.8,441.3 274,439.7 274.2,438 274.3,437.4 274.4,437.2 274.5,437.4 274.7,438.1 274.9,440.3 275.1,441.7 275.3,442.7 275.5,443.2 275.9,443.7 276.9,444 281.4,444.2 290.9,444.1 292.6,443.8 293.2,443.5 293.4,443.3 293.6,442.7 293.7,442.1 293.8,441.6 294,440.6 294,439.9 294.4,436.2 294.5,435.6 294.6,435.1 294.7,435.3 294.8,436.2 295.1,439.2 295.3,440.7 295.5,441.7 295.6,442 295.7,442.4 295.8,442.5 296,442.4 296.2,442 296.3,441.2 296.5,440.2 296.6,438.9 296.9,435.8 297,434.9 297.1,434.7 297.3,435.2 297.3,435.9 297.7,439.7 297.8,440.8 298,442 298.1,442.6 298.3,443.2 298.6,443.6 299.5,443.9 302.3,444.1 311.8,444.1 312.8,443.9 313.3,443.5 314,442.2 314.3,441.9 314.6,442.2 315.3,443.4 315.8,443.9 316.3,444.1 316.3,446.2 315.8,446 315.3,445.6 314.6,444.4 314.3,444.1 314,444.4 313.3,445.7 312.8,446.1 311.8,446.3 302.3,446.3 299.5,446.1 298.6,445.7 298.3,445.4 298.1,444.8 298,444.2 297.8,443 297.7,441.9 297.3,438 297.3,437.4 297.1,436.9 297,437 296.9,438 296.6,441.1 296.5,442.4 296.3,443.3 296.2,444.1 296,444.5 295.8,444.6 295.7,444.5 295.6,444.2 295.5,443.9 295.3,442.9 295.1,441.3 294.8,438.3 294.7,437.4 294.6,437.3 294.5,437.8 294.4,438.4 294,442.1 294,442.8 293.8,443.8 293.7,444.2 293.6,444.8 293.4,445.4 293.2,445.7 292.6,446 290.9,446.2 281.4,446.3 276.9,446.2 275.9,445.8 275.5,445.4 275.3,444.8 275.1,443.8 274.9,442.5 274.7,440.2 274.5,439.6 274.4,439.4 274.3,439.6 274.2,440.2 274,441.9 273.8,443.5 273.6,444.5 273.4,445 273.1,445.3 272.9,445.2 272.7,444.9 272.5,444.2 272.1,442.1 272,441.7 271.9,441.6 271.8,441.8 271.4,444 271.1,444.6 270.9,444.6 270.7,444.1 270.5,442.8 270.5,442.3 270.1,438.9 270,438.1 269.9,437.9 269.9,437.9 269.7,438.9 269.6,441 269.4,443 269.2,444.4 269,445.2 268.8,445.6 268.6,445.8 267.8,446.1 264.9,446.3 255.5,446.2 253.8,446 253.2,445.6 253,445.4 252.8,444.8 252.6,443.7 252.5,442.9 252.4,441.7 252.3,440.4 252,436.1 251.9,435 251.8,434.6 251.7,435 251.6,436 251.3,440.4 251.2,441.7 251.1,442.8 251,443.6 250.9,444.2 250.8,444.7 250.7,445 250.5,445.3 250.2,445.6 249.7,445.6 249.4,445.3 249.2,444.7 249.1,444.3 249,443.7 248.9,442.9 248.8,442 248.5,438.9 248.4,438.1 248.3,437.9 248.2,438.2 248.1,438.9 247.8,442.1 247.7,443 247.5,444.4 247.3,445.2 247.1,445.6 246.9,445.8 246.3,446.1 244.3,446.3 218.6,446.3 207.6,446.2 205.6,445.9 205,445.6 204.4,445.1 204.1,444.5 203.9,443.7 203.8,442.5 203.7,440.9 203.6,439.9 203.5,437.3 203.5,436.5 203.4,431 203.4,429.8 203.3,422 203.1,412.3 203.1,410.8 203,407.6 203,407.7 202.9,411.9 202.9,413.2 202.7,422.7 202.6,429.7 202.6,430.8 202.5,435.4 202.5,435.9 202.4,437.9 202.3,438.1 202.2,437.9 202.2,437.6 202.1,435.6 202.1,434.4 202,429 202,427.8 201.8,419.6 201.7,408.6 201.7,407.2 201.6,403 201.6,402.2 201.6,402.1 201.5,406.1 201.4,407.4 201.3,416.7 201.3,421.9 201.2,427.4 201.2,428.8 201.1,431.3 201.1,432.2 201.1,435 201,435.9 201,437.5 200.9,439.5 200.9,440.8 200.8,441.9 200.8,442.5 200.7,443 200.6,443.7 200.4,444.1 200.1,444.5 199.9,444.6 199.6,444.4 199.5,443.8 199.4,443.1 199.3,442.7 199.2,441.4 199.2,440.6 199.1,438.9 199.1,436.8 199,433.1 198.8,425.4 198.7,422.6 198.6,423 198.5,425.4 198.4,431.4 198.3,437 198.2,440.8 198.1,441.4 198,443 197.9,444.2 197.8,444.8 197.6,445.1 197.4,445.5 196.7,445.9 195.1,446.2 187.2,446.3 179.2,446.2 177.6,445.9 176.9,445.5 176.6,445 176.5,444.5 176.3,443.5 176.2,442.5 176.1,441.6 176.1,440 176,438.3 175.9,436.4 175.8,433.6 175.7,429.9 175.7,428.5 175.6,427.8 175.5,426.1 175.5,426.1 175.4,428.2 175.2,432.4 175.1,436.6 175,437.9 174.9,439.9 174.9,441 174.8,441.9 174.7,442.7 174.7,443 174.5,443.4 174.4,443.5 174.2,443.2 174.1,442.4 174.1,442.1 174,440.6 173.9,439.6 173.8,437.1 173.7,434.3 173.7,432.6 173.7,430.7 173.6,425.1 173.4,413.7 173.4,411.8 173.3,407.1 173.3,407.1 173.2,407.6 173.1,411.8 173.1,412.5 173,423.9 172.8,431 172.8,433.6 172.7,436.8 172.7,437.4 172.6,439.5 172.6,441.1 172.5,442.4 172.4,443 172.3,443.8 172.2,444.2 172,444.8 171.7,445.3 171.3,445.7 170.5,446 168.2,446.2 154.8,446.3 148.8,446.2 147.6,445.9 147,445.4 146.7,444.9 146.5,444.2 146.4,443.7 146.3,442.9 146.2,441.4 146.1,438.5 146,432.9 145.9,423.1 145.8,409.7 145.7,393.8 145.6,386.6 145.5,393.8 145.4,409 145.3,422.5 145.3,423.1 145.2,432.9 145.1,438.5 145,441.4 144.9,442.8 144.8,443.6 144.7,444.2 144.6,444.6 144.4,445.1 144,445.6 143.3,446 141.8,446.2 129.9,446.3 118.4,446.2 116.7,446 116,445.6 115.6,445.1 115.4,444.4 115.3,443.9 115.2,442.8 115.1,442.1 115,440.7 114.9,437.2 114.9,435.6 114.8,429.9 114.8,426 114.7,419.9 114.6,410 114.6,409.2 114.4,404.1 114.4,404.9 114.4,405 114.3,409.2 114.2,419.8 114.1,429.8 114,433.1 114,436.7 113.9,439.1 113.8,440.6 113.7,442.6 113.7,443.1 113.6,443.6 113.5,444.2 113.4,444.4 113.1,444.9 112.9,445 112.7,444.7 112.5,444.4 112.4,443.9 112.3,442.9 112.2,441.7 111.9,438.1 111.7,437.1 111.5,438.2 111.3,440.5 111.2,442.7 111,444.2 110.9,444.6 110.8,445 110.6,445.5 110.3,445.8 109.6,446.1 107.3,446.2 106.2,446 105.9,445.7 105.7,445 105.5,444.1 105.4,443.5 105.2,441.3 105,440.6 104.9,440.6 104.8,441.3 104.4,444.1 104.3,445 104.1,445.6 103.9,445.8 103.5,446.1 102.3,446.3 89,446.3 83,446.1 81,445.7 80,445.2 79.4,444.6 79,443.9 78.7,443.1 78.5,442.2 78.3,441.1 78.2,439.9 78.2,439.3 78.1,438.2 78,437.2 77.9,435.1 77.9,433.4 77.8,429.3 77.8,425.8 77.7,418.1 77.6,411.7 77.6,398.7 77.5,391.9 77.5,388.8 77.4,370.8 77.4,358.8 77.3,340.8 77.2,332.2 77.2,326.1 77.1,328.1 77,339.5 77,342.4 77,349.8 76.9,367.9 76.9,378.8 76.8,393.9 76.7,401.5 76.6,410.4 76.6,413.9 76.5,416.3 76.5,416.4 76.5,416 76.4,412.1 76.3,407.6 76.3,396.7 76.2,387.7 76.1,369.8 76.1,357 76,342.4 76,335.9 76,323.8 75.9,310.5 75.8,308.1 75.7,315 75.7,325 75.6,345.7 75.6,359.5 75.5,369 75.5,380.4 75.4,391.8 75.4,406.9 75.3,414.2 75.2,423.1 75.2,427.1 75.1,431.8 75,433.8 75,434.3 75,436.2 74.9,437.3 74.8,438.6 74.8,439.2 74.7,440.1 74.6,441.2 74.4,442.2 74.3,442.8 74,443.5 73.7,444.1 73.2,444.8 72.5,445.1 71.5,445.3 69.5,445.2 65.1,444.5 54.1,442.1 38.1,438.2 33.2,436.7 31.7,436 31.2,435.6 30.8,435 30.5,434.2 30.3,433.4 30.2,432.9 30.1,432.1 30,431.1 29.9,429.5 29.8,426.8 29.7,421.4 29.7,417.5 29.6,410.9 29.5,392.6 29.4,366.3 29.3,338.1 29.2,324.6 29.2,327.5 29.1,338.1 29,366.2 28.9,392.5 28.8,410.7 28.7,421.1 28.7,424 28.6,426.5 28.5,429.2 28.4,430.7 28.3,431.6 28.2,432.6 28,433.2 27.7,434 27.3,434.4 26.7,434.7 25.7,434.7 22.7,434"/>
<polyline fill="none" stroke="#ff0000" stroke-width="1.6" stroke-linejoin="round" points="22.7,433 25.7,433.6 26.7,433.6 27.3,433.4 27.7,432.9 28,432.2 28.2,431.5 28.3,430.6 28.4,429.6 28.5,428.1 28.6,425.4 28.7,422.9 28.7,420.1 28.8,409.6 28.9,391.4 29,365.1 29.1,337 29.2,326.5 29.2,323.5 29.3,337 29.4,365.2 29.5,391.6 29.6,409.8 29.7,416.4 29.7,420.3 29.8,425.7 29.9,428.5 30,430 30.1,431 30.2,431.8 30.3,432.4 30.5,433.2 30.8,433.9 31.2,434.5 31.7,434.9 33.2,435.6 38.1,437.1 54.1,441.1 65.1,443.5 69.5,444.2 71.5,444.2 72.5,444.1 73.2,443.7 73.7,443.1 74,442.5 74.3,441.7 74.4,441.2 74.6,440.1 74.7,439 74.8,438.2 74.8,437.5 74.9,436.2 75,435.1 75,433.2 75,432.7 75.1,430.7 75.2,426.1 75.2,422 75.3,413.2 75.4,405.8 75.4,390.7 75.5,379.3 75.5,367.9 75.6,358.5 75.6,344.6 75.7,323.9 75.7,314 75.8,307 75.9,309.4 76,322.7 76,334.8 76,341.3 76.1,356 76.1,368.7 76.2,386.6 76.3,395.6 76.3,406.5 76.4,411 76.5,414.9 76.5,415.3 76.5,415.3 76.6,412.8 76.6,409.3 76.7,400.4 76.8,392.8 76.9,377.7 76.9,366.8 77,348.7 77,341.3 77,338.4 77.1,327 77.2,325 77.2,331.1 77.3,339.8 77.4,357.7 77.4,369.7 77.5,387.7 77.5,390.8 77.6,397.6 77.6,410.7 77.7,417.1 77.8,424.8 77.8,428.3 77.9,432.3 77.9,434.1 78,436.1 78.1,437.1 78.2,438.3 78.2,438.8 78.3,440 78.5,441.2 78.7,442 79,442.9 79.4,443.5 80,444.1 81,444.6 83,445 89,445.2 102.3,445.2 103.5,445 103.9,444.7 104.1,444.5 104.3,444 104.4,443 104.8,440.2 104.9,439.5 105,439.5 105.2,440.2 105.4,442.4 105.5,443 105.7,443.9 105.9,444.6 106.2,444.9 107.3,445.1 109.6,445 110.3,444.8 110.6,444.4 110.8,443.9 110.9,443.5 111,443.1 111.2,441.6 111.3,439.4 111.5,437.1 111.7,436 111.9,437.1 112.2,440.6 112.3,441.8 112.4,442.8 112.5,443.3 112.7,443.7 112.9,443.9 113.1,443.8 113.4,443.4 113.5,443.1 113.6,442.6 113.7,442.1 113.7,441.6 113.8,439.6 113.9,438.1 114,435.6 114,432 114.1,428.7 114.2,418.8 114.3,408.1 114.4,404 114.4,403.8 114.4,403 114.6,408.1 114.6,408.9 114.7,418.8 114.8,424.9 114.8,428.8 114.9,434.5 114.9,436.1 115,439.7 115.1,441 115.2,441.7 115.3,442.8 115.4,443.3 115.6,444 116,444.5 116.7,444.9 118.4,445.1 129.9,445.3 141.8,445.2 143.3,444.9 144,444.6 144.4,444 144.6,443.5 144.7,443.1 144.8,442.6 144.9,441.8 145,440.3 145.1,437.4 145.2,431.8 145.3,422 145.3,421.4 145.4,407.9 145.5,392.8 145.6,385.5 145.7,392.8 145.8,408.7 145.9,422 146,431.8 146.1,437.4 146.2,440.3 146.3,441.8 146.4,442.6 146.5,443.1 146.7,443.8 147,444.4 147.6,444.8 148.8,445.1 154.8,445.3 168.2,445.2 170.5,444.9 171.3,444.6 171.7,444.2 172,443.8 172.2,443.1 172.3,442.7 172.4,441.9 172.5,441.4 172.6,440 172.6,438.4 172.7,436.3 172.7,435.8 172.8,432.5 172.8,429.9 173,422.8 173.1,411.4 173.1,410.8 173.2,406.6 173.3,406 173.3,406 173.4,410.7 173.4,412.6 173.6,424 173.7,429.7 173.7,431.5 173.7,433.2 173.8,436 173.9,438.5 174,439.6 174.1,441 174.1,441.3 174.2,442.1 174.4,442.4 174.5,442.3 174.7,441.9 174.7,441.6 174.8,440.8 174.9,439.9 174.9,438.8 175,436.8 175.1,435.5 175.2,431.3 175.4,427.1 175.5,425 175.5,425 175.6,426.7 175.7,427.5 175.7,428.8 175.8,432.5 175.9,435.3 176,437.3 176.1,438.9 176.1,440.5 176.2,441.5 176.3,442.4 176.5,443.4 176.6,443.9 176.9,444.4 177.6,444.8 179.2,445.1 187.2,445.2 195.1,445.1 196.7,444.8 197.4,444.4 197.6,444 197.8,443.7 197.9,443.1 198,442 198.1,440.3 198.2,439.7 198.3,435.9 198.4,430.3 198.5,424.4 198.6,421.9 198.7,421.5 198.8,424.3 199,432 199.1,435.7 199.1,437.8 199.2,439.5 199.2,440.3 199.3,441.6 199.4,442 199.5,442.7 199.6,443.3 199.9,443.5 200.1,443.4 200.4,443 200.6,442.6 200.7,442 200.8,441.4 200.8,440.8 200.9,439.7 200.9,438.5 201,436.4 201,434.8 201.1,434 201.1,431.1 201.1,430.3 201.2,427.7 201.2,426.3 201.3,420.8 201.3,415.6 201.4,406.4 201.5,405 201.6,401 201.6,401.1 201.6,402 201.7,406.1 201.7,407.6 201.8,418.5 202,426.7 202,428 202.1,433.3 202.1,434.5 202.2,436.6 202.2,436.8 202.3,437 202.4,436.9 202.5,434.9 202.5,434.3 202.6,429.7 202.6,428.7 202.7,421.6 202.9,412.2 202.9,410.9 203,406.6 203,406.5 203.1,409.7 203.1,411.2 203.3,420.9 203.4,428.7 203.4,429.9 203.5,435.4 203.5,436.2 203.6,438.8 203.7,439.8 203.8,441.4 203.9,442.6 204.1,443.4 204.4,444.1 205,444.6 205.6,444.8 207.6,445.1 218.6,445.3 244.3,445.2 246.3,445 246.9,444.7 247.1,444.5 247.3,444.1 247.5,443.3 247.7,441.9 247.8,441 248.1,437.8 248.2,437.1 248.3,436.8 248.4,437.1 248.5,437.8 248.8,440.9 248.9,441.9 249,442.7 249.1,443.2 249.2,443.7 249.4,444.2 249.7,444.5 250.2,444.5 250.5,444.3 250.7,443.9 250.8,443.6 250.9,443.1 251,442.5 251.1,441.7 251.2,440.6 251.3,439.3 251.6,434.9 251.7,433.9 251.8,433.5 251.9,433.9 252,435 252.3,439.4 252.4,440.7 252.5,441.8 252.6,442.6 252.8,443.7 253,444.3 253.2,444.6 253.8,444.9 255.5,445.2 264.9,445.2 267.8,445 268.6,444.7 268.8,444.5 269,444.1 269.2,443.3 269.4,441.9 269.6,440 269.7,437.8 269.9,436.9 269.9,436.8 270,437.1 270.1,437.8 270.5,441.2 270.5,441.7 270.7,443 270.9,443.5 271.1,443.5 271.4,442.9 271.8,440.8 271.9,440.5 272,440.6 272.1,441 272.5,443.2 272.7,443.8 272.9,444.2 273.1,444.2 273.4,443.9 273.6,443.5 273.8,442.4 274,440.8 274.2,439.1 274.3,438.5 274.4,438.3 274.5,438.5 274.7,439.1 274.9,441.4 275.1,442.8 275.3,443.7 275.5,444.3 275.9,444.8 276.9,445.1 281.4,445.2 290.9,445.2 292.6,444.9 293.2,444.6 293.4,444.3 293.6,443.8 293.7,443.2 293.8,442.7 294,441.7 294,441 294.4,437.3 294.5,436.7 294.6,436.2 294.7,436.3 294.8,437.2 295.1,440.2 295.3,441.8 295.5,442.8 295.6,443.1 295.7,443.5 295.8,443.6 296,443.4 296.2,443.1 296.3,442.3 296.5,441.3 296.6,440 296.9,436.9 297,436 297.1,435.8 297.3,436.3 297.3,437 297.7,440.8 297.8,441.9 298,443.1 298.1,443.7 298.3,444.3 298.6,444.7 299.5,445 302.3,445.2 311.8,445.2 312.8,445 313.3,444.6 314,443.3 314.3,443 314.6,443.3 315.3,444.5 315.8,445 316.3,445.1"/>
<polyline fill="none" stroke="#2468d8" stroke-width="1" stroke-linejoin="round" points="22.2,486.3 22.6,486.7 23,487.2 23.4,487.7 23.8,488.5 24.2,487.4 24.6,488.4 25,486.2 25.4,484.9 25.8,487.3 26.2,488 26.6,487.3 27,486.7 27.4,488 27.8,489.3 28.2,487.6 28.6,488.8 29,494.7 29.4,498.4 29.8,490.5 30.2,488.4 30.6,488.7 31,488.6 31.4,486.8 31.8,488.5 32.2,488.4 32.6,488 33,488.5 33.4,487.1 33.8,487.5 34.2,487.1 34.6,488.3 35,487 35.4,488 35.8,486.6 36.2,487.5 36.6,487.3 37,487.5 37.4,487.7 37.8,487.4 38.1,487.4 38.5,485.7 38.9,488.6 39.3,487 39.7,487.4 40.1,486.9 40.5,488.5 40.9,486.8 41.3,488.1 41.7,488.7 42.1,489.1 42.5,488.7 42.9,488.2 43.3,486.5 43.7,488.8 44.1,488.6 44.5,487.8 44.9,486 45.3,484.9 45.7,486.3 46.1,488.5 46.5,488.7 46.9,486.7 47.3,488.4 47.7,487.8 48.1,488.4 48.5,487.9 48.9,488.6 49.3,488.5 49.7,488.4 50.1,486.4 50.5,488.3 50.9,487.7 51.3,486.6 51.7,488.2 52.1,486.4 52.5,488.4 52.9,489.1 53.3,487.2 53.7,488.4 54.1,488 54.5,488.2 54.9,486.4 55.3,488.2 55.7,487.3 56.1,483.7 56.5,473.8 56.9,477.1 57.3,485.2 57.7,488.1 58.1,488.8 58.5,487.8 58.9,488.5 59.3,487.3 59.7,484 60.1,478.2 60.5,482.9 60.9,487.8 61.3,487.5 61.7,488.3 62.1,488 62.5,486 62.9,482.4 63.3,481.9 63.7,486 64.1,486 64.5,487.8 64.9,487.1 65.3,489.3 65.7,487.6 66.1,487.6 66.5,487.1 66.9,487.9 67.3,487.1 67.7,486.8 68.1,487.6 68.5,486.9 68.9,488.8 69.2,486.6 69.6,487.6 70,487 70.4,486.4 70.8,489.1 71.2,485.8 71.6,488.9 72,486.4 72.4,487.7 72.8,489.6 73.2,485.8 73.6,486.4 74,488.8 74.4,487.8 74.8,487.1 75.2,486.7 75.6,480.5 76,481.6 76.4,488.1 76.8,487.3 77.2,487.8 77.6,488.6 78,487.9 78.4,482.5 78.8,484.2 79.2,488.1 79.6,490.9 80,488.4 80.4,487.1 80.8,486.1 81.2,485.9 81.6,487 82,487.6 82.4,487 82.8,480.1 83.2,479.3 83.6,485.6 84,488.1 84.4,487.5 84.8,487.6 85.2,489.3 85.6,487.3 86,487.2 86.4,486.2 86.8,488 87.2,487.4 87.6,489.3 88,487.3 88.4,488.3 88.8,488.5 89.2,489.1 89.6,486.5 90,489 90.4,487.6 90.8,487.5 91.2,487.4 91.6,487.3 92,487.3 92.4,485.6 92.8,488.1 93.2,487.7 93.6,486.8 94,487.6 94.4,489.7 94.8,488 95.2,487.3 95.6,489.1 96,486.9 96.4,487.5 96.8,487.1 97.2,487.4 97.6,488.3 98,488.1 98.4,487 98.8,487.5 99.2,487.7 99.6,487.3 100,487.6 100.3,487 100.7,487 101.1,487.7 101.5,486.7 101.9,488 102.3,487.5 102.7,486.8 103.1,487.1 103.5,487.2 103.9,487.5 104.3,487.7 104.7,487.4 105.1,486.9 105.5,488.9 105.9,488.4 106.3,487.7 106.7,488.5 107.1,487.9 107.5,487.4 107.9,487.7 108.3,490 108.7,488.5 109.1,488.5 109.5,487.3 109.9,488.2 110.3,489.6 110.7,488 111.1,488.6 111.5,488.7 111.9,488.2 112.3,489 112.7,487.9 113.1,488.6 113.5,488.9 113.9,492.9 114.3,489.2 114.7,485.6 115.1,486 115.5,485.9 115.9,487.3 116.3,486.9 116.7,487.6 117.1,487.3 117.5,488.1 117.9,487.5 118.3,487.1 118.7,487.4 119.1,487.5 119.5,487.2 119.9,488.4 120.3,488.2 120.7,487.8 121.1,486.6 121.5,488.1 121.9,486.5 122.3,487.8 122.7,487.7 123.1,487.1 123.5,486.9 123.9,487 124.3,489.4 124.7,487.4 125.1,487.4 125.5,488.5 125.9,488 126.3,488.5 126.7,486.6 127.1,486.7 127.5,490.5 127.9,487.6 128.3,487.4 128.7,487.8 129.1,488.5 129.5,486.6 129.9,487.9 130.3,487.6 130.7,488.2 131.1,487.8 131.4,487.2 131.8,486.9 132.2,485.5 132.6,488.5 133,486.3 133.4,487.3 133.8,489.1 134.2,487.3 134.6,488.2 135,487.4 135.4,488.2 135.8,487.6 136.2,487.2 136.6,488.8 137,487.4 137.4,486.5 137.8,487.3 138.2,488.1 138.6,486.7 139,488.3 139.4,488.3 139.8,489.5 140.2,487.1 140.6,488.2 141,486.2 141.4,487.3 141.8,487.7 142.2,488 142.6,487.6 143,487.5 143.4,487.1 143.8,487.2 144.2,487.9 144.6,488.1 145,488.9 145.4,494 145.8,494 146.2,486.8 146.6,487.2 147,487.5 147.4,487.1 147.8,488.5 148.2,488.3 148.6,487.5 149,487.7 149.4,488.7 149.8,487.3 150.2,487.4 150.6,488.4 151,488 151.4,488.8 151.8,487.9 152.2,488.3 152.6,487.2 153,486.8 153.4,487.6 153.8,485.3 154.2,488 154.6,488.5 155,487.7 155.4,487.4 155.8,488.6 156.2,487.6 156.6,488.5 157,489.5 157.4,488.2 157.8,488.4 158.2,488 158.6,487.8 159,487.9 159.4,487.7 159.8,488.6 160.2,486.2 160.6,487.4 161,488.2 161.4,486.9 161.8,487.5 162.2,487 162.5,488 162.9,488.4 163.3,488.9 163.7,488.1 164.1,487 164.5,487.8 164.9,488.1 165.3,488.8 165.7,485.8 166.1,487.9 166.5,486.1 166.9,488.2 167.3,488 167.7,488.1 168.1,488.4 168.5,488 168.9,487.1 169.3,487.9 169.7,488.7 170.1,487.5 170.5,487.6 170.9,486.6 171.3,488.6 171.7,487.1 172.1,486.6 172.5,485.7 172.9,483.6 173.3,483.4 173.7,486 174.1,487.2 174.5,488.6 174.9,488.9 175.3,486.9 175.7,488 176.1,488.9 176.5,489.6 176.9,486.4 177.3,486.4 177.7,488 178.1,487.3 178.5,486.8 178.9,488 179.3,486.9 179.7,485.7 180.1,487.6 180.5,487.7 180.9,488.2 181.3,488.4 181.7,487.8 182.1,487.4 182.5,487 182.9,486.2 183.3,487.2 183.7,488.5 184.1,488.2 184.5,489.4 184.9,487.5 185.3,486.1 185.7,488.3 186.1,488.5 186.5,486.6 186.9,486.2 187.3,487.8 187.7,488.2 188.1,486.7 188.5,487.3 188.9,487 189.3,486.6 189.7,486.5 190.1,487.7 190.5,487.3 190.9,487 191.3,485.4 191.7,489.1 192.1,486.8 192.5,487.5 192.9,486.6 193.3,487.9 193.6,486.3 194,487.7 194.4,487.5 194.8,488.4 195.2,486.7 195.6,487.1 196,487.4 196.4,489.4 196.8,486.3 197.2,487.9 197.6,487 198,487.9 198.4,488.2 198.8,487.8 199.2,488 199.6,488.3 200,488.5 200.4,490 200.8,489.1 201.2,488.6 201.6,485.6 202,484.5 202.4,485.7 202.8,486.6 203.2,487.5 203.6,488.4 204,485.5 204.4,488 204.8,487.6 205.2,487.5 205.6,486.5 206,488.1 206.4,488.6 206.8,488.5 207.2,487.5 207.6,488.2 208,488.4 208.4,489.2 208.8,488.7 209.2,487.7 209.6,487.7 210,487.7 210.4,487.8 210.8,487.2 211.2,488.3 211.6,487 212,486.9 212.4,487.9 212.8,487.1 213.2,487.4 213.6,485.8 214,488.3 214.4,487.6 214.8,487.5 215.2,488 215.6,487.8 216,487 216.4,489.3 216.8,487.2 217.2,488.4 217.6,489.2 218,487.1 218.4,487.7 218.8,486.9 219.2,488.5 219.6,487.3 220,486.7 220.4,488.7 220.8,488.4 221.2,486.8 221.6,488.6 222,487.8 222.4,489.9 222.8,489.1 223.2,487.1 223.6,487.4 224,486.8 224.4,487.7 224.7,487.6 225.1,488.2 225.5,487.7 225.9,486.3 226.3,486.9 226.7,488.8 227.1,488.6 227.5,487.5 227.9,487.5 228.3,487.5 228.7,487.6 229.1,486.2 229.5,488.4 229.9,487 230.3,487.7 230.7,485.4 231.1,487.8 231.5,488.7 231.9,485.7 232.3,488.9 232.7,488 233.1,487 233.5,486.2 233.9,488.6 234.3,487.8 234.7,488.1 235.1,487.4 235.5,486.9 235.9,488.3 236.3,486.8 236.7,488.4 237.1,486.2 237.5,486.8 237.9,486.4 238.3,488.7 238.7,486.1 239.1,486.6 239.5,488.2 239.9,487.8 240.3,489.5 240.7,489.2 241.1,488.1 241.5,488.2 241.9,486 242.3,486.8 242.7,487.3 243.1,487.4 243.5,486.4 243.9,486.8 244.3,486.9 244.7,488.5 245.1,488 245.5,487.3 245.9,487.4 246.3,487.9 246.7,487 247.1,487.4 247.5,486.1 247.9,488.2 248.3,488.4 248.7,487.9 249.1,488 249.5,487.9 249.9,489.4 250.3,487.7 250.7,486.2 251.1,485.6 251.5,486.1 251.9,486.1 252.3,486.7 252.7,487.7 253.1,487.6 253.5,486.3 253.9,487 254.3,486 254.7,487.3 255.1,486.4 255.5,487.7 255.8,487.5 256.2,485.9 256.6,488.2 257,488.3 257.4,486.4 257.8,487.7 258.2,488.2 258.6,487.3 259,488.3 259.4,487.8 259.8,488.5 260.2,487.8 260.6,487.5 261,488 261.4,488.3 261.8,487.8 262.2,487.2 262.6,486.9 263,487.3 263.4,487.1 263.8,487.8 264.2,487.7 264.6,487.5 265,487.6 265.4,487.7 265.8,488.9 266.2,488.6 266.6,487.1 267,488 267.4,487.3 267.8,487.5 268.2,487.4 268.6,487 269,486.4 269.4,485.5 269.8,487.8 270.2,488.6 270.6,486.8 271,488 271.4,487.3 271.8,487.8 272.2,486.9 272.6,487.4 273,487.5 273.4,485.5 273.8,487.8 274.2,487.5 274.6,485.4 275,488.1 275.4,487.6 275.8,487.8 276.2,487.9 276.6,487.2 277,486.6 277.4,487.2 277.8,487.2 278.2,489.5 278.6,489.2 279,487.2 279.4,487.2 279.8,487.9 280.2,488.1 280.6,487 281,486.7 281.4,489.3 281.8,488.5 282.2,486.2 282.6,486 283,486.9 283.4,487.8 283.8,488.1 284.2,487.3 284.6,486.2 285,487.8 285.4,488.1 285.8,487.6 286.2,487.1 286.6,488.1 287,487.5 287.3,486.6 287.7,487.7 288.1,486.4 288.5,488.4 288.9,488 289.3,486.7 289.7,487.8 290.1,488.7 290.5,485.7 290.9,487.5 291.3,489 291.7,486.2 292.1,487.4 292.5,486.3 292.9,487.5 293.3,485.5 293.7,486.2 294.1,487.1 294.5,487.7 294.9,487.9 295.3,487.9 295.7,488.6 296.1,488.2 296.5,488.2 296.9,486.7 297.3,487.4 297.7,490.4 298.1,489.6 298.5,488.3 298.9,488.2 299.3,488.4 299.7,487.2 300.1,489.3 300.5,487.2 300.9,487.5 301.3,489.5 301.7,485.7 302.1,487.9 302.5,486.1 302.9,487 303.3,487.5 303.7,487.3 304.1,487.7 304.5,486.9 304.9,487.5 305.3,486.5 305.7,487.2 306.1,486.3 306.5,488.2 306.9,486.4 307.3,488.2 307.7,487.2 308.1,487.3 308.5,488.6 308.9,487.7 309.3,485.9 309.7,488 310.1,485 310.5,487.8 310.9,487.2 311.3,486.3 311.7,487.6 312.1,487.3 312.5,489.4 312.9,487.2 313.3,489.3 313.7,488.8 314.1,487 314.5,486.8 314.9,488.7 315.3,487.5 315.7,487.7 316.1,487.3"/>
</g>
<path d="M29.2 463V468M75.8 463V468M77.2 463V468M105 463V468M111.7 463V468M114.4 463V468M145.6 463V468M168.8 463V468M173.3 463V468M175.5 463V468M198.7 463V468M201.4 463V468M202.7 463V468M220.1 463V468M248.3 463V468M251.8 463V468M265.2 463V468M266.5 463V468M267.5 463V468M268.7 463V468M269.9 463V468M272.9 463V468M275.1 463V468M294.6 463V468M297.1 463V468M313.6 463V468M315.1 463V468" stroke="#2f8f2f" stroke-width="1.0" fill="none"/>
<path d="M42.2 502V499.6M67.1 502V497.8M92 502V499.6M116.9 502V497.8M141.9 502V499.6M166.8 502V497.8M191.7 502V499.6M216.6 502V497.8M241.5 502V499.6M266.5 502V497.8M291.4 502V499.6" stroke="#000" stroke-width="1.3" fill="none"/>
<rect x="22.2" y="274.7" width="294.1" height="227.3" fill="none" stroke="#000" stroke-width="1.6"/>
<g class="tk"><text transform="translate(67.1 518.5) scale(1.06 1)">30</text><text transform="translate(116.9 518.5) scale(1.06 1)">40</text><text transform="translate(166.8 518.5) scale(1.06 1)">50</text><text transform="translate(216.6 518.5) scale(1.06 1)">60</text><text transform="translate(266.5 518.5) scale(1.06 1)">70</text><text transform="translate(316.3 518.5) scale(1.06 1)">80</text></g>
<text class="ax" transform="translate(169.6 537) scale(1.065 1)" text-anchor="middle">Angle (2θ)</text>
<text class="ax" transform="translate(11.2 388.4) rotate(-90)" text-anchor="middle">Intensity (a.u.)</text>
<circle cx="206.8" cy="284.6" r="1.6" fill="#fff" stroke="#555" stroke-width="0.5"/>
<path d="M191.2 303.7H222" stroke="#ff0000" stroke-width="1.75"/>
<path d="M191.2 322.5H222" stroke="#4f88e0" stroke-width="1"/>
<path d="M206.8 339.2V344.2" stroke="#2f8f2f" stroke-width="1"/>
<g class="lg">
<text x="225.8" y="289.9">I<tspan class="sb" dy="3.1">obs</tspan></text>
<text x="225.8" y="308.2">I<tspan class="sb" dy="3.1">calc</tspan></text>
<text x="225.8" y="327.5">I<tspan class="sb" dy="3.1">obs</tspan><tspan dy="-3.1">- I</tspan><tspan class="sb" dy="3.1">calc</tspan></text>
<text x="225.8" y="346.1">Bragg positions</text>
</g>
<text class="lb" x="241" y="370.8">BFO | <tspan font-style="italic">R3c</tspan></text>
</g>
<g id="p4">
<clipPath id="clipp4"><rect x="370.3" y="277.7" width="293.90000000000003" height="227.40000000000003"/></clipPath>
<g clip-path="url(#clipp4)">
<polyline fill="none" stroke="none" marker-start="url(#mk)" marker-mid="url(#mk)" marker-end="url(#mk)" points="370.3,443.4 370.4,444.5 370.5,443.7 370.7,442.9 370.8,444.5 370.9,447.1 371,446.9 371.2,444.7 371.3,444.9 371.4,445.4 371.5,446.4 371.7,445 371.8,444 371.9,444.1 372,446 372.2,447.9 372.3,443.7 372.4,441.8 372.5,445.5 372.7,444.3 372.8,444.5 372.9,445.9 373,444.4 373.2,442.6 373.3,441.7 373.4,444.2 373.5,442.7 373.7,444.5 373.8,442.5 373.9,443.6 374,442.2 374.2,443.6 374.3,443.4 374.4,444.7 374.5,445.7 374.7,443.7 374.8,442.8 374.9,446.4 375,444.3 375.2,444.6 375.3,444.6 375.4,445.6 375.5,445 375.7,444.6 375.8,444.7 375.9,442.5 376,442.8 376.1,443.4 376.3,443.7 376.4,443.6 376.5,443.9 376.6,443.5 376.8,442.9 376.9,441.3 377,444.5 377.1,444.1 377.3,442.2 377.4,444 377.5,443.8 377.6,443.4 377.8,440.8 377.9,441.6 378,442.4 378.1,445.2 378.3,442 378.4,442.6 378.5,441.6 378.6,442.4 378.8,443.5 378.9,440.3 379,439.3 379.1,443.8 379.3,443 379.4,442.1 379.5,444.1 379.6,444.1 379.8,440.1 379.9,442.6 380,444.2 380.1,441.9 380.3,442.3 380.4,443.9 380.5,442.3 380.6,441.1 380.8,441.7 380.9,440.9 381,443.3 381.1,440.3 381.3,443.8 381.4,440.3 381.5,442.5 381.6,440.5 381.7,442 381.9,443.7 382,443.8 382.1,444 382.2,442.2 382.4,442.4 382.5,442.6 382.6,443 382.7,441.7 382.9,443.6 383,442.6 383.1,443.6 383.2,442.7 383.4,443 383.5,441.1 383.6,441.5 383.7,440.3 383.9,441.6 384,441.7 384.1,443 384.2,440.3 384.4,446.1 384.5,441.7 384.6,443.5 384.7,443.2 384.9,438.5 385,441.4 385.1,443.7 385.2,438.6 385.4,442.7 385.5,440.5 385.6,441.1 385.7,441.9 385.9,439.2 386,441.9 386.1,440.7 386.2,440.6 386.4,442.5 386.5,446.1 386.6,441.9 386.7,442.2 386.9,441.4 387,440.5 387.1,441.7 387.2,443.4 387.3,441.6 387.5,442.5 387.6,441 387.7,444.6 387.8,439.1 388,442 388.1,441.9 388.2,441.6 388.3,439.7 388.5,439.7 388.6,440.8 388.7,441.3 388.8,439.5 389,439.7 389.1,441.8 389.2,442.4 389.3,440.3 389.5,440.1 389.6,440 389.7,444.2 389.8,441.6 390,440.8 390.1,442.2 390.2,443.9 390.3,442.4 390.5,439 390.6,440.7 390.7,440.3 390.8,440.3 391,439.2 391.1,440.2 391.2,439.3 391.3,441.1 391.5,440.7 391.6,438.8 391.7,438.4 391.8,440 392,441.4 392.1,441.2 392.2,440.5 392.3,436.2 392.5,439.9 392.6,439.5 392.7,440 392.8,438.9 392.9,439.9 393.1,439.5 393.2,443.9 393.3,441.3 393.4,440.1 393.6,440.3 393.7,440.2 393.8,440.5 393.9,439.7 394.1,440.2 394.2,441.6 394.3,441.3 394.4,440.6 394.6,441.9 394.7,440.5 394.8,438.9 394.9,437.8 395.1,439.2 395.2,440 395.3,440.6 395.4,441.5 395.6,439.3 395.7,439 395.8,441 395.9,441.5 396.1,439.3 396.2,440.4 396.3,441.7 396.4,440.3 396.6,439.8 396.7,437.2 396.8,441.6 396.9,440.7 397.1,440 397.2,439.2 397.3,438.2 397.4,439.6 397.6,439.6 397.7,441.2 397.8,438.1 397.9,441.6 398.1,439.7 398.2,441.2 398.3,438.4 398.4,440.1 398.6,441.2 398.7,439.7 398.8,437.7 398.9,439.1 399,440.2 399.2,437.7 399.3,437.6 399.4,439.8 399.5,438.2 399.7,440.3 399.8,437.9 399.9,437 400,438.4 400.2,441.3 400.3,438.2 400.4,439.4 400.5,439.7 400.7,438.1 400.8,440.7 400.9,439.5 401,439.9 401.2,437.1 401.3,437 401.4,435.6 401.5,439 401.7,438.9 401.8,440.1 401.9,441.1 402,438.8 402.2,438.8 402.3,439.7 402.4,441.1 402.5,438 402.7,439.9 402.8,438.7 402.9,438.6 403,440.1 403.2,438 403.3,437.6 403.4,439.8 403.5,438.9 403.7,438.6 403.8,438.8 403.9,439.6 404,438.4 404.2,439.9 404.3,439.4 404.4,440.8 404.5,440.5 404.6,439.9 404.8,438.5 404.9,438.9 405,438 405.1,442.5 405.3,438.5 405.4,439.5 405.5,440.5 405.6,436.9 405.8,437.6 405.9,438.2 406,437.4 406.1,437 406.3,437.9 406.4,440.3 406.5,439.5 406.6,438.6 406.8,438.6 406.9,436.4 407,439.4 407.1,439.1 407.3,437.1 407.4,438.8 407.5,438.2 407.6,437.8 407.8,437.1 407.9,437.5 408,437.2 408.1,439 408.3,438.8 408.4,438.8 408.5,438.1 408.6,437.8 408.8,441 408.9,435.9 409,439.8 409.1,438.7 409.3,438.3 409.4,437.6 409.5,437.9 409.6,436.6 409.8,436.4 409.9,438 410,436 410.1,439.2 410.2,439.5 410.4,433.6 410.5,436 410.6,438.4 410.7,438.3 410.9,438.1 411,438.5 411.1,438.9 411.2,439 411.4,440.2 411.5,437.9 411.6,439 411.7,435.7 411.9,437.6 412,436.1 412.1,439.5 412.2,440.7 412.4,438.3 412.5,435.9 412.6,437.4 412.7,437.5 412.9,437.7 413,438.7 413.1,438.5 413.2,433.7 413.4,438.8 413.5,436.3 413.6,436.1 413.7,438.5 413.9,436.1 414,434.5 414.1,434.2 414.2,435.7 414.4,436.2 414.5,436.2 414.6,432.7 414.7,430.2 414.9,429.6 415,422.1 415.1,418.2 415.2,409 415.4,401.5 415.5,395.6 415.6,395.8 415.7,399.3 415.8,406.4 416,414.8 416.1,420.7 416.2,427 416.3,430.3 416.5,432.1 416.6,433.6 416.7,434.4 416.8,437.5 417,435.6 417.1,435.1 417.2,435.7 417.3,437.2 417.5,436.2 417.6,436.4 417.7,436.3 417.8,436.9 418,437.3 418.1,437.4 418.2,434.8 418.3,435.5 418.5,433.6 418.6,438 418.7,438.5 418.8,438.7 419,437.2 419.1,438.6 419.2,437 419.3,436.9 419.5,435.1 419.6,436.1 419.7,436.3 419.8,438.3 420,439.3 420.1,436.5 420.2,437.6 420.3,437.5 420.5,436.1 420.6,434.9 420.7,436.1 420.8,435.2 421,436.7 421.1,436.9 421.2,436.9 421.3,436.9 421.4,437.7 421.6,435.9 421.7,438.2 421.8,434.9 421.9,437.1 422.1,437.6 422.2,436 422.3,435 422.4,437.9 422.6,436.1 422.7,438 422.8,438 422.9,437 423.1,437 423.2,438.3 423.3,437.5 423.4,435.8 423.6,437.2 423.7,437.7 423.8,437.2 423.9,437.2 424.1,436.7 424.2,436.8 424.3,435.7 424.4,435.1 424.6,438.4 424.7,436.1 424.8,437.2 424.9,434.9 425.1,437.1 425.2,435.8 425.3,440.7 425.4,435.5 425.6,435.6 425.7,438 425.8,438.3 425.9,434.1 426.1,437.1 426.2,437.9 426.3,435.2 426.4,437.7 426.6,436.1 426.7,435.5 426.8,436.3 426.9,436.1 427,434.9 427.2,439.6 427.3,436.1 427.4,435.7 427.5,437.8 427.7,436.6 427.8,438.4 427.9,436.3 428,437.1 428.2,436.8 428.3,436.8 428.4,436.4 428.5,436.5 428.7,438.8 428.8,435.7 428.9,435.9 429,436.1 429.2,437.3 429.3,437.1 429.4,437.8 429.5,434.8 429.7,436.9 429.8,436.3 429.9,436.1 430,436.7 430.2,434 430.3,436.8 430.4,436.7 430.5,434.6 430.7,436.3 430.8,438.4 430.9,435.9 431,437.2 431.2,436.1 431.3,435.4 431.4,435.2 431.5,435.9 431.7,438 431.8,437.4 431.9,435.4 432,437.6 432.2,436.2 432.3,435.4 432.4,436.9 432.5,435.1 432.6,434.3 432.8,437.9 432.9,433.9 433,437 433.1,434.3 433.3,436.2 433.4,436 433.5,435.6 433.6,433.4 433.8,436 433.9,436.1 434,435 434.1,436.1 434.3,437.4 434.4,435.2 434.5,436.4 434.6,434.6 434.8,436.6 434.9,436.9 435,439.2 435.1,437.2 435.3,436.6 435.4,437.8 435.5,434.7 435.6,437.3 435.8,435.2 435.9,435.1 436,437.3 436.1,436.2 436.3,437.6 436.4,434 436.5,436.2 436.6,435.1 436.8,435.4 436.9,433.3 437,436.9 437.1,436 437.3,434.4 437.4,433.9 437.5,434.5 437.6,437.3 437.8,435.4 437.9,435 438,436.1 438.1,435.4 438.2,435.6 438.4,436.2 438.5,435.6 438.6,436.3 438.7,433.5 438.9,435.1 439,434.4 439.1,434.9 439.2,434.6 439.4,433.7 439.5,434 439.6,435.5 439.7,433.4 439.9,432.3 440,434.4 440.1,434.6 440.2,432.6 440.4,432.8 440.5,431.1 440.6,431.3 440.7,432.3 440.9,431 441,428.9 441.1,426.6 441.2,422.1 441.4,420.1 441.5,413.2 441.6,402.9 441.7,388.3 441.9,365.5 442,342.4 442.1,317.2 442.2,306.3 442.4,307.7 442.5,324.8 442.6,347.4 442.7,370.5 442.9,391.4 443,403.4 443.1,415.2 443.2,422.2 443.4,423.8 443.5,425.8 443.6,429.4 443.7,430.2 443.8,431.6 444,432.3 444.1,431.1 444.2,432.9 444.3,434.3 444.5,432.7 444.6,433.1 444.7,432.2 444.8,434.9 445,436.5 445.1,432.4 445.2,435.3 445.3,435.5 445.5,433.8 445.6,434.1 445.7,433.3 445.8,433.7 446,435 446.1,435.7 446.2,435 446.3,436 446.5,435.2 446.6,433.5 446.7,436.9 446.8,436.6 447,434.2 447.1,437.3 447.2,435.7 447.3,435.3 447.5,437.6 447.6,432 447.7,433.1 447.8,436 448,434.8 448.1,433.9 448.2,437 448.3,435.7 448.5,433.5 448.6,434.2 448.7,436.1 448.8,437.2 449,432.3 449.1,435.1 449.2,434.1 449.3,432.2 449.5,433.8 449.6,431.5 449.7,432.2 449.8,434 449.9,431.4 450.1,430.4 450.2,428.7 450.3,427.2 450.4,427.3 450.6,424.7 450.7,426.6 450.8,429.4 450.9,428.8 451.1,430.5 451.2,433.7 451.3,435 451.4,432.9 451.6,433.1 451.7,435.2 451.8,435 451.9,434 452.1,435.7 452.2,435.7 452.3,435.2 452.4,438.9 452.6,436.9 452.7,436.2 452.8,436.5 452.9,439 453.1,436.7 453.2,434.4 453.3,435.7 453.4,435.4 453.6,434.6 453.7,435.7 453.8,435.7 453.9,435.3 454.1,434.7 454.2,436.4 454.3,433.3 454.4,436.4 454.6,435.4 454.7,435.7 454.8,432.4 454.9,437.5 455.1,433.2 455.2,434.3 455.3,436.2 455.4,434.6 455.5,434.9 455.7,432.5 455.8,434.8 455.9,435.7 456,436.2 456.2,435 456.3,435.7 456.4,435.9 456.5,434.5 456.7,434.4 456.8,437.9 456.9,434.3 457,436.9 457.2,435.5 457.3,437.2 457.4,434.6 457.5,436 457.7,435.8 457.8,435.1 457.9,435.8 458,434.4 458.2,435.3 458.3,434.9 458.4,436.3 458.5,435.2 458.7,433.6 458.8,434.9 458.9,435.2 459,434.2 459.2,437 459.3,435.9 459.4,436.4 459.5,434.4 459.7,434.8 459.8,436.6 459.9,433.5 460,435.8 460.2,435.4 460.3,434.7 460.4,435.4 460.5,434 460.7,435.6 460.8,433.8 460.9,433.7 461,437.1 461.1,434.4 461.3,432.6 461.4,436.5 461.5,434.3 461.6,430.8 461.8,435.2 461.9,436.5 462,435.7 462.1,437.5 462.3,435.1 462.4,436.1 462.5,434 462.6,435.5 462.8,437.2 462.9,435.9 463,435.5 463.1,432.7 463.3,434.8 463.4,433.6 463.5,436.3 463.6,434.3 463.8,435.7 463.9,434 464,437.7 464.1,433.8 464.3,435.4 464.4,438.6 464.5,435.5 464.6,434.1 464.8,436 464.9,436.5 465,436.4 465.1,432.7 465.3,435.5 465.4,432.5 465.5,437.7 465.6,435.3 465.8,434.6 465.9,436.1 466,435.8 466.1,433.7 466.3,437.3 466.4,434.9 466.5,433 466.6,437 466.7,437.2 466.9,436.8 467,435.9 467.1,434.1 467.2,436.4 467.4,437.6 467.5,436.2 467.6,437.2 467.7,434.2 467.9,436.5 468,436.4 468.1,433.3 468.2,433.1 468.4,434.3 468.5,435.3 468.6,435.8 468.7,434.9 468.9,435.1 469,435 469.1,435.3 469.2,435.9 469.4,435.8 469.5,435.1 469.6,435.5 469.7,434.6 469.9,436.2 470,434.5 470.1,437.3 470.2,435.1 470.4,435.5 470.5,434.2 470.6,434.7 470.7,435.3 470.9,435.2 471,434.3 471.1,433.6 471.2,435.2 471.4,435.3 471.5,435.8 471.6,436.7 471.7,434.7 471.9,432.5 472,434.9 472.1,432.7 472.2,433.4 472.3,436.4 472.5,435.8 472.6,434.3 472.7,434.3 472.8,435 473,432.8 473.1,435.7 473.2,434.6 473.3,437.5 473.5,433.7 473.6,436.4 473.7,434.2 473.8,436.4 474,433.8 474.1,436 474.2,434.5 474.3,434 474.5,434.8 474.6,435.6 474.7,435.5 474.8,437.1 475,436.1 475.1,431.6 475.2,434.5 475.3,432.4 475.5,434.5 475.6,435.8 475.7,433.2 475.8,433.4 476,435.1 476.1,434.6 476.2,437 476.3,435.3 476.5,435.6 476.6,437.2 476.7,434.2 476.8,434.9 477,433.6 477.1,435.2 477.2,436.1 477.3,436.5 477.5,434.7 477.6,433.8 477.7,433.7 477.8,432.8 477.9,434.8 478.1,436.3 478.2,431.4 478.3,431.6 478.4,436.2 478.6,432.2 478.7,434.6 478.8,432.4 478.9,434.9 479.1,434.7 479.2,433.6 479.3,434 479.4,432.4 479.6,432.2 479.7,432.5 479.8,429.7 479.9,425 480.1,421.8 480.2,419 480.3,415.3 480.4,412.6 480.6,410 480.7,411.8 480.8,413.2 480.9,416.9 481.1,420.1 481.2,424.3 481.3,424.9 481.4,430.8 481.6,430.9 481.7,432.3 481.8,433.3 481.9,434.5 482.1,434.4 482.2,434 482.3,433.7 482.4,431.9 482.6,434.5 482.7,433.9 482.8,434 482.9,437.6 483.1,432.1 483.2,434.6 483.3,436.2 483.4,435.9 483.5,436.3 483.7,433.1 483.8,433.5 483.9,435.6 484,434.4 484.2,437 484.3,435.1 484.4,435.1 484.5,435.4 484.7,434.5 484.8,435 484.9,434 485,434.9 485.2,434.3 485.3,435.3 485.4,433.1 485.5,433 485.7,435.5 485.8,435.3 485.9,433.7 486,434.7 486.2,433.6 486.3,437.6 486.4,433 486.5,437.2 486.7,433.9 486.8,435.5 486.9,434.7 487,434.5 487.2,436.2 487.3,436.1 487.4,434.6 487.5,433.8 487.7,437.7 487.8,436.8 487.9,435.2 488,434.6 488.2,435.4 488.3,435.1 488.4,436.6 488.5,433.8 488.7,435.1 488.8,434 488.9,436.7 489,437.4 489.1,434.9 489.3,435.7 489.4,436.9 489.5,434.7 489.6,433.8 489.8,436.4 489.9,435.7 490,434.8 490.1,437 490.3,435.4 490.4,432.7 490.5,435.5 490.6,435 490.8,437.5 490.9,435 491,434.8 491.1,435.6 491.3,435.4 491.4,433.2 491.5,435.2 491.6,434.6 491.8,436.9 491.9,438.2 492,433.6 492.1,433.8 492.3,434 492.4,434.2 492.5,434.2 492.6,435.1 492.8,436.5 492.9,433.4 493,433.1 493.1,432.7 493.3,436.5 493.4,436.8 493.5,433.1 493.6,433 493.8,435.2 493.9,436.5 494,436.4 494.1,435.3 494.3,436 494.4,435.5 494.5,434.4 494.6,437.6 494.7,435.1 494.9,433.6 495,434.5 495.1,433.1 495.2,435.1 495.4,436.5 495.5,433.4 495.6,436.6 495.7,437.8 495.9,435.6 496,433.6 496.1,434 496.2,434.7 496.4,433.4 496.5,433.5 496.6,434.8 496.7,434.9 496.9,435.9 497,433.5 497.1,437.5 497.2,436.5 497.4,436.3 497.5,434.2 497.6,437.4 497.7,434.6 497.9,437.5 498,436.5 498.1,433.9 498.2,434.5 498.4,437.5 498.5,436.4 498.6,434.9 498.7,435.4 498.9,435.4 499,434.1 499.1,434.8 499.2,434.2 499.4,434.5 499.5,435.7 499.6,433.9 499.7,436 499.9,435.2 500,436.1 500.1,436.3 500.2,436.7 500.4,435.9 500.5,436 500.6,434.9 500.7,435.8 500.8,433.9 501,434.8 501.1,436.1 501.2,435 501.3,435.7 501.5,433.7 501.6,436.9 501.7,434.4 501.8,435.6 502,435.1 502.1,436.3 502.2,434.6 502.3,433.8 502.5,432.6 502.6,434.7 502.7,433.6 502.8,435.8 503,437 503.1,432.2 503.2,433.4 503.3,435.5 503.5,436.7 503.6,435.5 503.7,435.5 503.8,435.8 504,435.9 504.1,437.3 504.2,435.9 504.3,433.5 504.5,434.5 504.6,435.4 504.7,434.1 504.8,434.8 505,434.4 505.1,434.2 505.2,436 505.3,434.6 505.5,433.7 505.6,434.2 505.7,435.2 505.8,437.9 506,435.5 506.1,437.1 506.2,435.8 506.3,432.3 506.4,435.6 506.6,434 506.7,433.4 506.8,433.7 506.9,437.5 507.1,433.1 507.2,434.3 507.3,436.6 507.4,436 507.6,432.9 507.7,435 507.8,434.5 507.9,434.9 508.1,436.1 508.2,434.4 508.3,434.7 508.4,437 508.6,432.7 508.7,434.7 508.8,435.8 508.9,433.5 509.1,434.3 509.2,433.4 509.3,435.3 509.4,434.3 509.6,436.2 509.7,436.5 509.8,435.2 509.9,434.6 510.1,435.5 510.2,435.2 510.3,433.5 510.4,436.5 510.6,435.4 510.7,436.2 510.8,433.4 510.9,436.3 511.1,437.9 511.2,436 511.3,433.2 511.4,435.2 511.6,435.1 511.7,435.4 511.8,434.8 511.9,435.8 512,434.5 512.2,435.4 512.3,434.2 512.4,435.3 512.5,436.5 512.7,434.5 512.8,436 512.9,434 513,434.7 513.2,434.8 513.3,436.8 513.4,434.1 513.5,436.7 513.7,433.2 513.8,434.9 513.9,436.3 514,436.1 514.2,433.8 514.3,433.5 514.4,436.3 514.5,433.5 514.7,435.9 514.8,434.5 514.9,435.1 515,438.2 515.2,437.2 515.3,436.3 515.4,433.3 515.5,435.6 515.7,435.2 515.8,435 515.9,436.9 516,432.9 516.2,435.6 516.3,435.3 516.4,434.2 516.5,437.4 516.7,433.5 516.8,435.2 516.9,435.3 517,432.3 517.2,433.3 517.3,433.9 517.4,436.2 517.5,436.4 517.6,435.9 517.8,435.5 517.9,432.3 518,435.4 518.1,434.5 518.3,436.7 518.4,436.9 518.5,438.1 518.6,436.1 518.8,436.2 518.9,433.8 519,435.3 519.1,433.5 519.3,436.3 519.4,433.6 519.5,434.9 519.6,434.1 519.8,434.5 519.9,435.8 520,434.4 520.1,435.4 520.3,433.8 520.4,437 520.5,434.3 520.6,436.5 520.8,438 520.9,431.9 521,433.8 521.1,434.9 521.3,436.7 521.4,434.5 521.5,435.6 521.6,434.2 521.8,435.9 521.9,433.5 522,436.2 522.1,431.2 522.3,432.6 522.4,437.5 522.5,435.4 522.6,434 522.8,438.1 522.9,436.5 523,436.6 523.1,434.6 523.2,436 523.4,435.8 523.5,432.9 523.6,435.9 523.7,434.9 523.9,436.8 524,436.9 524.1,434.3 524.2,434.3 524.4,435.4 524.5,436 524.6,434.6 524.7,435 524.9,435.9 525,435.7 525.1,436.7 525.2,435.4 525.4,433.9 525.5,432.8 525.6,436.2 525.7,434.7 525.9,434.6 526,434.7 526.1,433 526.2,434.6 526.4,431.6 526.5,434.6 526.6,433.9 526.7,437.5 526.9,435.7 527,434.8 527.1,435.3 527.2,436 527.4,434.1 527.5,434.8 527.6,434.6 527.7,438.4 527.9,435.1 528,432.4 528.1,436.1 528.2,438.5 528.4,433.7 528.5,439.7 528.6,434.9 528.7,436.3 528.8,434.2 529,434.6 529.1,433.3 529.2,433.5 529.3,432.1 529.5,436.4 529.6,433.3 529.7,435.3 529.8,435.3 530,433.9 530.1,434.8 530.2,434.6 530.3,434 530.5,434.6 530.6,434.5 530.7,432.9 530.8,432.3 531,432.7 531.1,433.6 531.2,434.8 531.3,434.3 531.5,432 531.6,432 531.7,429.9 531.8,430.1 532,427.8 532.1,427.4 532.2,426 532.3,426.3 532.5,429.3 532.6,425.9 532.7,428.5 532.8,428.7 533,431.8 533.1,433.9 533.2,431.8 533.3,429.1 533.5,434.2 533.6,434.6 533.7,431.8 533.8,433.9 534,434.3 534.1,431.4 534.2,435.5 534.3,435.2 534.4,435 534.6,433.3 534.7,433.8 534.8,434 534.9,435.5 535.1,433.5 535.2,436.8 535.3,435.4 535.4,432 535.6,437.2 535.7,435.1 535.8,434.2 535.9,435.1 536.1,432.5 536.2,435.2 536.3,431.7 536.4,433.6 536.6,436.8 536.7,436.7 536.8,434.5 536.9,433.7 537.1,436.3 537.2,434.9 537.3,435.3 537.4,435.9 537.6,433.6 537.7,436.1 537.8,432.2 537.9,437 538.1,432.9 538.2,434.2 538.3,434.1 538.4,436 538.6,436 538.7,435.5 538.8,435.7 538.9,435.6 539.1,434.9 539.2,432.4 539.3,431.9 539.4,431.9 539.6,434.9 539.7,434.7 539.8,434.8 539.9,435.3 540,434.7 540.2,433.6 540.3,433 540.4,432.4 540.5,436.6 540.7,436.2 540.8,433.2 540.9,434.6 541,435.6 541.2,437.1 541.3,434.2 541.4,435.2 541.5,436.5 541.7,432.6 541.8,434 541.9,434.9 542,434 542.2,437.8 542.3,436.1 542.4,435.2 542.5,433.6 542.7,436.1 542.8,435.8 542.9,434.2 543,434.3 543.2,432.9 543.3,434.8 543.4,436.1 543.5,436.3 543.7,435.7 543.8,436 543.9,434.1 544,434.2 544.2,436.5 544.3,435.5 544.4,433.8 544.5,435.5 544.7,435.9 544.8,435.8 544.9,434.9 545,434.1 545.2,435.3 545.3,437 545.4,434.9 545.5,433.8 545.7,435.2 545.8,433 545.9,435 546,434.2 546.1,435.9 546.3,434.7 546.4,436 546.5,437.6 546.6,434.2 546.8,433.3 546.9,435 547,434.2 547.1,434.4 547.3,433.4 547.4,434.8 547.5,434.1 547.6,431 547.8,433.4 547.9,434 548,435 548.1,432.4 548.3,431.7 548.4,433.9 548.5,430.9 548.6,431 548.8,430.3 548.9,429.1 549,426 549.1,421.8 549.3,421.4 549.4,415.8 549.5,411.8 549.6,411.6 549.8,407.3 549.9,403.4 550,404.8 550.1,407.4 550.3,410.1 550.4,412.3 550.5,419.8 550.6,423.1 550.8,425.3 550.9,426.8 551,429.4 551.1,431.3 551.3,430 551.4,431.7 551.5,431.9 551.6,433.9 551.7,433.6 551.9,431.7 552,432.8 552.1,436.2 552.2,432.6 552.4,434.2 552.5,433.2 552.6,435.8 552.7,434.1 552.9,433.7 553,432.7 553.1,434 553.2,435.5 553.4,435.3 553.5,432.7 553.6,436.6 553.7,434.2 553.9,433.1 554,434.7 554.1,433.7 554.2,433.8 554.4,433.8 554.5,434.5 554.6,434 554.7,432.3 554.9,435.4 555,434 555.1,436.3 555.2,435.4 555.4,435.5 555.5,434.9 555.6,436.4 555.7,434.3 555.9,433.4 556,435.2 556.1,431.1 556.2,434.2 556.4,435 556.5,434.2 556.6,436.4 556.7,435.7 556.9,434.9 557,434.2 557.1,436.2 557.2,433.8 557.3,434.2 557.5,435.8 557.6,435.6 557.7,437.5 557.8,434.5 558,432.2 558.1,435.6 558.2,436.4 558.3,434.5 558.5,436.8 558.6,437.1 558.7,433.9 558.8,434.1 559,433.1 559.1,435.5 559.2,435.7 559.3,435.6 559.5,433.1 559.6,433.7 559.7,432.8 559.8,432.6 560,432.9 560.1,432.6 560.2,434.5 560.3,435.3 560.5,435.6 560.6,434.7 560.7,433.8 560.8,434.7 561,435.5 561.1,434.3 561.2,434.8 561.3,434.3 561.5,434 561.6,434.8 561.7,433.2 561.8,436.1 562,432.6 562.1,435.3 562.2,432.9 562.3,436.7 562.5,435.9 562.6,433.6 562.7,434.1 562.8,433.2 562.9,434.6 563.1,435.3 563.2,438.1 563.3,432.9 563.4,436.4 563.6,433.9 563.7,435.1 563.8,435.9 563.9,435.4 564.1,435.3 564.2,434.4 564.3,434.7 564.4,434.9 564.6,436.3 564.7,432.7 564.8,434 564.9,433 565.1,433.4 565.2,433.6 565.3,436.1 565.4,437.5 565.6,436.5 565.7,433.1 565.8,434.7 565.9,433.1 566.1,435.2 566.2,436.3 566.3,435.4 566.4,435.8 566.6,434.4 566.7,432 566.8,432 566.9,434.5 567.1,435.4 567.2,436.3 567.3,434.1 567.4,434.7 567.6,434.9 567.7,436 567.8,434.5 567.9,433.1 568.1,436 568.2,435.1 568.3,435.1 568.4,432.9 568.5,434.6 568.7,432.3 568.8,431.9 568.9,434.2 569,434 569.2,435.3 569.3,436.5 569.4,434.5 569.5,436.9 569.7,433.7 569.8,435.5 569.9,432.8 570,434.7 570.2,434.1 570.3,434.2 570.4,435.3 570.5,431.9 570.7,434.6 570.8,433.4 570.9,434.6 571,435 571.2,433.9 571.3,433.9 571.4,432.9 571.5,435.1 571.7,433.5 571.8,435 571.9,432.5 572,436.2 572.2,433 572.3,435.9 572.4,433.7 572.5,435 572.7,434.1 572.8,435.2 572.9,434.2 573,435.9 573.2,435.1 573.3,435.1 573.4,436.4 573.5,433.2 573.7,435.8 573.8,434.1 573.9,432 574,434.6 574.1,433.7 574.3,436.1 574.4,433.2 574.5,433.8 574.6,434 574.8,431.1 574.9,434.2 575,432.1 575.1,435.2 575.3,435.5 575.4,433.1 575.5,430.9 575.6,433 575.8,432.8 575.9,433.2 576,431.5 576.1,429.8 576.3,430.5 576.4,428.6 576.5,430.9 576.6,426 576.8,423.9 576.9,421.9 577,417 577.1,414.2 577.3,410.4 577.4,405.6 577.5,401.9 577.6,400.9 577.8,398.4 577.9,396.7 578,400.3 578.1,405.6 578.3,408 578.4,413.3 578.5,417.2 578.6,421.5 578.8,423.5 578.9,425.9 579,426.8 579.1,429.8 579.3,429.1 579.4,433.4 579.5,431.6 579.6,431.8 579.7,433.4 579.9,432.5 580,432.9 580.1,432.9 580.2,432.2 580.4,432 580.5,432.4 580.6,434.9 580.7,432.7 580.9,433 581,433 581.1,434.6 581.2,436.4 581.4,432.5 581.5,434.5 581.6,434 581.7,433.5 581.9,434.6 582,432.2 582.1,435.1 582.2,434.3 582.4,432.7 582.5,436.1 582.6,435.2 582.7,435.6 582.9,432.1 583,433.7 583.1,433.4 583.2,434.9 583.4,435.9 583.5,431.6 583.6,434.2 583.7,434 583.9,435.5 584,434.1 584.1,432.5 584.2,433.9 584.4,432.8 584.5,433.1 584.6,434.2 584.7,433.5 584.9,434.6 585,432.2 585.1,437.3 585.2,435.9 585.3,435.2 585.5,432.5 585.6,431.3 585.7,433.1 585.8,433.9 586,437.2 586.1,436 586.2,433.5 586.3,435.8 586.5,435.8 586.6,434.2 586.7,435.8 586.8,434.7 587,433.4 587.1,432.7 587.2,434.1 587.3,435.5 587.5,432.4 587.6,432.1 587.7,435 587.8,430.6 588,436.6 588.1,433.6 588.2,435.2 588.3,436.7 588.5,432.3 588.6,432.8 588.7,437.2 588.8,433.8 589,434 589.1,434.5 589.2,435.6 589.3,436 589.5,434.4 589.6,433.8 589.7,434.2 589.8,434.6 590,435.9 590.1,434.4 590.2,436.6 590.3,433.1 590.5,434.9 590.6,436.5 590.7,435.9 590.8,434.6 590.9,433 591.1,433.3 591.2,434 591.3,434.6 591.4,433.9 591.6,432.3 591.7,433.2 591.8,434.9 591.9,435.3 592.1,432.3 592.2,433.7 592.3,432 592.4,433.4 592.6,438.9 592.7,434.3 592.8,433.7 592.9,433.4 593.1,432.6 593.2,431.7 593.3,434.1 593.4,433.8 593.6,436.1 593.7,432 593.8,434.7 593.9,435.9 594.1,431.6 594.2,435 594.3,432 594.4,434.8 594.6,436.1 594.7,434.1 594.8,434.5 594.9,433.2 595.1,434.5 595.2,435.6 595.3,433.9 595.4,434 595.6,434.7 595.7,435.2 595.8,432 595.9,434.2 596.1,433.2 596.2,434.8 596.3,435.5 596.4,434.5 596.6,435.8 596.7,432.8 596.8,433.6 596.9,432.8 597,434.2 597.2,434.2 597.3,433.9 597.4,432.5 597.5,434 597.7,433.5 597.8,434.9 597.9,433.7 598,435.7 598.2,434.4 598.3,431.6 598.4,433.9 598.5,432.2 598.7,435.4 598.8,436 598.9,434.1 599,434.7 599.2,432.2 599.3,431.1 599.4,433.3 599.5,433.7 599.7,432.1 599.8,434.2 599.9,434.5 600,434.9 600.2,436.1 600.3,435.1 600.4,433.6 600.5,434.2 600.7,434.9 600.8,432.7 600.9,435.8 601,435.3 601.2,433.8 601.3,433.2 601.4,439.1 601.5,435.2 601.7,435.3 601.8,436.4 601.9,435.4 602,434.3 602.2,435 602.3,432.8 602.4,435 602.5,432 602.6,434.6 602.8,434.8 602.9,432 603,436.6 603.1,432.5 603.3,435.4 603.4,433.3 603.5,434.4 603.6,433.2 603.8,437.3 603.9,435.4 604,436.4 604.1,435.1 604.3,435 604.4,434.2 604.5,433.7 604.6,434.8 604.8,434.2 604.9,433.8 605,432.2 605.1,433.6 605.3,434.8 605.4,433.4 605.5,434.5 605.6,433.8 605.8,432.6 605.9,432.8 606,433 606.1,433.6 606.3,433.7 606.4,435.5 606.5,432.6 606.6,431.3 606.8,434.9 606.9,433.4 607,433.8 607.1,437.4 607.3,435.9 607.4,434.8 607.5,435.3 607.6,434.2 607.8,435.3 607.9,433.2 608,433 608.1,433.4 608.2,436.1 608.4,436.1 608.5,433.2 608.6,435.5 608.7,433.8 608.9,435.4 609,433.6 609.1,435.3 609.2,433.8 609.4,433.6 609.5,433.9 609.6,434.2 609.7,433.2 609.9,432.1 610,436.2 610.1,433.4 610.2,431.5 610.4,430.9 610.5,430.2 610.6,433.1 610.7,435.8 610.9,431.8 611,433.5 611.1,431.5 611.2,435.4 611.4,434.4 611.5,434.4 611.6,435.8 611.7,436.1 611.9,435.3 612,433.2 612.1,432.2 612.2,432.5 612.4,431.6 612.5,436.3 612.6,433.7 612.7,434.1 612.9,434.2 613,436.6 613.1,433.2 613.2,435.5 613.4,434.3 613.5,433.7 613.6,431.3 613.7,435.1 613.8,432.9 614,433.3 614.1,434.2 614.2,434 614.3,435.4 614.5,433 614.6,434.1 614.7,434.3 614.8,433.9 615,434.8 615.1,433.5 615.2,435.5 615.3,432.9 615.5,431.9 615.6,433.8 615.7,435.4 615.8,433.2 616,433 616.1,433.4 616.2,434.1 616.3,433.6 616.5,434.2 616.6,431.5 616.7,435.8 616.8,434.6 617,432.6 617.1,435.6 617.2,434.4 617.3,435.7 617.5,432.2 617.6,435.9 617.7,433.7 617.8,430.9 618,434.6 618.1,433.2 618.2,432.2 618.3,433.2 618.5,430.8 618.6,434.1 618.7,433 618.8,432.8 619,435 619.1,433 619.2,431.9 619.3,431.4 619.4,432.5 619.6,433.9 619.7,431.5 619.8,430.8 619.9,433.3 620.1,432 620.2,431.9 620.3,434.7 620.4,430.2 620.6,432.2 620.7,429.6 620.8,431.6 620.9,432.9 621.1,433.8 621.2,430.7 621.3,433.6 621.4,433.7 621.6,432.6 621.7,436.2 621.8,433 621.9,431.9 622.1,433.8 622.2,430.8 622.3,435.4 622.4,434.7 622.6,432.9 622.7,434.3 622.8,434.3 622.9,436.2 623.1,432.8 623.2,431.9 623.3,430.9 623.4,433.3 623.6,431.6 623.7,433.5 623.8,434.3 623.9,433.1 624.1,432.5 624.2,435.3 624.3,433.5 624.4,434 624.6,435 624.7,432 624.8,432.5 624.9,437.1 625,433.5 625.2,432.4 625.3,433.4 625.4,433 625.5,432.1 625.7,433.2 625.8,433.7 625.9,433.7 626,434.5 626.2,431.4 626.3,431.8 626.4,434.8 626.5,433.2 626.7,435.4 626.8,434.2 626.9,431.9 627,434.5 627.2,432.4 627.3,434.1 627.4,435.4 627.5,436.6 627.7,433.7 627.8,434.7 627.9,434.1 628,434.8 628.2,430.3 628.3,433.2 628.4,434.1 628.5,434.4 628.7,432.7 628.8,434.8 628.9,435.2 629,433.8 629.2,433.4 629.3,433.2 629.4,433.9 629.5,435.3 629.7,435.7 629.8,433.1 629.9,432.5 630,432.6 630.2,435 630.3,434 630.4,434.1 630.5,434.3 630.6,434.2 630.8,433.5 630.9,432.3 631,432.8 631.1,433.8 631.3,434.2 631.4,433.1 631.5,433.1 631.6,435.4 631.8,433 631.9,433.9 632,433.1 632.1,432.4 632.3,431.5 632.4,432.8 632.5,432.4 632.6,434.6 632.8,431.9 632.9,432.8 633,434.2 633.1,433.1 633.3,433.8 633.4,434.1 633.5,430.6 633.6,432.1 633.8,431.1 633.9,433.9 634,431.6 634.1,432 634.3,433.1 634.4,429.9 634.5,430 634.6,429.9 634.8,428.6 634.9,430.3 635,429.5 635.1,429.7 635.3,428.6 635.4,428.4 635.5,428.8 635.6,429.3 635.8,428.1 635.9,431.2 636,432.3 636.1,431.6 636.2,431.3 636.4,432.3 636.5,432.8 636.6,433.2 636.7,435.3 636.9,431.9 637,433.6 637.1,434.1 637.2,433.4 637.4,433 637.5,432 637.6,432.6 637.7,434.3 637.9,435.3 638,432.5 638.1,434 638.2,434.1 638.4,434.7 638.5,433.7 638.6,434 638.7,434.5 638.9,431.8 639,433.3 639.1,430.9 639.2,430.5 639.4,432 639.5,430.9 639.6,433.5 639.7,434 639.9,432.1 640,432.2 640.1,431.9 640.2,431.7 640.4,432 640.5,432.2 640.6,431 640.7,430.5 640.9,430.9 641,432.7 641.1,431.2 641.2,433.7 641.4,431.7 641.5,434 641.6,430.8 641.7,431.6 641.8,433.3 642,433.5 642.1,432.8 642.2,435.8 642.3,433.3 642.5,433.6 642.6,432.6 642.7,435.6 642.8,434.5 643,434 643.1,431.3 643.2,434 643.3,432.9 643.5,434.1 643.6,434.8 643.7,432.6 643.8,433.9 644,434.7 644.1,433.8 644.2,433.2 644.3,432.2 644.5,432.7 644.6,432 644.7,434.9 644.8,433.8 645,432 645.1,433.6 645.2,432 645.3,429.3 645.5,435.2 645.6,435.2 645.7,431.7 645.8,432.7 646,433.9 646.1,433.2 646.2,432.5 646.3,433 646.5,433.3 646.6,432.9 646.7,433.9 646.8,433.4 647,432.7 647.1,433.7 647.2,431.5 647.3,435.5 647.5,431.4 647.6,433.6 647.7,434.1 647.8,434.2 647.9,434 648.1,435.3 648.2,432.2 648.3,433.6 648.4,433.9 648.6,433 648.7,432.9 648.8,435.3 648.9,432.7 649.1,433 649.2,433.3 649.3,433.4 649.4,433.9 649.6,433.4 649.7,434.1 649.8,433.8 649.9,434.3 650.1,435.4 650.2,432.6 650.3,435.8 650.4,433.1 650.6,434.5 650.7,433.9 650.8,433.3 650.9,431.1 651.1,435.7 651.2,432.7 651.3,432.6 651.4,435 651.6,433.8 651.7,436.1 651.8,435.8 651.9,434.6 652.1,434 652.2,434.6 652.3,431.9 652.4,433.9 652.6,433.8 652.7,433 652.8,434 652.9,431.8 653.1,434.8 653.2,435.3 653.3,432 653.4,433.8 653.5,435.6 653.7,434.2 653.8,432.3 653.9,432.4 654,434.7 654.2,436 654.3,432.2 654.4,433.7 654.5,432.6 654.7,433.3 654.8,434 654.9,433.6 655,432.7 655.2,436.3 655.3,433.4 655.4,433.4 655.5,435 655.7,433.6 655.8,433.3 655.9,434.8 656,432.3 656.2,434.6 656.3,434.9 656.4,434.4 656.5,433.3 656.7,433.6 656.8,431.3 656.9,433.4 657,433.9 657.2,434.7 657.3,433.7 657.4,433 657.5,432.4 657.7,433.4 657.8,433.6 657.9,435 658,433.4 658.2,432.7 658.3,433.2 658.4,432.6 658.5,432.9 658.7,430.2 658.8,430.9 658.9,431.3 659,433.3 659.1,432.4 659.3,432.6 659.4,433.7 659.5,430.6 659.6,433.2 659.8,432.1 659.9,430.5 660,433.2 660.1,429.4 660.3,429.8 660.4,431 660.5,431.9 660.6,431.3 660.8,429 660.9,431.5 661,432 661.1,435.6 661.3,434.3 661.4,432.8 661.5,431.4 661.6,433.4 661.8,431.6 661.9,433.4 662,433.7 662.1,432.8 662.3,433.7 662.4,433 662.5,432.7 662.6,435.4 662.8,434.2 662.9,433.1 663,432.5 663.1,433.7 663.3,434.3 663.4,434.6 663.5,435.4 663.6,434.1 663.8,432.1 663.9,436.2 664,435.1 664.1,434.6"/>
<polygon fill="#ff0000" points="370.8,443.9 380.3,441.8 390.7,439.9 403.7,438 411.1,437 412.7,436.5 413.4,436.1 413.8,435.7 414.1,435 414.3,434.4 414.5,433.3 414.6,432 414.7,431.3 414.8,427.2 415,420.2 415.1,415.4 415.4,399.2 415.5,394 415.6,394.5 415.7,399.2 415.9,410 416.1,420.1 416.1,420.6 416.3,427.1 416.4,431.1 416.6,432.9 416.6,433.1 416.8,434.2 417,434.7 417.3,435.4 417.9,435.8 419,436.1 422.1,436.1 434.5,435.2 437,434.8 438.5,434.2 439.2,433.7 439.8,433.1 440.1,432.3 440.3,431.8 440.5,431.2 440.7,430.3 440.8,429.1 441,427.7 441,427.3 441.2,424 441.4,417.6 441.5,411.7 441.6,405.2 441.7,383.4 441.9,352.1 442,340.5 442.1,318.6 442.3,302.5 442.5,318.6 442.5,321.9 442.6,352.1 442.8,383.4 443,403.2 443,405.1 443.2,417.5 443.4,423.9 443.5,426.3 443.5,427.1 443.7,428.9 443.9,430.1 444.1,431 444.3,431.6 444.6,432.5 445.1,433.2 446,433.8 447.2,434.1 448.5,434 449,433.9 449.2,433.6 449.4,433 449.6,432.3 449.8,430.8 449.9,429.7 450.3,426.2 450.4,425.1 450.5,425 450.7,426.2 450.9,428.7 451.2,430.8 451.4,432.3 451.4,432.7 451.6,433.2 451.8,433.7 452.2,434 453.6,434.3 460.4,434.3 475.8,433.9 477.8,433.6 478.6,433.2 479.1,432.6 479.3,431.9 479.5,430.8 479.7,428.5 479.8,427.3 480,424.5 480.2,418.7 480.3,414.6 480.4,412.5 480.6,409.5 480.8,412 480.8,412.5 481,418.7 481.3,424.5 481.3,425.4 481.5,428.5 481.7,430.8 481.8,431.4 481.9,432 482.1,432.6 482.6,433.1 483.5,433.6 485.3,433.8 497.2,434 527,434 529.6,433.8 530.3,433.6 530.6,433.4 530.9,432.9 531.2,432.1 531.4,430.6 531.6,429.7 532,426.3 532.1,425.8 532.3,425.2 532.6,426.4 533.1,430.4 533.4,432.1 533.7,432.9 534.1,433.4 534.8,433.8 537.3,434 544,433.9 546.3,433.6 547.3,433.1 547.8,432.7 548.1,432.3 548.4,431.6 548.5,430.8 548.6,430.2 548.9,427.4 549,425.1 549.1,422.6 549.4,415.7 549.5,412.2 549.6,408.4 549.9,404.8 550,405.4 550.2,408.4 550.5,418 550.7,422.6 550.9,427.4 551,428.2 551.2,430.1 551.5,431.5 551.7,432.2 552,432.7 552.8,433.2 554,433.6 557.5,433.8 568.9,433.6 572.9,433.3 574.4,432.9 575.3,432.3 575.6,432 575.9,431.3 576.1,430.6 576.4,428.9 576.7,425.6 576.9,421.3 576.9,419.8 577.2,411.5 577.4,406.2 577.5,402.6 577.8,398.3 577.9,398.9 578.1,402.6 578.4,412.8 578.6,419.8 578.9,425.3 578.9,425.6 579.2,428.9 579.4,430.2 579.5,430.6 579.7,431.4 580,431.9 580.6,432.4 581.7,432.9 583.9,433.2 592.3,433.2 616.7,432.8 617.9,432.6 618.7,432.2 619.9,431.1 620.4,430.8 620.9,431.1 621.9,432 622.7,432.5 624.2,432.7 630.9,432.6 632.6,432.4 633.2,432.1 633.7,431.5 634.1,430.3 634.7,428 634.8,427.7 635.1,427.3 635.2,427.5 635.4,428 636.1,430.6 636.5,431.5 636.8,432 637.2,432.2 638.2,432.4 639.1,432.2 639.6,431.8 640.6,430.6 640.8,430.5 641.2,430.8 642.1,431.9 642.8,432.4 644.4,432.6 656.2,432.6 658,432.4 658.6,432.1 659,431.7 659.8,430.5 660,430.3 660.2,430.2 660.6,430.5 661.5,431.8 662,432.2 663,432.5 664.2,432.6 664.2,434.5 663,434.5 662,434.2 661.5,433.8 660.6,432.5 660.2,432.2 660,432.3 659.8,432.5 659,433.7 658.6,434.1 658,434.4 656.2,434.5 644.4,434.5 642.8,434.3 642.1,433.9 641.2,432.7 640.8,432.5 640.6,432.5 639.6,433.7 639.1,434.1 638.2,434.3 637.2,434.2 636.8,433.9 636.5,433.4 636.1,432.5 635.4,429.9 635.2,429.4 635.1,429.3 634.8,429.6 634.7,429.9 634.1,432.2 633.7,433.5 633.2,434.1 632.6,434.4 630.9,434.6 624.2,434.6 622.7,434.4 621.9,434 620.9,433 620.4,432.8 619.9,433 618.7,434.2 617.9,434.6 616.7,434.7 592.3,435.2 583.9,435.1 581.7,434.9 580.6,434.4 580,433.9 579.7,433.4 579.5,432.5 579.4,432.1 579.2,430.8 578.9,427.5 578.9,427.2 578.6,421.8 578.4,414.7 578.1,404.5 577.9,400.9 577.8,400.3 577.5,404.6 577.4,408.2 577.2,413.5 576.9,421.8 576.9,423.3 576.7,427.6 576.4,430.9 576.1,432.6 575.9,433.3 575.6,433.9 575.3,434.3 574.4,434.8 572.9,435.2 568.9,435.5 557.5,435.7 554,435.5 552.8,435.2 552,434.6 551.7,434.2 551.5,433.5 551.2,432.1 551,430.1 550.9,429.3 550.7,424.6 550.5,420 550.2,410.3 550,407.3 549.9,406.8 549.6,410.3 549.5,414.1 549.4,417.7 549.1,424.6 549,427.1 548.9,429.4 548.6,432.1 548.5,432.8 548.4,433.5 548.1,434.2 547.8,434.6 547.3,435.1 546.3,435.5 544,435.8 537.3,435.9 534.8,435.7 534.1,435.4 533.7,434.9 533.4,434 533.1,432.3 532.6,428.4 532.3,427.2 532.1,427.8 532,428.3 531.6,431.6 531.4,432.6 531.2,434 530.9,434.9 530.6,435.3 530.3,435.5 529.6,435.8 527,436 497.2,435.9 485.3,435.8 483.5,435.5 482.6,435.1 482.1,434.5 481.9,433.9 481.8,433.4 481.7,432.8 481.5,430.5 481.3,427.3 481.3,426.4 481,420.6 480.8,414.5 480.8,414 480.6,411.5 480.4,414.5 480.3,416.6 480.2,420.7 480,426.4 479.8,429.2 479.7,430.5 479.5,432.8 479.3,433.9 479.1,434.6 478.6,435.1 477.8,435.5 475.8,435.9 460.4,436.2 453.6,436.2 452.2,436 451.8,435.6 451.6,435.2 451.4,434.6 451.4,434.3 451.2,432.7 450.9,430.6 450.7,428.1 450.5,427 450.4,427 450.3,428.1 449.9,431.7 449.8,432.7 449.6,434.3 449.4,435 449.2,435.6 449,435.8 448.5,436 447.2,436.1 446,435.7 445.1,435.2 444.6,434.4 444.3,433.6 444.1,432.9 443.9,432.1 443.7,430.9 443.5,429.1 443.5,428.2 443.4,425.8 443.2,419.5 443,407.1 443,405.1 442.8,385.3 442.6,354 442.5,323.9 442.5,320.6 442.3,304.5 442.1,320.6 442,342.4 441.9,354.1 441.7,385.4 441.6,407.1 441.5,413.6 441.4,419.6 441.2,426 441,429.2 441,429.7 440.8,431 440.7,432.2 440.5,433.1 440.3,433.8 440.1,434.3 439.8,435 439.2,435.7 438.5,436.2 437,436.7 434.5,437.1 422.1,438.1 419,438.1 417.9,437.8 417.3,437.3 417,436.7 416.8,436.1 416.6,435.1 416.6,434.8 416.4,433 416.3,429 416.1,422.5 416.1,422 415.9,411.9 415.7,401.2 415.6,396.4 415.5,396 415.4,401.2 415.1,417.4 415,422.1 414.8,429.2 414.7,433.2 414.6,433.9 414.5,435.3 414.3,436.3 414.1,436.9 413.8,437.6 413.4,438 412.7,438.5 411.1,438.9 403.7,440 390.7,441.8 380.3,443.7 370.8,445.9"/>
<polyline fill="none" stroke="#ff0000" stroke-width="1.6" stroke-linejoin="round" points="370.8,444.9 380.3,442.7 390.7,440.8 403.7,439 411.1,438 412.7,437.5 413.4,437.1 413.8,436.7 414.1,436 414.3,435.4 414.5,434.3 414.6,433 414.7,432.2 414.8,428.2 415,421.2 415.1,416.4 415.4,400.2 415.5,395 415.6,395.4 415.7,400.2 415.9,411 416.1,421.1 416.1,421.5 416.3,428.1 416.4,432.1 416.6,433.9 416.6,434.1 416.8,435.1 417,435.7 417.3,436.3 417.9,436.8 419,437.1 422.1,437.1 434.5,436.1 437,435.7 438.5,435.2 439.2,434.7 439.8,434 440.1,433.3 440.3,432.8 440.5,432.1 440.7,431.3 440.8,430.1 441,428.7 441,428.2 441.2,425 441.4,418.6 441.5,412.7 441.6,406.1 441.7,384.4 441.9,353.1 442,341.4 442.1,319.6 442.3,303.5 442.5,319.6 442.5,322.9 442.6,353.1 442.8,384.4 443,404.2 443,406.1 443.2,418.5 443.4,424.9 443.5,427.2 443.5,428.1 443.7,429.9 443.9,431.1 444.1,432 444.3,432.6 444.6,433.5 445.1,434.2 446,434.8 447.2,435.1 448.5,435 449,434.8 449.2,434.6 449.4,434 449.6,433.3 449.8,431.7 449.9,430.7 450.3,427.1 450.4,426.1 450.5,426 450.7,427.1 450.9,429.6 451.2,431.8 451.4,433.3 451.4,433.7 451.6,434.2 451.8,434.6 452.2,435 453.6,435.3 460.4,435.3 475.8,434.9 477.8,434.6 478.6,434.1 479.1,433.6 479.3,432.9 479.5,431.8 479.7,429.5 479.8,428.3 480,425.5 480.2,419.7 480.3,415.6 480.4,413.5 480.6,410.5 480.8,413 480.8,413.5 481,419.7 481.3,425.5 481.3,426.3 481.5,429.5 481.7,431.8 481.8,432.4 481.9,433 482.1,433.6 482.6,434.1 483.5,434.6 485.3,434.8 497.2,435 527,435 529.6,434.8 530.3,434.5 530.6,434.3 530.9,433.9 531.2,433.1 531.4,431.6 531.6,430.6 532,427.3 532.1,426.8 532.3,426.2 532.6,427.4 533.1,431.3 533.4,433.1 533.7,433.9 534.1,434.4 534.8,434.7 537.3,434.9 544,434.8 546.3,434.5 547.3,434.1 547.8,433.7 548.1,433.3 548.4,432.5 548.5,431.8 548.6,431.1 548.9,428.4 549,426.1 549.1,423.6 549.4,416.7 549.5,413.2 549.6,409.3 549.9,405.8 550,406.4 550.2,409.3 550.5,419 550.7,423.6 550.9,428.4 551,429.2 551.2,431.1 551.5,432.5 551.7,433.2 552,433.6 552.8,434.2 554,434.6 557.5,434.7 568.9,434.6 572.9,434.2 574.4,433.8 575.3,433.3 575.6,433 575.9,432.3 576.1,431.6 576.4,429.9 576.7,426.6 576.9,422.3 576.9,420.8 577.2,412.5 577.4,407.2 577.5,403.6 577.8,399.3 577.9,399.9 578.1,403.6 578.4,413.8 578.6,420.8 578.9,426.2 578.9,426.5 579.2,429.9 579.4,431.2 579.5,431.5 579.7,432.4 580,432.9 580.6,433.4 581.7,433.9 583.9,434.2 592.3,434.2 616.7,433.8 617.9,433.6 618.7,433.2 619.9,432.1 620.4,431.8 620.9,432 621.9,433 622.7,433.5 624.2,433.7 630.9,433.6 632.6,433.4 633.2,433.1 633.7,432.5 634.1,431.3 634.7,429 634.8,428.7 635.1,428.3 635.2,428.4 635.4,428.9 636.1,431.6 636.5,432.4 636.8,432.9 637.2,433.2 638.2,433.4 639.1,433.2 639.6,432.8 640.6,431.6 640.8,431.5 641.2,431.8 642.1,432.9 642.8,433.4 644.4,433.6 656.2,433.6 658,433.4 658.6,433.1 659,432.7 659.8,431.5 660,431.3 660.2,431.2 660.6,431.5 661.5,432.8 662,433.2 663,433.5 664.2,433.6"/>
<polyline fill="none" stroke="#2468d8" stroke-width="1" stroke-linejoin="round" points="370.3,493 370.4,489.5 370.6,490.9 370.7,490.7 370.9,492.8 371,489.9 371.2,490.9 371.3,493.2 371.5,492.1 371.6,490.8 371.8,493.6 371.9,489.7 372.1,491.9 372.2,491 372.4,491.9 372.5,491 372.7,490.3 372.8,491.6 373,489.7 373.1,492 373.3,490.9 373.4,492.5 373.6,490.8 373.7,490.5 373.9,491.8 374,492.8 374.2,488.8 374.3,491.5 374.5,492.1 374.6,489.6 374.8,490.2 374.9,492.1 375.1,490.3 375.2,490.5 375.4,493.4 375.5,490.2 375.7,490.3 375.8,488.5 376,490 376.1,489.8 376.3,493.4 376.4,492.8 376.6,489.8 376.7,493.7 376.9,492.3 377,491.1 377.2,492.3 377.3,491.8 377.5,490.4 377.6,489.1 377.8,490.2 377.9,491.3 378.1,490.9 378.2,490.4 378.4,492.5 378.5,490 378.7,492.4 378.8,490.7 379,491.4 379.1,489.9 379.3,491.3 379.4,490.3 379.6,489.2 379.7,491.3 379.9,491.2 380,492.3 380.2,491.7 380.3,490.1 380.5,490.6 380.6,488.2 380.8,489.9 380.9,492.9 381.1,493.2 381.2,492.2 381.4,491.7 381.5,492 381.6,491.9 381.8,489.2 381.9,490.2 382.1,492.8 382.2,492.8 382.4,491.6 382.5,490.9 382.7,490.8 382.8,490.6 383,490.2 383.1,488.9 383.3,491.5 383.4,490.7 383.6,491 383.7,493.4 383.9,492 384,490.4 384.2,492 384.3,489.5 384.5,492.6 384.6,491.6 384.8,491.1 384.9,492 385.1,493.1 385.2,490.7 385.4,490.1 385.5,493.9 385.7,491.3 385.8,493.2 386,490.5 386.1,491.8 386.3,490.5 386.4,492.1 386.6,491 386.7,490.5 386.9,493.2 387,491.7 387.2,488.8 387.3,491 387.5,490.2 387.6,489.8 387.8,490.6 387.9,490.7 388.1,491.3 388.2,490.3 388.4,489 388.5,490.6 388.7,492.4 388.8,489.6 389,492.1 389.1,491.9 389.3,490.7 389.4,491.7 389.6,490.4 389.7,490.8 389.9,490 390,491.9 390.2,493 390.3,490.5 390.5,492.8 390.6,488.7 390.8,490.2 390.9,490 391.1,493.4 391.2,490.6 391.4,492.3 391.5,488.8 391.7,491.4 391.8,492 392,491.3 392.1,487.9 392.3,491.5 392.4,492.3 392.6,492.9 392.7,491.8 392.9,489.2 393,491 393.1,492.4 393.3,490.3 393.4,492 393.6,490.7 393.7,491.4 393.9,492.2 394,490.4 394.2,494.9 394.3,491.5 394.5,491.7 394.6,490.4 394.8,491.4 394.9,491 395.1,489.5 395.2,489.4 395.4,491.7 395.5,491.2 395.7,488 395.8,488.6 396,490.9 396.1,491.2 396.3,492.1 396.4,489.8 396.6,492 396.7,490.9 396.9,490.7 397,491.1 397.2,492.5 397.3,492 397.5,492.4 397.6,490.4 397.8,490.9 397.9,489.8 398.1,490.6 398.2,490.8 398.4,490.7 398.5,492.2 398.7,491.8 398.8,492.2 399,491.5 399.1,492.6 399.3,491.4 399.4,492.5 399.6,491.9 399.7,492.2 399.9,491.2 400,489.8 400.2,489.5 400.3,493.7 400.5,491.8 400.6,491.9 400.8,491.1 400.9,490.7 401.1,494.9 401.2,489.9 401.4,491.2 401.5,491.2 401.7,489.9 401.8,489.7 402,490.4 402.1,490.9 402.3,490.7 402.4,492.3 402.6,489.8 402.7,491.8 402.9,493.1 403,492.4 403.2,489.9 403.3,487.6 403.5,492.4 403.6,491.9 403.8,490.6 403.9,492.9 404.1,490.8 404.2,491.4 404.3,490 404.5,491.7 404.6,490.8 404.8,490.7 404.9,492.6 405.1,491.6 405.2,489.4 405.4,492.2 405.5,492.3 405.7,490.3 405.8,490.8 406,491.4 406.1,491 406.3,491.5 406.4,492.1 406.6,490.7 406.7,493.9 406.9,490.4 407,490.6 407.2,493.8 407.3,494.3 407.5,491.3 407.6,491.1 407.8,490 407.9,492.7 408.1,491.5 408.2,490.2 408.4,491.8 408.5,493 408.7,492.2 408.8,494.1 409,492.7 409.1,491.9 409.3,491.3 409.4,492 409.6,492.8 409.7,492.4 409.9,492.6 410,491.6 410.2,492.3 410.3,492.8 410.5,491.1 410.6,489.7 410.8,493.5 410.9,492 411.1,490.8 411.2,491.6 411.4,491 411.5,489.2 411.7,491.1 411.8,489.5 412,491.6 412.1,491.2 412.3,492.7 412.4,491.1 412.6,491.8 412.7,490.9 412.9,490.8 413,489.6 413.2,492.5 413.3,491.5 413.5,490.6 413.6,491.6 413.8,490.8 413.9,490.4 414.1,491.6 414.2,492.8 414.4,491.1 414.5,489.8 414.7,491.3 414.8,495.4 415,493.6 415.1,497.4 415.3,495.8 415.4,495.4 415.6,491.1 415.7,486.2 415.8,486 416,489.3 416.1,487.9 416.3,490.2 416.4,490.1 416.6,490.8 416.7,491.6 416.9,491.9 417,494.1 417.2,491.3 417.3,491.1 417.5,490.5 417.6,489.7 417.8,489.3 417.9,492.1 418.1,489 418.2,493.1 418.4,492.4 418.5,490.9 418.7,489.9 418.8,491.3 419,491.3 419.1,492.7 419.3,490.4 419.4,490.8 419.6,491.2 419.7,491 419.9,490.5 420,489.2 420.2,489.3 420.3,490.5 420.5,491 420.6,492.6 420.8,494.2 420.9,493.4 421.1,491.8 421.2,493.7 421.4,491.2 421.5,490.6 421.7,494.2 421.8,490 422,490.8 422.1,491 422.3,493.1 422.4,490.6 422.6,492.3 422.7,490.8 422.9,489.8 423,491.6 423.2,491.5 423.3,489.9 423.5,490.2 423.6,490.3 423.8,492.5 423.9,491.9 424.1,491.6 424.2,491.9 424.4,490.7 424.5,491.9 424.7,490.6 424.8,489.6 425,490.4 425.1,491.6 425.3,491.4 425.4,492.6 425.6,489.2 425.7,491 425.9,491.8 426,490.1 426.2,491.6 426.3,490.8 426.5,489.9 426.6,492.7 426.8,489.6 426.9,492.6 427,490.8 427.2,490.1 427.3,490.2 427.5,490.4 427.6,490.2 427.8,491.6 427.9,489 428.1,492.9 428.2,492.4 428.4,493 428.5,490.1 428.7,488.4 428.8,490.5 429,491.1 429.1,491.7 429.3,490.7 429.4,491.2 429.6,491.5 429.7,489.4 429.9,493.6 430,489.9 430.2,491.6 430.3,492.7 430.5,490.3 430.6,491.3 430.8,493.4 430.9,491 431.1,492.6 431.2,491.7 431.4,491.6 431.5,492.2 431.7,491 431.8,491.1 432,492.5 432.1,491.6 432.3,491.9 432.4,489.8 432.6,491.3 432.7,492.8 432.9,492.4 433,491.7 433.2,490.7 433.3,490.6 433.5,491.9 433.6,493.1 433.8,491.4 433.9,492.9 434.1,490.9 434.2,492.8 434.4,490.1 434.5,491.6 434.7,490 434.8,492.1 435,492 435.1,490.1 435.3,490.4 435.4,490.8 435.6,489.5 435.7,490.2 435.9,490.2 436,492.3 436.2,493 436.3,490.8 436.5,491 436.6,491.6 436.8,490.7 436.9,491 437.1,492.4 437.2,491.6 437.4,491.2 437.5,490.6 437.7,493.2 437.8,490.6 438,491.5 438.1,490 438.2,490.6 438.4,491.4 438.5,490.8 438.7,492 438.8,491.4 439,489.6 439.1,488.4 439.3,492.6 439.4,490.6 439.6,493.2 439.7,491.3 439.9,490.4 440,492 440.2,491 440.3,491.3 440.5,490.2 440.6,492.1 440.8,492.7 440.9,490.7 441.1,493.5 441.2,490.6 441.4,491.5 441.5,488.8 441.7,487.1 441.8,489.1 442,483.4 442.1,478 442.3,472.5 442.4,478.6 442.6,488.1 442.7,499.2 442.9,505.9 443,502.1 443.2,496.9 443.3,491.5 443.5,491.2 443.6,491.8 443.8,490.3 443.9,491 444.1,490.8 444.2,491.3 444.4,492.5 444.5,491.6 444.7,491.8 444.8,489.5 445,490.9 445.1,492.3 445.3,490.2 445.4,490.8 445.6,490.1 445.7,493 445.9,490.7 446,490.4 446.2,492.1 446.3,492.7 446.5,491.9 446.6,492.5 446.8,491.6 446.9,491.2 447.1,490.8 447.2,490.7 447.4,490.6 447.5,491.8 447.7,491.2 447.8,491.4 448,492.1 448.1,491.2 448.3,489.6 448.4,490.3 448.6,489.9 448.7,488.9 448.9,491.4 449,489.8 449.2,489.7 449.3,490 449.5,492.4 449.6,490.9 449.7,492.6 449.9,491.2 450,490.8 450.2,492 450.3,492.1 450.5,491.5 450.6,490 450.8,490.7 450.9,489.8 451.1,491 451.2,491.4 451.4,493.2 451.5,493.1 451.7,492.2 451.8,492.5 452,491.6 452.1,494.8 452.3,493.2 452.4,494.6 452.6,491.8 452.7,491.8 452.9,492.6 453,491.5 453.2,491.7 453.3,490.1 453.5,492.5 453.6,491.5 453.8,492.3 453.9,491 454.1,489.1 454.2,491.9 454.4,492.8 454.5,489.7 454.7,490.1 454.8,490.9 455,491 455.1,489.2 455.3,493.5 455.4,492.6 455.6,490.5 455.7,489 455.9,491.8 456,493.8 456.2,492.3 456.3,492.7 456.5,490.1 456.6,491.6 456.8,489.4 456.9,493.8 457.1,492 457.2,488.7 457.4,489 457.5,491.9 457.7,491.5 457.8,490.9 458,492.1 458.1,493.8 458.3,491.8 458.4,489 458.6,491.1 458.7,489.7 458.9,490.3 459,491.7 459.2,491.1 459.3,490 459.5,491.3 459.6,490.3 459.8,492 459.9,491 460.1,491.8 460.2,491 460.4,492.2 460.5,491.1 460.7,491.3 460.8,490.6 460.9,491.5 461.1,489.1 461.2,494.6 461.4,490.4 461.5,491.4 461.7,490.7 461.8,490.7 462,491.8 462.1,490.6 462.3,490.8 462.4,489.6 462.6,490.1 462.7,489.8 462.9,493.5 463,489.6 463.2,489.9 463.3,491.5 463.5,493.1 463.6,489.2 463.8,489.3 463.9,491.4 464.1,491.7 464.2,489.5 464.4,489 464.5,490.1 464.7,492.2 464.8,491.2 465,492.2 465.1,491.1 465.3,491.2 465.4,492 465.6,491.1 465.7,491.6 465.9,490.1 466,490.5 466.2,491.9 466.3,491 466.5,490.3 466.6,492.1 466.8,492 466.9,491.3 467.1,490.3 467.2,492.4 467.4,494.4 467.5,490.2 467.7,489.3 467.8,490.3 468,490.1 468.1,489.7 468.3,489.8 468.4,492.3 468.6,492.3 468.7,493.1 468.9,492.2 469,490.7 469.2,492.6 469.3,490.5 469.5,490.8 469.6,489.8 469.8,492.8 469.9,492.5 470.1,490.7 470.2,490.9 470.4,491.3 470.5,491.5 470.7,492.3 470.8,491.4 471,491.8 471.1,489.4 471.3,490.9 471.4,489 471.6,493.5 471.7,493 471.9,492.2 472,492.7 472.1,493.8 472.3,492.4 472.4,489.3 472.6,491 472.7,488.3 472.9,490.2 473,489.7 473.2,491.3 473.3,491.7 473.5,490.1 473.6,490.9 473.8,491.6 473.9,491.1 474.1,491 474.2,488.3 474.4,490.7 474.5,492.2 474.7,491.6 474.8,489.4 475,490.9 475.1,491.6 475.3,490 475.4,492.1 475.6,490.3 475.7,490.8 475.9,491.1 476,494 476.2,490.9 476.3,490.5 476.5,492.1 476.6,490.7 476.8,491.5 476.9,488.4 477.1,491.6 477.2,491.2 477.4,489.6 477.5,492.9 477.7,491 477.8,491 478,489.6 478.1,489.2 478.3,490.5 478.4,489.4 478.6,491.9 478.7,492.3 478.9,490.5 479,489.2 479.2,490.8 479.3,489.9 479.5,491.5 479.6,491.4 479.8,490.6 479.9,491.1 480.1,492 480.2,492.3 480.4,489 480.5,490.2 480.7,489 480.8,488.2 481,491.6 481.1,491 481.3,491.1 481.4,491.5 481.6,491 481.7,489.9 481.9,493.5 482,492.4 482.2,491.6 482.3,492.5 482.5,492.9 482.6,491 482.8,492 482.9,490.8 483.1,492.1 483.2,490.9 483.4,494.3 483.5,490.8 483.6,491.9 483.8,491.8 483.9,490.8 484.1,492.4 484.2,491.1 484.4,490.7 484.5,491.2 484.7,490.3 484.8,492.7 485,492 485.1,492.5 485.3,489.6 485.4,491.6 485.6,490.3 485.7,491.4 485.9,492.8 486,491.6 486.2,491 486.3,492.6 486.5,492.5 486.6,493.6 486.8,488.9 486.9,491.7 487.1,490.7 487.2,490.2 487.4,491.4 487.5,489.8 487.7,488.5 487.8,490.1 488,490.9 488.1,493.6 488.3,490.3 488.4,489.8 488.6,488.8 488.7,490.8 488.9,490.9 489,491.4 489.2,489.4 489.3,490.3 489.5,488.4 489.6,491.5 489.8,489.3 489.9,487.8 490.1,492.7 490.2,491.9 490.4,491.7 490.5,491.7 490.7,490 490.8,492.6 491,489.9 491.1,493.6 491.3,491.5 491.4,488.9 491.6,492.3 491.7,493.7 491.9,490.9 492,492.6 492.2,491 492.3,490.5 492.5,488 492.6,492.8 492.8,490.7 492.9,491.7 493.1,489.8 493.2,490.1 493.4,492.6 493.5,490.8 493.7,490.7 493.8,489.7 494,491.5 494.1,492.2 494.3,490.7 494.4,491 494.6,489.7 494.7,493 494.8,490.5 495,491.1 495.1,493.4 495.3,491 495.4,489.3 495.6,490.1 495.7,490.8 495.9,493.5 496,491.5 496.2,491 496.3,492.3 496.5,492.9 496.6,490.3 496.8,493.1 496.9,492.3 497.1,491.8 497.2,488.3 497.4,491.5 497.5,493 497.7,490.9 497.8,494.2 498,491.4 498.1,490 498.3,492 498.4,491.6 498.6,492.3 498.7,491 498.9,492.9 499,490.6 499.2,491.4 499.3,489.7 499.5,490.3 499.6,491.5 499.8,490.4 499.9,490.7 500.1,491 500.2,491.6 500.4,492.2 500.5,492.2 500.7,492.6 500.8,491.5 501,490.6 501.1,489.3 501.3,490.8 501.4,490.3 501.6,489 501.7,493.3 501.9,488.9 502,491.7 502.2,492 502.3,491 502.5,494.5 502.6,491.3 502.8,490.3 502.9,493.5 503.1,490.3 503.2,489.5 503.4,490 503.5,490.5 503.7,491.3 503.8,491.7 504,489.3 504.1,491.7 504.3,494.1 504.4,490.4 504.6,491.1 504.7,492.2 504.9,492.8 505,490.4 505.2,490.1 505.3,490 505.5,492.7 505.6,492.4 505.8,488.5 505.9,488.6 506.1,489.7 506.2,489.4 506.3,491.8 506.5,491.6 506.6,493.8 506.8,492.3 506.9,491.4 507.1,492.8 507.2,490.1 507.4,489.5 507.5,491.3 507.7,492.5 507.8,489.2 508,492.4 508.1,492.4 508.3,490.6 508.4,491.5 508.6,490.9 508.7,491.4 508.9,492.3 509,490.3 509.2,492.6 509.3,492.4 509.5,492.4 509.6,488.8 509.8,488.9 509.9,492.2 510.1,490.5 510.2,490.4 510.4,490.3 510.5,489.6 510.7,490.9 510.8,490.4 511,490.4 511.1,491.9 511.3,489.8 511.4,492.7 511.6,488.4 511.7,494.5 511.9,489.5 512,492 512.2,492.4 512.3,491.3 512.5,492.2 512.6,491.1 512.8,489 512.9,491.7 513.1,492.7 513.2,490.6 513.4,489.1 513.5,490.5 513.7,491.7 513.8,491.7 514,492.7 514.1,492 514.3,491.9 514.4,488.7 514.6,494.1 514.7,491.3 514.9,492.4 515,490.8 515.2,491.1 515.3,491.3 515.5,493.3 515.6,493.2 515.8,492.1 515.9,493.8 516.1,490.8 516.2,491.9 516.4,490.7 516.5,492.9 516.7,491.3 516.8,492.5 517,493.5 517.1,488.6 517.3,494 517.4,491.7 517.5,490.9 517.7,488.8 517.8,490.9 518,488.3 518.1,491.4 518.3,491.1 518.4,493.6 518.6,490.9 518.7,492.7 518.9,492.8 519,493.9 519.2,491 519.3,492.3 519.5,489.3 519.6,489.9 519.8,490.9 519.9,491.3 520.1,489.7 520.2,490.8 520.4,492.2 520.5,490.7 520.7,491.1 520.8,490.1 521,493.1 521.1,493.6 521.3,491.6 521.4,491.1 521.6,493.4 521.7,491.9 521.9,490.4 522,489.6 522.2,490.5 522.3,494.1 522.5,490.5 522.6,495 522.8,491.3 522.9,491 523.1,493 523.2,491 523.4,491.8 523.5,490 523.7,489.7 523.8,490.3 524,491.6 524.1,490.4 524.3,488.8 524.4,491.9 524.6,491.1 524.7,490.9 524.9,490.5 525,488.4 525.2,493.3 525.3,490.7 525.5,492 525.6,493.1 525.8,492.7 525.9,491.6 526.1,491.3 526.2,491.7 526.4,492.5 526.5,492 526.7,490.7 526.8,491.9 527,491.8 527.1,492.2 527.3,491.6 527.4,493.1 527.6,491.6 527.7,492.4 527.9,491.4 528,490.6 528.2,490.1 528.3,491.1 528.5,492 528.6,492.9 528.7,491.2 528.9,490.6 529,490.6 529.2,493 529.3,491.4 529.5,490.7 529.6,492.2 529.8,489.6 529.9,491.4 530.1,491.2 530.2,491.1 530.4,489.8 530.5,492.6 530.7,493.5 530.8,489.6 531,491.5 531.1,492.1 531.3,494.2 531.4,490.8 531.6,490.1 531.7,491.3 531.9,493.9 532,491.4 532.2,491.6 532.3,493.6 532.5,488.6 532.6,488.5 532.8,492.5 532.9,492.3 533.1,489.5 533.2,492 533.4,491.4 533.5,491.6 533.7,490.3 533.8,490.7 534,490.2 534.1,491.4 534.3,491 534.4,493.5 534.6,492.1 534.7,489.3 534.9,491.8 535,493.1 535.2,491.7 535.3,492.7 535.5,491.3 535.6,492.2 535.8,490.1 535.9,492.3 536.1,489.5 536.2,493 536.4,489.4 536.5,488.6 536.7,492 536.8,491.1 537,491.4 537.1,491.8 537.3,491.3 537.4,490.2 537.6,491.6 537.7,491.7 537.9,491.9 538,493.8 538.2,490.4 538.3,491.4 538.5,492 538.6,490.7 538.8,489.8 538.9,490.6 539.1,492.7 539.2,491 539.4,492.1 539.5,490.4 539.7,491.9 539.8,490.4 540,490.2 540.1,491.4 540.2,491.4 540.4,493.2 540.5,489.2 540.7,492 540.8,493.4 541,493 541.1,490.8 541.3,490.4 541.4,490.7 541.6,491.7 541.7,491.5 541.9,491.7 542,492.1 542.2,489.9 542.3,489.9 542.5,489.7 542.6,489.6 542.8,491.2 542.9,491.7 543.1,494.5 543.2,492 543.4,491.3 543.5,493.1 543.7,490.4 543.8,491.7 544,492.5 544.1,492.3 544.3,491.8 544.4,490.9 544.6,489.7 544.7,491.1 544.9,490.5 545,492.2 545.2,491.1 545.3,492 545.5,489.2 545.6,492.5 545.8,490.2 545.9,489.3 546.1,489.5 546.2,490.5 546.4,492.7 546.5,492.2 546.7,489.8 546.8,491.4 547,491.2 547.1,489.3 547.3,490 547.4,488.7 547.6,490.2 547.7,488 547.9,490.5 548,490.6 548.2,491.4 548.3,492 548.5,495.2 548.6,493.5 548.8,493.9 548.9,493.6 549.1,492.4 549.2,490.5 549.4,487.5 549.5,485.5 549.7,485 549.8,484.8 550,485.3 550.1,485.6 550.3,487.9 550.4,487.3 550.6,490.8 550.7,490.7 550.9,489.5 551,491.7 551.2,487.2 551.3,492.9 551.4,491.7 551.6,491.8 551.7,489.1 551.9,494.5 552,491 552.2,491.1 552.3,492.7 552.5,491.1 552.6,490.2 552.8,492.1 552.9,490 553.1,492.2 553.2,491.5 553.4,492.7 553.5,489.8 553.7,492.9 553.8,491.7 554,493.8 554.1,490.5 554.3,493.7 554.4,492.2 554.6,492.3 554.7,490.4 554.9,492 555,492.2 555.2,490.2 555.3,489.8 555.5,490.3 555.6,493.2 555.8,491.5 555.9,492.5 556.1,491.7 556.2,491.4 556.4,491.6 556.5,490.8 556.7,492.9 556.8,491.5 557,491.6 557.1,489.5 557.3,491.7 557.4,490.4 557.6,490.7 557.7,492.6 557.9,489.9 558,491 558.2,492.1 558.3,492.8 558.5,490.6 558.6,491.7 558.8,491.7 558.9,489.9 559.1,488.6 559.2,488.8 559.4,492.1 559.5,491.4 559.7,489.6 559.8,490.5 560,490.8 560.1,490.8 560.3,491.3 560.4,494.1 560.6,490.3 560.7,491.5 560.9,490.3 561,490.5 561.2,490.2 561.3,491 561.5,490.6 561.6,491.7 561.8,491.6 561.9,490.2 562.1,493.7 562.2,489.8 562.4,491.8 562.5,494.1 562.6,490.4 562.8,493 562.9,493.1 563.1,491.7 563.2,488.9 563.4,493.1 563.5,491.4 563.7,490.6 563.8,492.9 564,490.4 564.1,492.7 564.3,490.6 564.4,492 564.6,489.9 564.7,490.8 564.9,490.1 565,490.4 565.2,491.5 565.3,491.1 565.5,491.5 565.6,492.9 565.8,491.2 565.9,488.9 566.1,490.9 566.2,491.4 566.4,492.6 566.5,492.6 566.7,492.5 566.8,491 567,492.1 567.1,489.5 567.3,492.9 567.4,491.9 567.6,491.9 567.7,490.8 567.9,491.4 568,490.4 568.2,492 568.3,489.6 568.5,492.5 568.6,492 568.8,493.9 568.9,491.2 569.1,491.2 569.2,491.5 569.4,491.3 569.5,491.2 569.7,489.9 569.8,489.9 570,490.6 570.1,490.9 570.3,489.8 570.4,489.8 570.6,490.9 570.7,492.2 570.9,491.1 571,492.2 571.2,492.5 571.3,492.3 571.5,490.8 571.6,490.8 571.8,488.9 571.9,490.4 572.1,491.9 572.2,489.9 572.4,493 572.5,493.1 572.7,490.8 572.8,492.5 573,489.5 573.1,490 573.3,490.8 573.4,491.3 573.6,491.1 573.7,490.2 573.9,493.8 574,491.7 574.1,491.7 574.3,492.2 574.4,491.5 574.6,491 574.7,490.6 574.9,489.2 575,493.2 575.2,490.1 575.3,489.2 575.5,490.3 575.6,489.4 575.8,494.2 575.9,492.5 576.1,494.4 576.2,495.2 576.4,494.6 576.5,494.6 576.7,492.3 576.8,491.9 577,489.6 577.1,488.7 577.3,486.2 577.4,487.4 577.6,485.8 577.7,484.2 577.9,482.3 578,485.9 578.2,487.2 578.3,487.1 578.5,486.8 578.6,489.9 578.8,491.5 578.9,488.2 579.1,491.7 579.2,488.8 579.4,491.3 579.5,493.5 579.7,491.4 579.8,491.9 580,490.9 580.1,491.3 580.3,494.3 580.4,493 580.6,490.9 580.7,490.8 580.9,491.3 581,494.1 581.2,491.6 581.3,492.7 581.5,490.8 581.6,489.7 581.8,493 581.9,491.2 582.1,490.3 582.2,490.4 582.4,490.4 582.5,490.5 582.7,489.3 582.8,492.8 583,491.8 583.1,492.5 583.3,490.9 583.4,491.7 583.6,491.5 583.7,492.8 583.9,492.3 584,491.8 584.2,490.5 584.3,489.8 584.5,490.3 584.6,490.5 584.8,490.6 584.9,489.7 585.1,493.4 585.2,491.6 585.3,488.7 585.5,489.9 585.6,489.6 585.8,491.6 585.9,492.7 586.1,490 586.2,492.1 586.4,490.9 586.5,492.8 586.7,493 586.8,491.7 587,492.2 587.1,491.3 587.3,490.8 587.4,489.8 587.6,491.7 587.7,491.2 587.9,490.8 588,491.2 588.2,491.1 588.3,490 588.5,490.6 588.6,492.7 588.8,491 588.9,493.1 589.1,489.8 589.2,489.6 589.4,491.5 589.5,492.3 589.7,490.5 589.8,492.1 590,492.5 590.1,492.7 590.3,491.2 590.4,491.2 590.6,489.2 590.7,491.3 590.9,491.7 591,493.1 591.2,489.7 591.3,490.2 591.5,490 591.6,492.4 591.8,488.1 591.9,489.9 592.1,493.9 592.2,492.1 592.4,489.6 592.5,491.2 592.7,492.4 592.8,492 593,491 593.1,490.3 593.3,492.4 593.4,491.3 593.6,492.3 593.7,491.8 593.9,490.7 594,493.1 594.2,490.7 594.3,491.8 594.5,490.5 594.6,491 594.8,491 594.9,490.5 595.1,491.6 595.2,493 595.4,493.6 595.5,493.1 595.7,491.1 595.8,493.1 596,491.8 596.1,493.6 596.3,489.7 596.4,493.2 596.6,490.5 596.7,492.8 596.8,490.7 597,492.5 597.1,490.9 597.3,488.9 597.4,490.1 597.6,491 597.7,491.3 597.9,488.5 598,489.8 598.2,490.4 598.3,491 598.5,491.6 598.6,490.3 598.8,489.4 598.9,491.7 599.1,490.9 599.2,492.4 599.4,490.6 599.5,492.1 599.7,490.2 599.8,491.6 600,491.4 600.1,491.9 600.3,490.1 600.4,491.1 600.6,490.2 600.7,491.1 600.9,492.1 601,495.1 601.2,491.3 601.3,492.2 601.5,491.4 601.6,492.7 601.8,491.9 601.9,492.6 602.1,491.7 602.2,494.3 602.4,493 602.5,489.2 602.7,491.7 602.8,491.4 603,488.5 603.1,490.2 603.3,490.7 603.4,490.4 603.6,491.5 603.7,489 603.9,492.2 604,492.3 604.2,491.7 604.3,490.9 604.5,491.3 604.6,490.7 604.8,492.7 604.9,491.9 605.1,493.8 605.2,490.8 605.4,493.1 605.5,490.6 605.7,491.1 605.8,490 606,492 606.1,491.2 606.3,492.1 606.4,493.2 606.6,491.2 606.7,491.8 606.9,492.4 607,491.2 607.2,490.6 607.3,491.8 607.5,491.9 607.6,492.3 607.8,492.4 607.9,490.5 608,491.9 608.2,492.9 608.3,490.7 608.5,491.8 608.6,490.5 608.8,491.5 608.9,493.5 609.1,491.5 609.2,490.1 609.4,491.7 609.5,491.6 609.7,492.7 609.8,489.6 610,490.2 610.1,491.2 610.3,489.4 610.4,492.7 610.6,488.8 610.7,490.3 610.9,489.5 611,490.5 611.2,492.3 611.3,492.1 611.5,492.5 611.6,492.1 611.8,488.8 611.9,491.7 612.1,489 612.2,490.7 612.4,490.8 612.5,490.6 612.7,491.9 612.8,490.3 613,493.5 613.1,492.1 613.3,492.8 613.4,492.3 613.6,492.4 613.7,491.3 613.9,493.8 614,490 614.2,491.9 614.3,491.3 614.5,491 614.6,491.7 614.8,490.4 614.9,492.4 615.1,492.3 615.2,491.4 615.4,492.2 615.5,490 615.7,489 615.8,490.6 616,491 616.1,494.4 616.3,491 616.4,492.6 616.6,492.4 616.7,494 616.9,491.5 617,492.1 617.2,491.1 617.3,490.2 617.5,490.1 617.6,490.3 617.8,493.1 617.9,491.7 618.1,491.1 618.2,491.3 618.4,490.6 618.5,491.3 618.7,491.3 618.8,492.1 619,492.5 619.1,489.3 619.2,491.6 619.4,493 619.5,490 619.7,491 619.8,491.5 620,492.7 620.1,492.1 620.3,491 620.4,491.9 620.6,492.6 620.7,491.8 620.9,493.6 621,491.8 621.2,490 621.3,490.3 621.5,491.1 621.6,491.1 621.8,492.1 621.9,491.8 622.1,493.5 622.2,492.3 622.4,493.2 622.5,490.4 622.7,490.8 622.8,492.2 623,491.4 623.1,492.1 623.3,491.6 623.4,490.5 623.6,493.4 623.7,492.7 623.9,489.4 624,490.5 624.2,491.3 624.3,492.2 624.5,491.2 624.6,489.6 624.8,492.4 624.9,491.1 625.1,492.8 625.2,491.7 625.4,492.6 625.5,492.4 625.7,492.4 625.8,490.7 626,492.6 626.1,491.6 626.3,489.8 626.4,490.8 626.6,490.9 626.7,491.9 626.9,492.2 627,489.9 627.2,492.2 627.3,491.2 627.5,490 627.6,492.4 627.8,490.4 627.9,489.8 628.1,492.3 628.2,492.5 628.4,490.5 628.5,492.6 628.7,492.6 628.8,490.7 629,493.8 629.1,491.3 629.3,491.6 629.4,488.4 629.6,492.1 629.7,490.6 629.9,491.9 630,489.2 630.2,492.8 630.3,493.2 630.5,493.7 630.6,487.6 630.7,492.1 630.9,491.8 631,487.6 631.2,490.4 631.3,491.2 631.5,493.1 631.6,490.3 631.8,491.6 631.9,491.3 632.1,491.8 632.2,490.8 632.4,492.5 632.5,492.6 632.7,489.6 632.8,492.7 633,490.4 633.1,491 633.3,492.8 633.4,491.5 633.6,492.1 633.7,492.3 633.9,492.1 634,490.7 634.2,490.2 634.3,492.2 634.5,492.3 634.6,491.8 634.8,491.1 634.9,492.4 635.1,491.3 635.2,489.7 635.4,491.7 635.5,492 635.7,492.3 635.8,490.2 636,490.4 636.1,491.8 636.3,490.8 636.4,491.3 636.6,492.5 636.7,491.9 636.9,493.6 637,491.7 637.2,493.5 637.3,492.7 637.5,494.5 637.6,491.4 637.8,491.3 637.9,493 638.1,490.7 638.2,490.8 638.4,491.7 638.5,491.9 638.7,489.6 638.8,491.7 639,491 639.1,491.4 639.3,491.6 639.4,491.2 639.6,492.7 639.7,492 639.9,491.2 640,491.5 640.2,492.7 640.3,492.4 640.5,493 640.6,491.2 640.8,491.6 640.9,493.9 641.1,491.4 641.2,493.5 641.4,492.5 641.5,490.9 641.7,489.7 641.8,492.2 641.9,490.5 642.1,490.5 642.2,489.3 642.4,492.9 642.5,491.6 642.7,491.5 642.8,491.9 643,491.7 643.1,491.5 643.3,492.1 643.4,491.1 643.6,488.2 643.7,492.3 643.9,492 644,491.5 644.2,493.4 644.3,489.7 644.5,487.8 644.6,493.3 644.8,491.9 644.9,489.4 645.1,490.9 645.2,492.2 645.4,489.9 645.5,492.1 645.7,494.1 645.8,493.2 646,491.4 646.1,491.8 646.3,490.3 646.4,491.6 646.6,491 646.7,490.2 646.9,489.8 647,493.8 647.2,491.5 647.3,490.2 647.5,490.9 647.6,493.3 647.8,493.4 647.9,490.7 648.1,491.7 648.2,492.5 648.4,491 648.5,490 648.7,490.2 648.8,491.4 649,490.5 649.1,489.8 649.3,491.1 649.4,492.6 649.6,492.3 649.7,491.1 649.9,493.8 650,490.5 650.2,491.3 650.3,489.7 650.5,492.4 650.6,491.3 650.8,489.3 650.9,490.4 651.1,493.7 651.2,492.3 651.4,491.6 651.5,492.5 651.7,489.4 651.8,490.4 652,489.8 652.1,490.4 652.3,490.9 652.4,492.1 652.6,492.7 652.7,492.6 652.9,494.8 653,490.8 653.1,491.4 653.3,492.1 653.4,490.4 653.6,491.1 653.7,491.9 653.9,490.3 654,492 654.2,492.9 654.3,490 654.5,488.6 654.6,491.5 654.8,490.1 654.9,491.6 655.1,490.9 655.2,491.8 655.4,492.8 655.5,492.4 655.7,491 655.8,490 656,488.3 656.1,488.7 656.3,490.4 656.4,491.5 656.6,490.6 656.7,490.7 656.9,489.4 657,489.3 657.2,489.3 657.3,492.2 657.5,488.9 657.6,492.2 657.8,490.3 657.9,492 658.1,491.7 658.2,492.3 658.4,492.8 658.5,490.4 658.7,490.1 658.8,490.8 659,490.4 659.1,492.2 659.3,491.2 659.4,491.3 659.6,491.8 659.7,490.7 659.9,492.7 660,489 660.2,491.6 660.3,491.9 660.5,490.4 660.6,490.5 660.8,492.4 660.9,490.9 661.1,488.9 661.2,489.6 661.4,492.6 661.5,490.2 661.7,492.9 661.8,493 662,491.1 662.1,492 662.3,490.3 662.4,490.8 662.6,490.4 662.7,492 662.9,489.7 663,491.1 663.2,491.4 663.3,491.9 663.5,488.7 663.6,489.1 663.8,490.2 663.9,491 664.1,491.5"/>
</g>
<path d="M415.5 461.5V466.7M442.3 461.5V466.7M450.5 461.5V466.7M480.6 461.5V466.7M501.2 461.5V466.7M532.3 461.5V466.7M549.9 461.5V466.7M577.8 461.5V466.7M594.4 461.5V466.7M600 461.5V466.7M620.4 461.5V466.7M635.1 461.5V466.7M640.8 461.5V466.7M660.2 461.5V466.7" stroke="#48a648" stroke-width="1.4" fill="none"/>
<path d="M390.4 505.1V502.7M415.3 505.1V500.9M440.2 505.1V502.7M465.1 505.1V500.9M490 505.1V502.7M514.9 505.1V500.9M539.8 505.1V502.7M564.6 505.1V500.9M589.5 505.1V502.7M614.4 505.1V500.9M639.3 505.1V502.7" stroke="#000" stroke-width="1.3" fill="none"/>
<rect x="370.3" y="277.7" width="293.9" height="227.4" fill="none" stroke="#000" stroke-width="1.6"/>
<g class="tk"><text transform="translate(415.3 521.6) scale(1.06 1)">30</text><text transform="translate(465.1 521.6) scale(1.06 1)">40</text><text transform="translate(514.9 521.6) scale(1.06 1)">50</text><text transform="translate(564.6 521.6) scale(1.06 1)">60</text><text transform="translate(614.4 521.6) scale(1.06 1)">70</text><text transform="translate(664.2 521.6) scale(1.06 1)">80</text></g>
<text class="ax" transform="translate(517.5 540.1) scale(1.065 1)" text-anchor="middle">Angle (2θ)</text>
<text class="ax" transform="translate(359.3 391.4) rotate(-90)" text-anchor="middle">Intensity (a.u.)</text>
<circle cx="554.9" cy="287.6" r="1.6" fill="#fff" stroke="#555" stroke-width="0.5"/>
<path d="M539.3 306.7H570.1" stroke="#ff0000" stroke-width="1.75"/>
<path d="M539.3 325.5H570.1" stroke="#4f88e0" stroke-width="1"/>
<path d="M554.9 342.2V347.2" stroke="#8cc88c" stroke-width="1.4"/>
<g class="lg">
<text x="573.9" y="292.9">I<tspan class="sb" dy="3.1">obs</tspan></text>
<text x="573.9" y="311.2">I<tspan class="sb" dy="3.1">calc</tspan></text>
<text x="573.9" y="330.5">I<tspan class="sb" dy="3.1">obs</tspan><tspan dy="-3.1">- I</tspan><tspan class="sb" dy="3.1">calc</tspan></text>
<text x="573.9" y="349.1">Bragg positions</text>
</g>
<text class="lb" x="565.6" y="374.6">NZFO | <tspan font-style="italic">Fd-3m</tspan></text>
</g>
<g id="p5">
<clipPath id="clipp5"><rect x="202.2" y="558.0" width="294.1" height="227.60000000000002"/></clipPath>
<g clip-path="url(#clipp5)">
<polyline fill="none" stroke="none" marker-start="url(#mk)" marker-mid="url(#mk)" marker-end="url(#mk)" points="202.2,729.8 202.3,731.3 202.5,730.1 202.6,730.1 202.8,729.2 202.9,730.3 203.1,730.2 203.2,730.2 203.4,729.5 203.5,730.1 203.7,730.9 203.8,728.9 204,727.8 204.1,730.3 204.3,730.2 204.4,729.4 204.6,729.2 204.7,731.9 204.9,729.2 205,728.6 205.2,729.2 205.3,730 205.5,729.1 205.6,729.3 205.8,729.8 205.9,729.2 206.1,729.7 206.2,729.5 206.4,728.7 206.5,729.6 206.7,728.6 206.8,730.4 207,728.8 207.1,729.4 207.3,728 207.4,729.2 207.6,728.5 207.7,730.8 207.9,729.5 208,730 208.2,728.1 208.3,728.5 208.5,729.4 208.6,728.4 208.8,730.5 208.9,729.2 209.1,729.7 209.2,729.8 209.4,729.5 209.5,730.2 209.7,729 209.8,729.9 210,730.6 210.1,729.8 210.3,729.7 210.4,729.3 210.6,729.6 210.7,730.1 210.9,729.4 211,728.2 211.2,729.7 211.3,729.5 211.5,730 211.6,729.6 211.8,730.9 211.9,728.6 212.1,728.8 212.2,730.1 212.4,728.7 212.5,729.8 212.7,729.6 212.8,727.9 213,730.1 213.1,730.7 213.3,729.7 213.4,728.4 213.6,730.2 213.7,728.7 213.9,729.5 214,729.9 214.2,728.9 214.3,728.2 214.5,729.5 214.6,729.5 214.7,728.9 214.9,728.9 215,730.2 215.2,729.5 215.3,729.2 215.5,729.1 215.6,729.7 215.8,729.6 215.9,729.4 216.1,728.4 216.2,729.3 216.4,729 216.5,729.6 216.7,730.5 216.8,730.4 217,730.1 217.1,729.7 217.3,729.3 217.4,729.8 217.6,729.2 217.7,729.3 217.9,728.9 218,729.5 218.2,729.5 218.3,731.1 218.5,730 218.6,729.3 218.8,730.2 218.9,729.2 219.1,730.4 219.2,730.2 219.4,732 219.5,728.7 219.7,729.5 219.8,729.5 220,729.8 220.1,730.2 220.3,728.8 220.4,729 220.6,729.8 220.7,730.4 220.9,728.6 221,728.3 221.2,730.5 221.3,730.3 221.5,730.5 221.6,728.8 221.8,729.4 221.9,729.8 222.1,729.9 222.2,729.5 222.4,729.5 222.5,730.4 222.7,729.2 222.8,729.1 223,729.2 223.1,729.1 223.3,729.7 223.4,729.4 223.6,729.2 223.7,730.7 223.9,729.8 224,729.3 224.2,730.6 224.3,729.1 224.5,729.6 224.6,729.5 224.8,729.1 224.9,729.3 225.1,729.6 225.2,728.4 225.4,729.2 225.5,729.8 225.7,729.8 225.8,729.8 226,731.5 226.1,730.1 226.3,729.4 226.4,729.5 226.6,729.6 226.7,729.9 226.9,729.3 227,730.8 227.1,728.7 227.3,730.1 227.4,730 227.6,728.6 227.7,730.1 227.9,730 228,729 228.2,731.4 228.3,730.1 228.5,729.3 228.6,729.2 228.8,729 228.9,729.8 229.1,729.6 229.2,728.4 229.4,728.7 229.5,729 229.7,729.2 229.8,729.3 230,729 230.1,730.1 230.3,730.3 230.4,729.6 230.6,727.8 230.7,729.4 230.9,730 231,729.5 231.2,729.8 231.3,729.6 231.5,728.4 231.6,727.5 231.8,730.1 231.9,729.1 232.1,729.9 232.2,729.3 232.4,729.4 232.5,730.7 232.7,728.6 232.8,729.6 233,728.7 233.1,729.6 233.3,729.9 233.4,730.1 233.6,729.7 233.7,728.4 233.9,729.8 234,730.3 234.2,730.4 234.3,731.3 234.5,730 234.6,728.7 234.8,729.1 234.9,729.6 235.1,730.4 235.2,728.6 235.4,730.3 235.5,730.1 235.7,728.9 235.8,730 236,728.9 236.1,729.6 236.3,729.3 236.4,729.7 236.6,728.6 236.7,730 236.9,727.8 237,729.2 237.2,729.1 237.3,730.8 237.5,730 237.6,729.2 237.8,728.8 237.9,729.6 238.1,729 238.2,731.4 238.4,727.3 238.5,729.6 238.7,727.6 238.8,730.4 239,728.9 239.1,730.8 239.3,729.1 239.4,730.4 239.6,729.7 239.7,730.5 239.8,729.6 240,727.1 240.1,729 240.3,728.3 240.4,730.3 240.6,730 240.7,729.5 240.9,729.9 241,729.7 241.2,729.1 241.3,731.1 241.5,729.7 241.6,729.4 241.8,728.3 241.9,729 242.1,729.5 242.2,729.4 242.4,729.1 242.5,729.5 242.7,728.6 242.8,729.5 243,728.3 243.1,728.8 243.3,728.9 243.4,730.2 243.6,729.9 243.7,729.6 243.9,728.6 244,729.2 244.2,730.1 244.3,730.5 244.5,728.3 244.6,729.1 244.8,729.5 244.9,729.7 245.1,729.4 245.2,729.9 245.4,728.2 245.5,730.6 245.7,728.4 245.8,729.3 246,729.7 246.1,730.1 246.3,729.8 246.4,729.7 246.6,729.9 246.7,728.5 246.9,729 247,729.1 247.2,726 247.3,722 247.5,714.3 247.6,703.3 247.8,692.9 247.9,696.4 248.1,710.3 248.2,720.9 248.4,726.4 248.5,725.9 248.7,727.7 248.8,728.3 249,729 249.1,729 249.3,728.8 249.4,729.4 249.6,727.1 249.7,731.8 249.9,730 250,730.1 250.2,728.8 250.3,729.7 250.5,731.1 250.6,730.9 250.8,729.5 250.9,728.5 251.1,729.6 251.2,729.2 251.4,730.2 251.5,728.5 251.7,729.3 251.8,729.7 252,729.1 252.1,730.4 252.2,728.6 252.4,728.5 252.5,729.2 252.7,730.2 252.8,729.3 253,729.1 253.1,730.2 253.3,729.7 253.4,729.1 253.6,729.6 253.7,729.3 253.9,730 254,729.7 254.2,728.9 254.3,729.2 254.5,729.2 254.6,729.9 254.8,729.9 254.9,728.9 255.1,729.4 255.2,729.8 255.4,730.4 255.5,729.8 255.7,731.1 255.8,729.6 256,730.2 256.1,729.3 256.3,728.7 256.4,729.6 256.6,729.9 256.7,729.8 256.9,729.7 257,729.3 257.2,728.9 257.3,729.3 257.5,729.9 257.6,730.3 257.8,726.9 257.9,730.1 258.1,730.4 258.2,730.6 258.4,729.9 258.5,730.1 258.7,729.2 258.8,729.5 259,730 259.1,728.7 259.3,728.9 259.4,729.7 259.6,728.5 259.7,729.6 259.9,728.3 260,729.7 260.2,729.6 260.3,729.1 260.5,728.8 260.6,729.1 260.8,727.7 260.9,729.2 261.1,729.7 261.2,730.5 261.4,729.1 261.5,729.4 261.7,730.7 261.8,731 262,729.2 262.1,730.4 262.3,730.5 262.4,730 262.6,728.7 262.7,728.8 262.9,730 263,731.4 263.2,729.4 263.3,730.8 263.5,731.1 263.6,728.5 263.8,729.1 263.9,730.8 264.1,730.3 264.2,730 264.4,729.5 264.5,730.1 264.6,729 264.8,731.6 264.9,728.6 265.1,728.1 265.2,729.7 265.4,730.7 265.5,729.1 265.7,729.5 265.8,728.7 266,729.5 266.1,728.7 266.3,728.7 266.4,728.3 266.6,729.1 266.7,731 266.9,729.5 267,729.7 267.2,731.3 267.3,729 267.5,728.7 267.6,729.9 267.8,728.5 267.9,729.8 268.1,730.4 268.2,728.6 268.4,729.1 268.5,730.9 268.7,728.6 268.8,728.9 269,729.7 269.1,729.2 269.3,728.7 269.4,730.7 269.6,729 269.7,729.7 269.9,729.1 270,729.2 270.2,728.3 270.3,730.1 270.5,729 270.6,730.4 270.8,728.4 270.9,728.9 271.1,729.7 271.2,729.3 271.4,728.7 271.5,729.1 271.7,728.1 271.8,729.1 272,726.9 272.1,729.1 272.3,730 272.4,729.5 272.6,729.4 272.7,728.2 272.9,728.8 273,727.9 273.2,727.8 273.3,727.5 273.5,724.3 273.6,727.1 273.8,725.7 273.9,724.1 274.1,718.3 274.2,707.6 274.4,679.4 274.5,632.2 274.7,597.4 274.8,615.5 275,661.2 275.1,697.8 275.3,715 275.4,723.4 275.6,723.1 275.7,724.9 275.9,726 276,726.3 276.2,727.3 276.3,728.1 276.5,727.2 276.6,728.8 276.8,729.7 276.9,729.7 277,730.5 277.2,729.9 277.3,729 277.5,730.5 277.6,729.7 277.8,730.7 277.9,729 278.1,727.5 278.2,728.3 278.4,729.4 278.5,729.7 278.7,729.1 278.8,730.1 279,728.4 279.1,728.8 279.3,730.2 279.4,729.4 279.6,729.5 279.7,730.5 279.9,730.3 280,728.7 280.2,729.6 280.3,728 280.5,729.4 280.6,729.7 280.8,727.9 280.9,730.6 281.1,731 281.2,729.7 281.4,730 281.5,730.5 281.7,729 281.8,729.9 282,729.2 282.1,727.2 282.3,726.9 282.4,725.7 282.6,724.8 282.7,721.6 282.9,720.9 283,720.3 283.2,721.9 283.3,727 283.5,729.4 283.6,728.5 283.8,728.6 283.9,730 284.1,728.3 284.2,729.1 284.4,728.1 284.5,729.8 284.7,729.6 284.8,729.1 285,728.9 285.1,728.2 285.3,728.8 285.4,730.5 285.6,729.2 285.7,730.5 285.9,728.8 286,729.4 286.2,729.1 286.3,729.3 286.5,730.2 286.6,727.9 286.8,730.1 286.9,730.1 287.1,729.5 287.2,729.6 287.4,729.4 287.5,730.1 287.7,729.6 287.8,728.9 288,729.7 288.1,730.3 288.3,729.9 288.4,729.6 288.6,729.7 288.7,729.2 288.9,729.2 289,728 289.2,729.4 289.3,730.4 289.4,729.2 289.6,728.8 289.7,730.3 289.9,729.7 290,729.7 290.2,730 290.3,730.1 290.5,729.5 290.6,728.9 290.8,731 290.9,729.6 291.1,728.9 291.2,729.7 291.4,730.5 291.5,728.4 291.7,730.6 291.8,729.5 292,731.2 292.1,730.1 292.3,729.5 292.4,730.6 292.6,730.6 292.7,729.3 292.9,729.8 293,729.2 293.2,730.3 293.3,728.4 293.5,729.4 293.6,727.9 293.8,730.1 293.9,727.8 294.1,728.7 294.2,729.8 294.4,729.3 294.5,729.2 294.7,728.8 294.8,729.2 295,728.2 295.1,729.8 295.3,730.2 295.4,730.2 295.6,729.6 295.7,730.6 295.9,730 296,730.4 296.2,729.9 296.3,729.6 296.5,729 296.6,727.5 296.8,730.1 296.9,729.5 297.1,731.2 297.2,728 297.4,730.3 297.5,728.8 297.7,729.6 297.8,728.9 298,729.9 298.1,729.6 298.3,730.3 298.4,729.7 298.6,730 298.7,730.6 298.9,730 299,729.5 299.2,730.6 299.3,729.5 299.5,729.9 299.6,729.3 299.8,729.1 299.9,727.2 300.1,730.2 300.2,728.7 300.4,730.2 300.5,731 300.7,728.5 300.8,730.3 301,729.5 301.1,730 301.3,728.6 301.4,729.6 301.6,729.7 301.7,730.7 301.8,731.3 302,729.8 302.1,729.3 302.3,731.4 302.4,729.5 302.6,729.5 302.7,729.7 302.9,730 303,730.2 303.2,729.1 303.3,729.5 303.5,731.1 303.6,730.9 303.8,729.9 303.9,729.8 304.1,729.4 304.2,730.4 304.4,729.2 304.5,729.7 304.7,729.2 304.8,729.1 305,729.6 305.1,729.6 305.3,729.1 305.4,729.5 305.6,729.6 305.7,729.2 305.9,729.1 306,729.5 306.2,730.1 306.3,730.5 306.5,729.7 306.6,729.4 306.8,729.6 306.9,731.1 307.1,730.3 307.2,728.8 307.4,729.5 307.5,729.1 307.7,729.3 307.8,728.2 308,729.6 308.1,728.5 308.3,729.1 308.4,730.8 308.6,730.4 308.7,728.8 308.9,728.7 309,728.8 309.2,728 309.3,728.7 309.5,729.3 309.6,728.7 309.8,730.1 309.9,729.4 310.1,729 310.2,730.9 310.4,730 310.5,729.5 310.7,730.9 310.8,730.4 311,728.7 311.1,729.5 311.3,728.8 311.4,727.9 311.6,730.5 311.7,730 311.9,727.4 312,728.4 312.2,725.5 312.3,724.5 312.5,716.1 312.6,703.9 312.8,695.6 312.9,699.1 313.1,711.3 313.2,721.9 313.4,725.6 313.5,728.3 313.7,728.3 313.8,729.3 314,729.4 314.1,729.7 314.3,728.3 314.4,730.7 314.5,729.1 314.7,730.8 314.8,728.9 315,729.2 315.1,729.2 315.3,730.4 315.4,729.1 315.6,729.8 315.7,728.2 315.9,729.1 316,729.7 316.2,729.4 316.3,728 316.5,729.9 316.6,728.8 316.8,731.1 316.9,729.4 317.1,731.4 317.2,730.1 317.4,729.9 317.5,729.2 317.7,729.5 317.8,729.9 318,728 318.1,730.4 318.3,728.6 318.4,729.4 318.6,727.3 318.7,730 318.9,730.2 319,729.8 319.2,729.8 319.3,729.3 319.5,729.7 319.6,730.6 319.8,729.2 319.9,730 320.1,730.2 320.2,729.4 320.4,729.8 320.5,729.8 320.7,729.2 320.8,731.6 321,729.2 321.1,731 321.3,730.5 321.4,727.9 321.6,729.8 321.7,730.4 321.9,730.3 322,728.9 322.2,729.8 322.3,728.6 322.5,728.7 322.6,729.4 322.8,729.8 322.9,730.9 323.1,729.9 323.2,730.5 323.4,728.6 323.5,728.6 323.7,729.2 323.8,731 324,728.5 324.1,728.3 324.3,729.5 324.4,730.6 324.6,728.3 324.7,729.4 324.9,728.5 325,730.8 325.2,730.2 325.3,729.8 325.5,729.6 325.6,729.4 325.8,729.7 325.9,729.1 326.1,728.9 326.2,728.7 326.4,729.6 326.5,728.9 326.7,730.3 326.8,727.9 326.9,730.1 327.1,730 327.2,730.6 327.4,729.4 327.5,728.4 327.7,728.8 327.8,730.5 328,729.3 328.1,729.3 328.3,729.1 328.4,729.5 328.6,729.4 328.7,728.3 328.9,729.1 329,730.4 329.2,730.8 329.3,729.5 329.5,729.2 329.6,730.7 329.8,729.5 329.9,728.6 330.1,729.5 330.2,730.2 330.4,730.9 330.5,729.2 330.7,730 330.8,729.3 331,730.5 331.1,729.8 331.3,729.8 331.4,728.8 331.6,729.3 331.7,729.3 331.9,726.6 332,730.3 332.2,729.5 332.3,729.4 332.5,729.2 332.6,729.5 332.8,729.7 332.9,728.3 333.1,729.2 333.2,727.8 333.4,723.2 333.5,721.5 333.7,727.3 333.8,728 334,729.6 334.1,730.5 334.3,730.2 334.4,729.2 334.6,729.1 334.7,729.1 334.9,729.9 335,729 335.2,729.1 335.3,727.5 335.5,728.9 335.6,728.9 335.8,729.1 335.9,730.6 336.1,728.5 336.2,728.5 336.4,730.1 336.5,728.8 336.7,729.5 336.8,729.7 337,729.6 337.1,729 337.3,730.4 337.4,730.8 337.6,728.8 337.7,729.4 337.9,730.4 338,729.4 338.2,728.8 338.3,729.2 338.5,730.3 338.6,728.8 338.8,729.8 338.9,729.9 339.1,729.1 339.2,730.1 339.3,730.1 339.5,730.4 339.6,730.4 339.8,728.4 339.9,730.3 340.1,730.1 340.2,730.4 340.4,728.9 340.5,730.3 340.7,729.9 340.8,728.6 341,730.6 341.1,729 341.3,728.8 341.4,729.9 341.6,729.1 341.7,729.9 341.9,729.4 342,729.8 342.2,730.3 342.3,729.6 342.5,730.3 342.6,730.3 342.8,728.9 342.9,730.3 343.1,730.1 343.2,729.7 343.4,730.5 343.5,731 343.7,730.2 343.8,728.4 344,730 344.1,729.5 344.3,729.4 344.4,729.9 344.6,729.3 344.7,730.9 344.9,729.8 345,729.6 345.2,730.2 345.3,730.3 345.5,730.6 345.6,730.1 345.8,729.6 345.9,729.7 346.1,727.8 346.2,728.4 346.4,730.5 346.5,729.3 346.7,731.1 346.8,731.1 347,728.6 347.1,729.9 347.3,732 347.4,729 347.6,729.9 347.7,729.4 347.9,729.4 348,729.4 348.2,729.6 348.3,730.2 348.5,728.9 348.6,730 348.8,729 348.9,730 349.1,729.9 349.2,729 349.4,729.7 349.5,729 349.7,728.9 349.8,730.6 350,728.1 350.1,730.1 350.3,730.2 350.4,729.1 350.6,730.5 350.7,730.4 350.9,728.5 351,730 351.2,730 351.3,729 351.5,730.1 351.6,730.2 351.7,729 351.9,728 352,729.9 352.2,729 352.3,728.2 352.5,729.3 352.6,727.6 352.8,729.3 352.9,730.8 353.1,727.3 353.2,730 353.4,728.8 353.5,729.3 353.7,728.9 353.8,730.1 354,729.6 354.1,729 354.3,728.5 354.4,729.2 354.6,730.6 354.7,728.6 354.9,729.9 355,729.9 355.2,727.9 355.3,730.5 355.5,729.6 355.6,731.4 355.8,731 355.9,729.4 356.1,729.5 356.2,728.8 356.4,728.5 356.5,730.3 356.7,729.4 356.8,729.3 357,729.5 357.1,730.2 357.3,730.4 357.4,729.6 357.6,729.4 357.7,729.7 357.9,731.3 358,727.9 358.2,728.6 358.3,730 358.5,729.7 358.6,730.6 358.8,730.7 358.9,731.2 359.1,728.9 359.2,730.1 359.4,729.4 359.5,730.4 359.7,729.7 359.8,730.3 360,729 360.1,729.7 360.3,729.1 360.4,729.4 360.6,729.2 360.7,728.7 360.9,730.5 361,729.8 361.2,730.5 361.3,728.7 361.5,727.9 361.6,729 361.8,729.4 361.9,730.2 362.1,730.4 362.2,730.5 362.4,730.8 362.5,730.1 362.7,729.5 362.8,728.8 363,729.9 363.1,728.9 363.3,728.6 363.4,729.6 363.6,729.2 363.7,729.4 363.9,727.5 364,727.8 364.1,724.6 364.3,720.1 364.4,715.1 364.6,713 364.7,715.6 364.9,722.5 365,723.9 365.2,727.8 365.3,728.1 365.5,728.3 365.6,728.6 365.8,729.1 365.9,730 366.1,729.8 366.2,729.4 366.4,728.3 366.5,727.9 366.7,731 366.8,728.6 367,728.2 367.1,730.4 367.3,728.3 367.4,730.1 367.6,730.3 367.7,729.7 367.9,730.3 368,728.4 368.2,728.5 368.3,729.4 368.5,729.6 368.6,729.5 368.8,730 368.9,729 369.1,727.8 369.2,729.9 369.4,729.4 369.5,730.3 369.7,731.3 369.8,729.6 370,730.1 370.1,728.8 370.3,730.3 370.4,729.9 370.6,729.8 370.7,730.3 370.9,728.6 371,730.1 371.2,730 371.3,730.9 371.5,728.1 371.6,729.5 371.8,731.4 371.9,729.2 372.1,729.2 372.2,731.1 372.4,731.7 372.5,729.7 372.7,729 372.8,729.1 373,729.2 373.1,728.9 373.3,728.9 373.4,729.7 373.6,729.6 373.7,730 373.9,729.6 374,728.6 374.2,730.2 374.3,729.8 374.5,729.1 374.6,729.3 374.8,729.8 374.9,729.6 375.1,729.5 375.2,730.2 375.4,730.4 375.5,729.3 375.7,729.5 375.8,728.6 376,729.4 376.1,729.9 376.3,730.3 376.4,729.7 376.5,729.5 376.7,728.9 376.8,729.7 377,728.6 377.1,729.6 377.3,729.5 377.4,728.8 377.6,729.8 377.7,729.3 377.9,730 378,729.1 378.2,729.9 378.3,730.8 378.5,729.6 378.6,730.1 378.8,728.9 378.9,729.1 379.1,727.8 379.2,729.2 379.4,728.4 379.5,729.4 379.7,727.6 379.8,728.5 380,729.2 380.1,729.4 380.3,727.7 380.4,728.6 380.6,731 380.7,729.3 380.9,728.6 381,725.9 381.2,727 381.3,727.4 381.5,725.6 381.6,722.5 381.8,716.7 381.9,705.8 382.1,693.8 382.2,683.3 382.4,690.7 382.5,700.3 382.7,711.6 382.8,721.2 383,724.8 383.1,727.2 383.3,727 383.4,728.3 383.6,729 383.7,727.7 383.9,728.6 384,728.7 384.2,728.8 384.3,728.5 384.5,728.1 384.6,729.6 384.8,729.5 384.9,730.2 385.1,729.3 385.2,728.8 385.4,728.2 385.5,729.5 385.7,729.1 385.8,731.1 386,731.3 386.1,730.8 386.3,728.7 386.4,728.3 386.6,729.3 386.7,728.7 386.9,730.7 387,729.6 387.2,729.2 387.3,729.5 387.5,730.6 387.6,728.7 387.8,729.9 387.9,728.4 388.1,729.4 388.2,729 388.4,729.8 388.5,729.7 388.7,730.5 388.8,730.1 389,729 389.1,728.4 389.2,728.9 389.4,729.2 389.5,729.4 389.7,728.9 389.8,730.5 390,730.3 390.1,729.3 390.3,729.1 390.4,729.4 390.6,729.5 390.7,729.5 390.9,728.2 391,729.2 391.2,728 391.3,729.6 391.5,730.1 391.6,728.7 391.8,729.7 391.9,729.1 392.1,729 392.2,731.2 392.4,730.3 392.5,730 392.7,729.2 392.8,729.9 393,729.4 393.1,730 393.3,728.8 393.4,729.5 393.6,729.2 393.7,728.4 393.9,731 394,730.3 394.2,728.9 394.3,728.4 394.5,729 394.6,728.9 394.8,729.1 394.9,728.3 395.1,728.9 395.2,729.6 395.4,729.9 395.5,727.9 395.7,729.6 395.8,728.8 396,728.7 396.1,729.3 396.3,729 396.4,730.2 396.6,730.2 396.7,729.3 396.9,729 397,731.1 397.2,731.1 397.3,729.9 397.5,729.4 397.6,730.4 397.8,730.8 397.9,729.1 398.1,731.1 398.2,729.4 398.4,730.5 398.5,729.1 398.7,729.6 398.8,729.2 399,729.6 399.1,730.4 399.3,728.8 399.4,729.3 399.6,730 399.7,729.2 399.9,731.3 400,728.3 400.2,731.7 400.3,729 400.5,730.4 400.6,730.9 400.8,730 400.9,728.4 401.1,729.3 401.2,729.6 401.4,730 401.5,730.4 401.6,730.5 401.8,730.8 401.9,728.8 402.1,730.4 402.2,728.1 402.4,729.7 402.5,728.6 402.7,728 402.8,730.3 403,729.5 403.1,730.4 403.3,728.2 403.4,728.5 403.6,729.4 403.7,729 403.9,729.6 404,729 404.2,729.2 404.3,728.5 404.5,730.6 404.6,729.2 404.8,728.5 404.9,730.1 405.1,729.9 405.2,729.7 405.4,729.7 405.5,729.1 405.7,729.3 405.8,727.6 406,728.1 406.1,728.4 406.3,729.7 406.4,730.4 406.6,729.2 406.7,729.1 406.9,730.3 407,729 407.2,729.9 407.3,729.6 407.5,728.1 407.6,729.5 407.8,729.3 407.9,728.1 408.1,728.2 408.2,727.9 408.4,730 408.5,730.5 408.7,729.2 408.8,729.8 409,727.1 409.1,729 409.3,729 409.4,727.8 409.6,723.7 409.7,721.7 409.9,714 410,704.9 410.2,691.6 410.3,682.9 410.5,682 410.6,691.6 410.8,703 410.9,714.3 411.1,721 411.2,724.6 411.4,726.3 411.5,727 411.7,727.8 411.8,728.8 412,728.5 412.1,728.9 412.3,728.7 412.4,728.8 412.6,728.4 412.7,727.4 412.9,729.6 413,729.6 413.2,728.4 413.3,730.9 413.5,728.3 413.6,730.1 413.8,729.5 413.9,729.6 414,730.3 414.2,730.2 414.3,729.4 414.5,728.5 414.6,728.4 414.8,729.6 414.9,730.8 415.1,730.2 415.2,729.4 415.4,729.8 415.5,730.1 415.7,730.9 415.8,728.9 416,730.1 416.1,729.7 416.3,728.9 416.4,728.7 416.6,730.6 416.7,729.8 416.9,729.3 417,729.6 417.2,730.4 417.3,729.6 417.5,730.9 417.6,729.3 417.8,728.9 417.9,729.4 418.1,728.7 418.2,729.3 418.4,730.6 418.5,731 418.7,730.1 418.8,729.7 419,728.8 419.1,728.7 419.3,729.9 419.4,729.7 419.6,729.1 419.7,729.2 419.9,730.9 420,730.4 420.2,729.6 420.3,729.8 420.5,730.6 420.6,729.9 420.8,729.8 420.9,728.2 421.1,728.1 421.2,727.9 421.4,727.7 421.5,729.6 421.7,729.8 421.8,728.8 422,729.9 422.1,729.9 422.3,729.5 422.4,728.3 422.6,730.8 422.7,730.7 422.9,729.1 423,731.2 423.2,729.6 423.3,728.9 423.5,729.2 423.6,728 423.8,729.3 423.9,728.2 424.1,730.5 424.2,729.8 424.4,728.4 424.5,730 424.7,728.1 424.8,729.7 425,729.9 425.1,729.6 425.3,728.6 425.4,729.4 425.6,729.3 425.7,729.5 425.9,730.6 426,730.6 426.2,730.1 426.3,726.6 426.4,722.7 426.6,721.1 426.7,724.8 426.9,726 427,728.4 427.2,730.8 427.3,728.3 427.5,728.8 427.6,728.9 427.8,729.9 427.9,729.4 428.1,729.2 428.2,728.2 428.4,730 428.5,729.5 428.7,729 428.8,729.6 429,730.2 429.1,728.3 429.3,728.2 429.4,728.7 429.6,728.8 429.7,726.9 429.9,729 430,730.5 430.2,729.2 430.3,730.4 430.5,727 430.6,729.3 430.8,730.6 430.9,730.6 431.1,728.7 431.2,728 431.4,728.4 431.5,726.3 431.7,726.3 431.8,724.9 432,726.8 432.1,727.5 432.3,729.7 432.4,729.1 432.6,728.6 432.7,729.2 432.9,728.3 433,729.5 433.2,729.3 433.3,729.9 433.5,730.3 433.6,727.8 433.8,729.8 433.9,730.2 434.1,728.5 434.2,731.2 434.4,728.9 434.5,731.7 434.7,730.2 434.8,730.4 435,729.8 435.1,730.4 435.3,728.7 435.4,728.9 435.6,727.9 435.7,730 435.9,729 436,730.2 436.2,730.1 436.3,728.4 436.5,730.2 436.6,729.8 436.8,729.8 436.9,730 437.1,729.6 437.2,729.6 437.4,730.5 437.5,728.7 437.7,728.6 437.8,728.9 438,730.5 438.1,729.3 438.3,731.2 438.4,727 438.6,729 438.7,729.2 438.8,729.8 439,730.7 439.1,729.4 439.3,728.7 439.4,730.3 439.6,730.9 439.7,727.4 439.9,730.1 440,729.8 440.2,728.9 440.3,729.2 440.5,729.8 440.6,729.6 440.8,729.4 440.9,728.6 441.1,729.8 441.2,729 441.4,729.7 441.5,729.1 441.7,729.8 441.8,730.2 442,729.8 442.1,730.1 442.3,728.4 442.4,730 442.6,729.8 442.7,729 442.9,729.4 443,727.2 443.2,729.6 443.3,729.2 443.5,727.7 443.6,730 443.8,729 443.9,729.8 444.1,729.4 444.2,730 444.4,729.7 444.5,729.3 444.7,730 444.8,730.3 445,727.6 445.1,729.6 445.3,729.1 445.4,728.6 445.6,730.7 445.7,730.4 445.9,728.7 446,728.6 446.2,730.3 446.3,729 446.5,729.3 446.6,727.9 446.8,729.5 446.9,730.5 447.1,729.2 447.2,729.5 447.4,731 447.5,730.3 447.7,730.8 447.8,730.1 448,730.6 448.1,728.1 448.3,728.8 448.4,728.1 448.6,731.4 448.7,729.7 448.9,729.4 449,728.9 449.2,728.7 449.3,727.1 449.5,731.4 449.6,729.4 449.8,729.5 449.9,728.3 450.1,729.4 450.2,729.8 450.4,729.4 450.5,729.9 450.7,728.7 450.8,729.6 451,730.1 451.1,729.7 451.2,729.4 451.4,728.8 451.5,727.7 451.7,728.4 451.8,726.9 452,725.5 452.1,725.9 452.3,722.9 452.4,723.3 452.6,724.7 452.7,725.6 452.9,725.5 453,726.9 453.2,728.1 453.3,728.2 453.5,728.1 453.6,729.4 453.8,729.3 453.9,729.4 454.1,730.3 454.2,729.6 454.4,729 454.5,729.6 454.7,731.1 454.8,728.9 455,729.3 455.1,728.8 455.3,729.8 455.4,728.4 455.6,729.9 455.7,730.2 455.9,728.9 456,728.8 456.2,728.3 456.3,729.6 456.5,728.6 456.6,729 456.8,729.2 456.9,729 457.1,730.3 457.2,730.9 457.4,727.7 457.5,728.9 457.7,729.8 457.8,728.7 458,729.1 458.1,729.7 458.3,730.7 458.4,730.6 458.6,729.3 458.7,729.7 458.9,729.3 459,729.4 459.2,728.6 459.3,728.1 459.5,729.2 459.6,730.4 459.8,730.2 459.9,728 460.1,729.4 460.2,729 460.4,729.8 460.5,728.6 460.7,730.3 460.8,729.4 461,730.1 461.1,730.3 461.3,727.9 461.4,729.4 461.6,730.8 461.7,729.6 461.9,730.4 462,729.9 462.2,729.1 462.3,729.8 462.5,730.4 462.6,730.6 462.8,730.8 462.9,728.6 463.1,730.2 463.2,728.4 463.4,729.4 463.5,729.4 463.7,730.1 463.8,729.8 463.9,730.6 464.1,729 464.2,730.2 464.4,729.8 464.5,729.5 464.7,728.5 464.8,730 465,729.7 465.1,730.1 465.3,729.4 465.4,729.2 465.6,729.7 465.7,729.8 465.9,729.9 466,730.9 466.2,728.7 466.3,730.9 466.5,726.6 466.6,729.7 466.8,727.9 466.9,729.6 467.1,725.7 467.2,724.9 467.4,719.7 467.5,716.3 467.7,716.7 467.8,718.7 468,720.9 468.1,726.7 468.3,726.6 468.4,729.4 468.6,727.8 468.7,728.1 468.9,729.2 469,728.3 469.2,729.6 469.3,727.5 469.5,729.5 469.6,728.9 469.8,728.5 469.9,729.5 470.1,729.2 470.2,729 470.4,730.1 470.5,729.6 470.7,729.7 470.8,730.5 471,729.3 471.1,730 471.3,728.9 471.4,729.7 471.6,729.6 471.7,728.5 471.9,727.4 472,727.2 472.2,726.9 472.3,727.4 472.5,725.9 472.6,724.7 472.8,724.6 472.9,724.6 473.1,725.6 473.2,724.7 473.4,726.7 473.5,727.8 473.7,727.1 473.8,728.6 474,728 474.1,728.9 474.3,729.5 474.4,727.8 474.6,728.6 474.7,728.7 474.9,729.5 475,728.8 475.2,729.8 475.3,728.7 475.5,729 475.6,730 475.8,729.8 475.9,729.6 476.1,729.5 476.2,730.4 476.3,730.7 476.5,729.2 476.6,728.9 476.8,728.7 476.9,731 477.1,728.8 477.2,728.4 477.4,729.8 477.5,730.4 477.7,728.5 477.8,729.5 478,728.3 478.1,729 478.3,730.9 478.4,729.7 478.6,729.3 478.7,729.6 478.9,729.8 479,729.5 479.2,728.6 479.3,728.6 479.5,731.3 479.6,728.9 479.8,730.6 479.9,729 480.1,730.7 480.2,730.2 480.4,729.4 480.5,731.3 480.7,728.8 480.8,729.4 481,728.8 481.1,728.9 481.3,729.3 481.4,728.8 481.6,729.3 481.7,730.9 481.9,728.1 482,728.5 482.2,728.8 482.3,729.2 482.5,730.4 482.6,730.2 482.8,730 482.9,729.7 483.1,731.6 483.2,728.6 483.4,728.6 483.5,729.6 483.7,729.7 483.8,729.4 484,728.9 484.1,728.5 484.3,729.3 484.4,729 484.6,729.2 484.7,728.7 484.9,730.7 485,730 485.2,731.1 485.3,729.1 485.5,729.6 485.6,729.4 485.8,729.6 485.9,729.4 486.1,729.4 486.2,727.9 486.4,729.3 486.5,730.2 486.7,727.9 486.8,729.3 487,730 487.1,730.6 487.3,729.5 487.4,729.9 487.6,731 487.7,730.7 487.9,729.2 488,729 488.2,730.4 488.3,729.7 488.5,729.1 488.6,729.3 488.7,729.8 488.9,729.4 489,729.3 489.2,729.3 489.3,728.3 489.5,731 489.6,730.5 489.8,730.8 489.9,729.4 490.1,729.6 490.2,730 490.4,730.1 490.5,727.9 490.7,729.7 490.8,728.5 491,729.3 491.1,728.7 491.3,730.7 491.4,729.6 491.6,728.9 491.7,729.9 491.9,728.4 492,727.6 492.2,727.6 492.3,727 492.5,726.8 492.6,727 492.8,725.8 492.9,725.5 493.1,726.4 493.2,725.9 493.4,726.8 493.5,726.5 493.7,725.8 493.8,726.5 494,726.5 494.1,729.2 494.3,728.9 494.4,728.4 494.6,728.2 494.7,729.4 494.9,729.1 495,729.6 495.2,728.6 495.3,728.5 495.5,730.7 495.6,728.6 495.8,729.4 495.9,730.6 496.1,727.9 496.2,730.1"/>
<polygon fill="#ff0000" points="202.2,728.4 244,728.4 245.9,728.1 246.5,727.8 246.8,727.4 246.9,727.1 247,726.7 247.1,725.9 247.3,724.2 247.4,720.7 247.5,714.5 247.5,710.8 247.7,696.6 247.8,692.4 247.9,696.6 248,705.7 248.1,714.5 248.2,720.7 248.3,724.2 248.5,725.9 248.5,726.4 248.6,726.7 248.7,727.1 248.9,727.6 249.3,728 250,728.2 253,728.4 268.4,728.3 270.9,728.2 271.9,727.9 272.7,727.4 273.2,726.8 273.4,726.1 273.6,725.3 273.7,724.7 273.8,723.7 273.9,722.1 274,719.2 274.1,712.9 274.3,700.2 274.4,677.6 274.4,663.9 274.5,645.4 274.6,612 274.7,596.4 274.8,612 274.9,645.4 275,677.6 275.1,700.2 275.2,712.9 275.3,719.2 275.4,721 275.5,722.1 275.6,723.7 275.7,724.6 275.8,725.3 276,726.2 276.3,727 276.8,727.5 277.4,727.9 278.9,728.2 281.6,728.3 282.1,728.1 282.3,727.8 282.4,727.4 282.7,726.1 282.9,725.9 283.1,726.2 283.4,727.4 283.5,727.9 283.7,728.1 284.2,728.3 291.8,728.4 309.3,728.4 311,728.1 311.6,727.8 311.8,727.5 311.9,727.2 312,726.8 312.1,726.1 312.2,724.5 312.3,724.1 312.3,721.3 312.5,715.6 312.6,707.4 312.7,699 312.8,695.4 312.8,695.1 312.9,699 313,707.4 313.1,715.6 313.2,721.3 313.3,722.4 313.3,724.5 313.4,726.1 313.6,726.8 313.7,727.2 313.9,727.7 314.3,728 315.2,728.3 320.7,728.4 332.5,728.4 333,728.2 333.1,727.9 333.2,727.3 333.2,726.7 333.3,725.3 333.4,721.3 333.5,720.4 333.5,721.3 333.6,725.3 333.7,726.3 333.7,726.7 333.8,727.5 333.8,727.9 333.9,728.2 334.5,728.4 361.1,728.4 363.3,728.3 363.7,728 363.9,727.8 364,727.4 364.1,727 364.1,726.6 364.2,725.1 364.5,720.7 364.5,719.7 364.6,719.6 364.7,720.7 364.9,725.1 365.1,726.6 365.2,727.4 365.3,727.8 365.5,728.1 366.5,728.4 377.5,728.4 380,728.2 380.7,727.9 381,727.6 381.1,727.3 381.3,726.8 381.5,725.6 381.5,725.4 381.6,723.3 381.8,719.2 381.9,713.3 382,711.7 382.1,707.2 382.3,704.4 382.4,707.2 382.5,709.3 382.6,713.3 382.7,719.2 382.9,723.3 383,724.6 383.1,725.6 383.2,726.8 383.4,727.3 383.7,727.8 384.5,728.1 386.5,728.4 403.4,728.4 406.9,728.2 408.2,727.8 408.6,727.5 409,727.1 409.1,726.7 409.3,726.1 409.4,725.6 409.4,725.1 409.6,722.8 409.8,718.1 409.9,712.9 409.9,709.8 410.1,698.1 410.2,685.9 410.4,680.4 410.4,680.1 410.6,685.9 410.7,698.1 410.9,709.2 410.9,709.8 411,718.1 411.2,722.8 411.4,725.1 411.5,726.1 411.7,726.7 412,727.3 412.5,727.8 413.4,728.1 416.3,728.4 425.2,728.4 425.9,728.2 426,728 426.1,727.8 426.2,727.4 426.3,726.6 426.3,725.9 426.3,725.1 426.5,720.9 426.6,719.9 426.7,720.9 426.8,725.1 426.9,726.6 427,727.4 427.1,727.8 427.2,728.1 427.9,728.3 430.4,728.3 430.9,728.2 431,728 431.2,727.7 431.3,727.2 431.6,725.5 431.8,725.1 432,725.5 432.3,727.2 432.4,727.7 432.6,728.1 432.9,728.3 435.3,728.4 450.5,728.4 451.2,728.2 451.5,728 451.7,727.6 452.2,726.4 452.5,726.1 452.7,726.4 453.2,727.6 453.5,728 454,728.3 457,728.4 465.7,728.3 466.6,728.1 466.8,728 466.9,727.7 467.1,727 467.1,726.6 467.2,725.9 467.5,722.6 467.6,721.9 467.7,721.9 467.8,722.6 468.1,726.1 468.3,727 468.4,727.7 468.7,728.1 469.5,728.3 471.2,728.3 471.6,728.1 471.9,727.9 472.1,727.4 472.6,726.2 472.9,725.9 473.1,726.2 473.6,727.4 473.9,727.9 474.1,728.1 474.9,728.3 487.1,728.4 491,728.3 491.7,728 492,727.6 492.7,726.6 493.1,726.4 493.4,726.6 494.1,727.6 494.5,728.1 495.2,728.3 496.2,728.4 496.2,730.7 495.2,730.6 494.5,730.4 494.1,729.9 493.4,728.9 493.1,728.6 492.7,728.9 492,729.9 491.7,730.3 491,730.6 487.1,730.7 474.9,730.6 474.1,730.4 473.9,730.2 473.6,729.7 473.1,728.5 472.9,728.2 472.6,728.5 472.1,729.7 471.9,730.2 471.6,730.4 471.2,730.6 469.5,730.6 468.7,730.4 468.4,730 468.3,729.3 468.1,728.4 467.8,724.9 467.7,724.1 467.6,724.2 467.5,724.9 467.2,728.2 467.1,728.9 467.1,729.3 466.9,730 466.8,730.3 466.6,730.4 465.7,730.6 457,730.7 454,730.6 453.5,730.3 453.2,729.9 452.7,728.7 452.5,728.4 452.2,728.7 451.7,729.9 451.5,730.3 451.2,730.5 450.5,730.7 435.3,730.7 432.9,730.6 432.6,730.4 432.4,730 432.3,729.5 432,727.8 431.8,727.4 431.6,727.8 431.3,729.5 431.2,730 431,730.3 430.9,730.5 430.4,730.6 427.9,730.6 427.2,730.4 427.1,730.1 427,729.7 426.9,728.9 426.8,727.4 426.7,723.2 426.6,722.1 426.5,723.2 426.3,727.4 426.3,728.2 426.3,728.9 426.2,729.7 426.1,730.1 426,730.3 425.9,730.5 425.2,730.7 416.3,730.7 413.4,730.4 412.5,730.1 412,729.6 411.7,729 411.5,728.4 411.4,727.4 411.2,725.1 411,720.4 410.9,712.1 410.9,711.5 410.7,700.4 410.6,688.2 410.4,682.4 410.4,682.7 410.2,688.2 410.1,700.4 409.9,712.1 409.9,715.2 409.8,720.4 409.6,725.1 409.4,727.4 409.4,727.9 409.3,728.4 409.1,729 409,729.4 408.6,729.8 408.2,730.1 406.9,730.5 403.4,730.7 386.5,730.7 384.5,730.4 383.7,730.1 383.4,729.6 383.2,729.1 383.1,727.9 383,726.9 382.9,725.6 382.7,721.5 382.6,715.6 382.5,711.6 382.4,709.5 382.3,706.6 382.1,709.5 382,714 381.9,715.6 381.8,721.5 381.6,725.6 381.5,727.7 381.5,727.9 381.3,729.1 381.1,729.6 381,729.9 380.7,730.2 380,730.5 377.5,730.7 366.5,730.7 365.5,730.4 365.3,730.1 365.2,729.7 365.1,728.9 364.9,727.4 364.7,723 364.6,721.9 364.5,722 364.5,723 364.2,727.4 364.1,728.9 364.1,729.3 364,729.7 363.9,730.1 363.7,730.3 363.3,730.6 361.1,730.7 334.5,730.7 333.9,730.5 333.8,730.2 333.8,729.8 333.7,729 333.7,728.6 333.6,727.6 333.5,723.6 333.5,722.7 333.4,723.6 333.3,727.6 333.2,729 333.2,729.6 333.1,730.2 333,730.5 332.5,730.7 320.7,730.7 315.2,730.6 314.3,730.3 313.9,730 313.7,729.5 313.6,729.1 313.4,728.4 313.3,726.8 313.3,724.7 313.2,723.6 313.1,717.9 313,709.7 312.9,701.3 312.8,697.4 312.8,697.7 312.7,701.3 312.6,709.7 312.5,717.9 312.3,723.6 312.3,726.4 312.2,726.8 312.1,728.4 312,729.1 311.9,729.5 311.8,729.8 311.6,730.1 311,730.4 309.3,730.7 291.8,730.7 284.2,730.6 283.7,730.4 283.5,730.2 283.4,729.7 283.1,728.5 282.9,728.1 282.7,728.4 282.4,729.7 282.3,730.1 282.1,730.4 281.6,730.6 278.9,730.5 277.4,730.2 276.8,729.8 276.3,729.3 276,728.5 275.8,727.6 275.7,726.9 275.6,726 275.5,724.4 275.4,723.3 275.3,721.5 275.2,715.2 275.1,702.5 275,679.9 274.9,647.7 274.8,614.3 274.7,598.7 274.6,614.3 274.5,647.7 274.4,666.2 274.4,679.9 274.3,702.5 274.1,715.2 274,721.5 273.9,724.4 273.8,726 273.7,727 273.6,727.6 273.4,728.4 273.2,729.1 272.7,729.7 271.9,730.2 270.9,730.5 268.4,730.6 253,730.7 250,730.5 249.3,730.3 248.9,729.9 248.7,729.4 248.6,729 248.5,728.7 248.5,728.2 248.3,726.5 248.2,723 248.1,716.8 248,708 247.9,698.9 247.8,694.6 247.7,698.9 247.5,713.1 247.5,716.8 247.4,723 247.3,726.5 247.1,728.2 247,729 246.9,729.4 246.8,729.7 246.5,730.1 245.9,730.4 244,730.7 202.2,730.7"/>
<polyline fill="none" stroke="#ff0000" stroke-width="1.5" stroke-linejoin="round" points="202.2,729.6 244,729.5 245.9,729.3 246.5,729 246.8,728.6 246.9,728.3 247,727.9 247.1,727.1 247.3,725.4 247.4,721.9 247.5,715.7 247.5,711.9 247.7,697.8 247.8,693.5 247.9,697.8 248,706.9 248.1,715.7 248.2,721.9 248.3,725.4 248.5,727.1 248.5,727.6 248.6,727.9 248.7,728.3 248.9,728.7 249.3,729.1 250,729.4 253,729.6 268.4,729.5 270.9,729.3 271.9,729.1 272.7,728.6 273.2,728 273.4,727.3 273.6,726.5 273.7,725.8 273.8,724.8 273.9,723.3 274,720.3 274.1,714.1 274.3,701.3 274.4,678.7 274.4,665 274.5,646.5 274.6,613.1 274.7,597.5 274.8,613.1 274.9,646.5 275,678.7 275.1,701.3 275.2,714.1 275.3,720.3 275.4,722.2 275.5,723.3 275.6,724.8 275.7,725.8 275.8,726.5 276,727.4 276.3,728.2 276.8,728.7 277.4,729.1 278.9,729.4 281.6,729.4 282.1,729.2 282.3,729 282.4,728.6 282.7,727.3 282.9,727 283.1,727.3 283.4,728.6 283.5,729 283.7,729.3 284.2,729.5 291.8,729.6 309.3,729.5 311,729.3 311.6,728.9 311.8,728.6 311.9,728.4 312,728 312.1,727.2 312.2,725.7 312.3,725.2 312.3,722.4 312.5,716.7 312.6,708.6 312.7,700.1 312.8,696.5 312.8,696.2 312.9,700.1 313,708.6 313.1,716.7 313.2,722.4 313.3,723.5 313.3,725.7 313.4,727.3 313.6,728 313.7,728.4 313.9,728.8 314.3,729.2 315.2,729.4 320.7,729.6 332.5,729.5 333,729.3 333.1,729 333.2,728.4 333.2,727.9 333.3,726.5 333.4,722.5 333.5,721.5 333.5,722.5 333.6,726.5 333.7,727.5 333.7,727.9 333.8,728.6 333.8,729 333.9,729.3 334.5,729.5 361.1,729.6 363.3,729.4 363.7,729.2 363.9,729 364,728.6 364.1,728.1 364.1,727.7 364.2,726.2 364.5,721.8 364.5,720.9 364.6,720.8 364.7,721.8 364.9,726.2 365.1,727.7 365.2,728.6 365.3,729 365.5,729.3 366.5,729.5 377.5,729.5 380,729.3 380.7,729 381,728.7 381.1,728.4 381.3,727.9 381.5,726.8 381.5,726.6 381.6,724.4 381.8,720.3 381.9,714.4 382,712.8 382.1,708.3 382.3,705.5 382.4,708.3 382.5,710.5 382.6,714.4 382.7,720.3 382.9,724.4 383,725.8 383.1,726.8 383.2,727.9 383.4,728.4 383.7,728.9 384.5,729.3 386.5,729.5 403.4,729.5 406.9,729.4 408.2,729 408.6,728.6 409,728.2 409.1,727.9 409.3,727.3 409.4,726.8 409.4,726.2 409.6,723.9 409.8,719.3 409.9,714 409.9,711 410.1,699.2 410.2,687 410.4,681.5 410.4,681.3 410.6,687 410.7,699.2 410.9,710.4 410.9,711 411,719.3 411.2,723.9 411.4,726.3 411.5,727.3 411.7,727.9 412,728.5 412.5,728.9 413.4,729.3 416.3,729.5 425.2,729.5 425.9,729.3 426,729.2 426.1,729 426.2,728.6 426.3,727.7 426.3,727.1 426.3,726.3 426.5,722 426.6,721 426.7,722 426.8,726.3 426.9,727.7 427,728.6 427.1,729 427.2,729.3 427.9,729.5 430.4,729.5 430.9,729.4 431,729.2 431.2,728.9 431.3,728.3 431.6,726.7 431.8,726.3 432,726.7 432.3,728.3 432.4,728.9 432.6,729.2 432.9,729.4 435.3,729.6 450.5,729.5 451.2,729.3 451.5,729.1 451.7,728.7 452.2,727.6 452.5,727.3 452.7,727.6 453.2,728.7 453.5,729.1 454,729.4 457,729.6 465.7,729.5 466.6,729.3 466.8,729.1 466.9,728.8 467.1,728.2 467.1,727.7 467.2,727 467.5,723.8 467.6,723 467.7,723 467.8,723.8 468.1,727.2 468.3,728.2 468.4,728.8 468.7,729.2 469.5,729.5 471.2,729.4 471.6,729.3 471.9,729 472.1,728.6 472.6,727.3 472.9,727 473.1,727.3 473.6,728.6 473.9,729 474.1,729.3 474.9,729.5 487.1,729.6 491,729.4 491.7,729.1 492,728.8 492.7,727.7 493.1,727.5 493.4,727.7 494.1,728.8 494.5,729.2 495.2,729.5 496.2,729.5"/>
<polyline fill="none" stroke="#2468d8" stroke-width="1.15" stroke-linejoin="round" points="202.2,776.5 202.6,776.4 203,776.7 203.4,775.8 203.8,775.2 204.2,777.6 204.6,776.3 205,777 205.4,777.2 205.8,776.7 206.2,776.8 206.6,776.9 207,777.4 207.4,776.8 207.8,777.2 208.2,776.3 208.6,776.2 209,776.6 209.4,776.7 209.8,776.8 210.2,777.7 210.6,777 211,776.5 211.4,777.7 211.8,776.7 212.2,776.7 212.6,776.8 213,776.3 213.4,775.9 213.8,776.6 214.2,776.3 214.6,776 214.9,776.6 215.3,776.4 215.7,776.1 216.1,775.4 216.5,776.4 216.9,777.5 217.3,777 217.7,777.1 218.1,776.5 218.5,777.1 218.9,776.1 219.3,776.2 219.7,776.8 220.1,775.7 220.5,776.5 220.9,776.7 221.3,777.5 221.7,776.1 222.1,776.8 222.5,776.1 222.9,776.2 223.3,774.9 223.7,775.9 224.1,777.2 224.5,776.8 224.9,776.6 225.3,778 225.7,776.8 226.1,775.8 226.5,776.4 226.9,776.5 227.3,777.5 227.7,776 228.1,776.8 228.5,777.1 228.9,776 229.3,776.6 229.7,775.3 230.1,776.6 230.5,775.2 230.9,776.3 231.3,777.5 231.7,776.7 232.1,776.5 232.5,776.6 232.9,777.8 233.3,776.8 233.7,777.1 234.1,776.2 234.5,776.2 234.9,775.9 235.3,776.4 235.7,776.1 236.1,777.1 236.5,776.9 236.9,776.4 237.3,776.2 237.7,774.8 238.1,776.2 238.5,776.7 238.9,776.9 239.3,774.7 239.6,775.1 240,776.6 240.4,775.9 240.8,776.4 241.2,776.2 241.6,776.9 242,775.4 242.4,776.2 242.8,777.1 243.2,776.6 243.6,776 244,776.8 244.4,776.7 244.8,776 245.2,776.9 245.6,776.9 246,776.4 246.4,777.1 246.8,775.8 247.2,776.1 247.6,770.7 248,770.8 248.4,775.5 248.8,777.2 249.2,776.2 249.6,776.3 250,776.1 250.4,776 250.8,777.1 251.2,777.8 251.6,777.3 252,776.8 252.4,777 252.8,776.3 253.2,776.2 253.6,775.8 254,777.4 254.4,776.3 254.8,776.1 255.2,776.1 255.6,776.6 256,776.2 256.4,776.5 256.8,776.6 257.2,777.3 257.6,775.8 258,776.7 258.4,776.1 258.8,776.2 259.2,777.5 259.6,776.9 260,776.3 260.4,776.8 260.8,776.5 261.2,777.2 261.6,776.2 262,776.8 262.4,776.4 262.8,776.5 263.2,776.4 263.6,776.1 264,776.6 264.4,777.1 264.7,776.1 265.1,776.3 265.5,776.7 265.9,776.1 266.3,777 266.7,776.9 267.1,775.1 267.5,776.1 267.9,775.9 268.3,777 268.7,777.1 269.1,775.8 269.5,776.1 269.9,776.5 270.3,776.3 270.7,776.9 271.1,777.1 271.5,776.9 271.9,777.2 272.3,777.1 272.7,776.5 273.1,776.2 273.5,776.1 273.9,777 274.3,775.2 274.7,768.2 275.1,776.2 275.5,780.1 275.9,777 276.3,777.2 276.7,776.7 277.1,776.6 277.5,776 277.9,776.8 278.3,776.8 278.7,775.9 279.1,777.5 279.5,776 279.9,777.1 280.3,776.4 280.7,776.6 281.1,776 281.5,776.2 281.9,776.9 282.3,775.8 282.7,771.3 283.1,771.2 283.5,776 283.9,776.6 284.3,776.6 284.7,777.5 285.1,776.4 285.5,776.7 285.9,776.8 286.3,775.7 286.7,775.4 287.1,776.6 287.5,777 287.9,776.6 288.3,776.2 288.7,776.1 289.1,777 289.4,776.3 289.8,775.6 290.2,776.9 290.6,776.6 291,776.7 291.4,777.1 291.8,777.3 292.2,776.8 292.6,776.4 293,775.3 293.4,776.7 293.8,776.4 294.2,777.3 294.6,777.3 295,776.8 295.4,777.3 295.8,776.5 296.2,776.5 296.6,776 297,776.3 297.4,776.6 297.8,777.1 298.2,776.1 298.6,777 299,777.9 299.4,775.7 299.8,776.4 300.2,776.5 300.6,777.1 301,777.7 301.4,777.2 301.8,776.5 302.2,776 302.6,776.5 303,776.5 303.4,776.7 303.8,776 304.2,777.4 304.6,776.1 305,776.9 305.4,776.6 305.8,775.9 306.2,776.5 306.6,776.5 307,776.4 307.4,777 307.8,776.2 308.2,778 308.6,777.2 309,776 309.4,775 309.8,777.2 310.2,776.7 310.6,776.6 311,775.9 311.4,775.7 311.8,775.4 312.2,777.8 312.6,775.7 313,774.1 313.4,777.3 313.8,775.4 314.2,776.9 314.5,776.9 314.9,776 315.3,776.2 315.7,775.9 316.1,776.5 316.5,777.3 316.9,777.1 317.3,776.8 317.7,777.2 318.1,775.4 318.5,777.7 318.9,776.5 319.3,775.7 319.7,776.3 320.1,776.1 320.5,776.6 320.9,776.7 321.3,775.1 321.7,777.3 322.1,777.5 322.5,775.9 322.9,777.4 323.3,777.3 323.7,777.1 324.1,777.5 324.5,775.7 324.9,776.9 325.3,775.9 325.7,777.9 326.1,775.9 326.5,775.8 326.9,777.2 327.3,776.9 327.7,776.5 328.1,776.6 328.5,776.9 328.9,777.5 329.3,776.1 329.7,776.2 330.1,776.2 330.5,776.5 330.9,776.5 331.3,775.7 331.7,776.7 332.1,775.7 332.5,776.3 332.9,776.5 333.3,781.6 333.7,781.8 334.1,777.6 334.5,777.1 334.9,777.4 335.3,776.3 335.7,777.3 336.1,776.5 336.5,776.6 336.9,776.7 337.3,775.7 337.7,776.1 338.1,776.4 338.5,776.7 338.9,776.4 339.2,776 339.6,775.8 340,776.5 340.4,775.8 340.8,775.8 341.2,776.4 341.6,776.6 342,776 342.4,775.4 342.8,776.7 343.2,777 343.6,776.3 344,776.3 344.4,775.1 344.8,777 345.2,775.8 345.6,776.9 346,776.1 346.4,776.4 346.8,776.4 347.2,775.4 347.6,778.1 348,775.6 348.4,776.6 348.8,776 349.2,776.4 349.6,777.3 350,775.4 350.4,776.4 350.8,776.8 351.2,776.6 351.6,776.7 352,776.1 352.4,775.5 352.8,775.7 353.2,776.3 353.6,776.9 354,776.5 354.4,777.5 354.8,776.6 355.2,776.6 355.6,776.6 356,775.5 356.4,776.8 356.8,775.8 357.2,776.3 357.6,777.9 358,775.8 358.4,776.6 358.8,776.7 359.2,776.6 359.6,776.5 360,776.2 360.4,777.7 360.8,775.3 361.2,775.9 361.6,777.4 362,776.8 362.4,776 362.8,776 363.2,776.4 363.6,778.1 364,776.3 364.3,771.2 364.7,771.2 365.1,775.3 365.5,777.4 365.9,776.7 366.3,777.3 366.7,776.6 367.1,777.7 367.5,776.7 367.9,776.7 368.3,775.9 368.7,776.2 369.1,776.7 369.5,776.2 369.9,778 370.3,776.5 370.7,776 371.1,777.1 371.5,776.2 371.9,776.7 372.3,776.4 372.7,776.1 373.1,777.3 373.5,776.6 373.9,777.2 374.3,776.3 374.7,775.6 375.1,775.8 375.5,776.2 375.9,776.4 376.3,776.5 376.7,776.8 377.1,775.8 377.5,776.6 377.9,775.8 378.3,776.1 378.7,778 379.1,777.3 379.5,776.3 379.9,777.6 380.3,777.4 380.7,777 381.1,777.4 381.5,775.9 381.9,768.6 382.3,756.5 382.7,770.3 383.1,775.5 383.5,776.2 383.9,776.8 384.3,776.2 384.7,776.7 385.1,777.6 385.5,775.9 385.9,777.3 386.3,776.1 386.7,775.9 387.1,776.6 387.5,777.1 387.9,776.1 388.3,776.1 388.7,776.2 389,776.1 389.4,776.6 389.8,776.1 390.2,776.3 390.6,776.7 391,776.2 391.4,777.2 391.8,776.1 392.2,776 392.6,777.7 393,777.4 393.4,776.5 393.8,777 394.2,776.7 394.6,776.2 395,776.9 395.4,776.7 395.8,777.3 396.2,775.4 396.6,777 397,776.6 397.4,776.1 397.8,776.2 398.2,776.3 398.6,775.7 399,776.2 399.4,777 399.8,775.6 400.2,776.3 400.6,775.1 401,776.2 401.4,776.7 401.8,776.5 402.2,776.5 402.6,775.8 403,776.8 403.4,776 403.8,777 404.2,776.6 404.6,776.3 405,777.4 405.4,776.3 405.8,777.1 406.2,776.6 406.6,776.5 407,777.1 407.4,776.8 407.8,776.5 408.2,776.4 408.6,776.6 409,776.6 409.4,776.8 409.8,778.9 410.2,782.7 410.6,784.7 411,780 411.4,777.9 411.8,776.8 412.2,777.2 412.6,777.5 413,776.4 413.4,776 413.8,777 414.1,776.1 414.5,776.3 414.9,777.4 415.3,776.8 415.7,777.2 416.1,775.7 416.5,776.5 416.9,777.2 417.3,775.7 417.7,776.6 418.1,776.7 418.5,775.1 418.9,777.5 419.3,776.1 419.7,776.4 420.1,777.5 420.5,775.4 420.9,776.8 421.3,776.2 421.7,776.5 422.1,776 422.5,777.3 422.9,775.8 423.3,776.7 423.7,776.8 424.1,776.4 424.5,776.3 424.9,776.3 425.3,777.1 425.7,776.8 426.1,777 426.5,782.8 426.9,779 427.3,776.8 427.7,776.5 428.1,777.4 428.5,775.4 428.9,778 429.3,776.4 429.7,775.8 430.1,775.5 430.5,777 430.9,776.9 431.3,776.9 431.7,779.2 432.1,778.5 432.5,776.4 432.9,777.2 433.3,776.9 433.7,776.4 434.1,775.5 434.5,777.3 434.9,776.2 435.3,775.9 435.7,777.3 436.1,776.8 436.5,775.3 436.9,775.5 437.3,776.3 437.7,775.7 438.1,776.4 438.5,778.1 438.8,778.3 439.2,776.5 439.6,777 440,777 440.4,776.4 440.8,775.6 441.2,777.1 441.6,776.4 442,776.8 442.4,776.9 442.8,776 443.2,777.5 443.6,776.6 444,776.6 444.4,776.2 444.8,776.9 445.2,777.1 445.6,776.2 446,776.9 446.4,776.2 446.8,775.8 447.2,776.3 447.6,776.9 448,776.8 448.4,777.2 448.8,776.1 449.2,776.3 449.6,776.5 450,776.9 450.4,776.4 450.8,775.9 451.2,775.6 451.6,777.1 452,776.6 452.4,774.6 452.8,776.4 453.2,776.3 453.6,776.8 454,777.3 454.4,776.2 454.8,776 455.2,775.5 455.6,776.7 456,776.8 456.4,777 456.8,776.9 457.2,776.6 457.6,777.2 458,775.9 458.4,776.7 458.8,776.8 459.2,776.4 459.6,777.5 460,776.8 460.4,777.3 460.8,777 461.2,776.4 461.6,777.7 462,777.2 462.4,776.5 462.8,776.4 463.2,775.9 463.6,776.4 463.9,776.4 464.3,776.6 464.7,776.3 465.1,776.9 465.5,776.5 465.9,775.6 466.3,776.2 466.7,775.9 467.1,774.6 467.5,770.5 467.9,772.9 468.3,775.4 468.7,775.3 469.1,776.4 469.5,778.3 469.9,776.2 470.3,776.7 470.7,776.3 471.1,777 471.5,777.4 471.9,776.4 472.3,777.2 472.7,775.9 473.1,776.6 473.5,775.7 473.9,776.6 474.3,776.1 474.7,776.7 475.1,775.8 475.5,776.7 475.9,776.6 476.3,776.2 476.7,776 477.1,775.8 477.5,776.3 477.9,776.8 478.3,776.4 478.7,776.6 479.1,777.3 479.5,776.3 479.9,776.7 480.3,777 480.7,776.8 481.1,776.7 481.5,776.6 481.9,777.7 482.3,776.5 482.7,776.3 483.1,776.9 483.5,777.5 483.9,777.4 484.3,776.5 484.7,777 485.1,776.8 485.5,776.6 485.9,776.9 486.3,776.9 486.7,776.6 487.1,777.6 487.5,776.3 487.9,777.4 488.3,777.8 488.6,777.8 489,776.7 489.4,776.4 489.8,775.6 490.2,776.5 490.6,778 491,775.6 491.4,775.6 491.8,777 492.2,776.9 492.6,775.4 493,776.5 493.4,776.7 493.8,775.6 494.2,777.1 494.6,775.7 495,777.2 495.4,776.6 495.8,776.1 496.2,775.5"/>
</g>
<path d="M247.8 747.4V752.8M274.7 747.4V752.8M282.9 747.4V752.8M312.8 747.4V752.8M333.5 747.4V752.8M364.6 747.4V752.8M382.3 747.4V752.8M410.4 747.4V752.8M426.6 747.4V752.8M431.8 747.4V752.8M452.5 747.4V752.8M467.7 747.4V752.8M472.9 747.4V752.8M493.1 747.4V752.8" stroke="#4aa84a" stroke-width="1.45" fill="none"/>
<path d="M222.4 785.6V783.2M247.3 785.6V781.4M272.2 785.6V783.2M297.1 785.6V781.4M322 785.6V783.2M346.9 785.6V781.4M371.8 785.6V783.2M396.7 785.6V781.4M421.6 785.6V783.2M446.5 785.6V781.4M471.4 785.6V783.2" stroke="#000" stroke-width="1.3" fill="none"/>
<rect x="202.2" y="558.0" width="294.1" height="227.6" fill="none" stroke="#000" stroke-width="1.6"/>
<clipPath id="clipTp5"><rect x="0" y="0" width="500" height="825"/></clipPath>
<g class="tk" clip-path="url(#clipTp5)"><text transform="translate(247.3 802.7) scale(1.06 1)">30</text><text transform="translate(297.1 802.7) scale(1.06 1)">40</text><text transform="translate(346.9 802.7) scale(1.06 1)">50</text><text transform="translate(396.7 802.7) scale(1.06 1)">60</text><text transform="translate(446.5 802.7) scale(1.06 1)">70</text><text transform="translate(496.3 802.7) scale(1.06 1)">80</text></g>
<text class="ax" transform="translate(349.6 821.3) scale(1.065 1)" text-anchor="middle">Angle (2θ)</text>
<text class="ax" transform="translate(191.2 671.8) rotate(-90)" text-anchor="middle">Intensity (a.u.)</text>
<circle cx="387.3" cy="567.9" r="1.6" fill="#fff" stroke="#555" stroke-width="0.5"/>
<path d="M371.7 587H402.5" stroke="#ff0000" stroke-width="1.75"/>
<path d="M371.7 605.5H402.5" stroke="#4f88e0" stroke-width="1"/>
<path d="M387.3 622.5V627.5" stroke="#5fb55f" stroke-width="1.2"/>
<g class="lg">
<text x="405.7" y="573.2">I<tspan class="sb" dy="3.1">obs</tspan></text>
<text x="405.7" y="591.5">I<tspan class="sb" dy="3.1">calc</tspan></text>
<text x="405.7" y="610.8">I<tspan class="sb" dy="3.1">obs</tspan><tspan dy="-3.1">- I</tspan><tspan class="sb" dy="3.1">calc</tspan></text>
<text x="405.7" y="629.4">Bragg positions</text>
</g>
<text class="lb" x="378.6" y="654.7">Co-NZFO | <tspan font-style="italic">Fd-3m</tspan></text>
</g>
<text class="ax" x="507.5" y="792.5">)</text>
</svg>
</body></html>
